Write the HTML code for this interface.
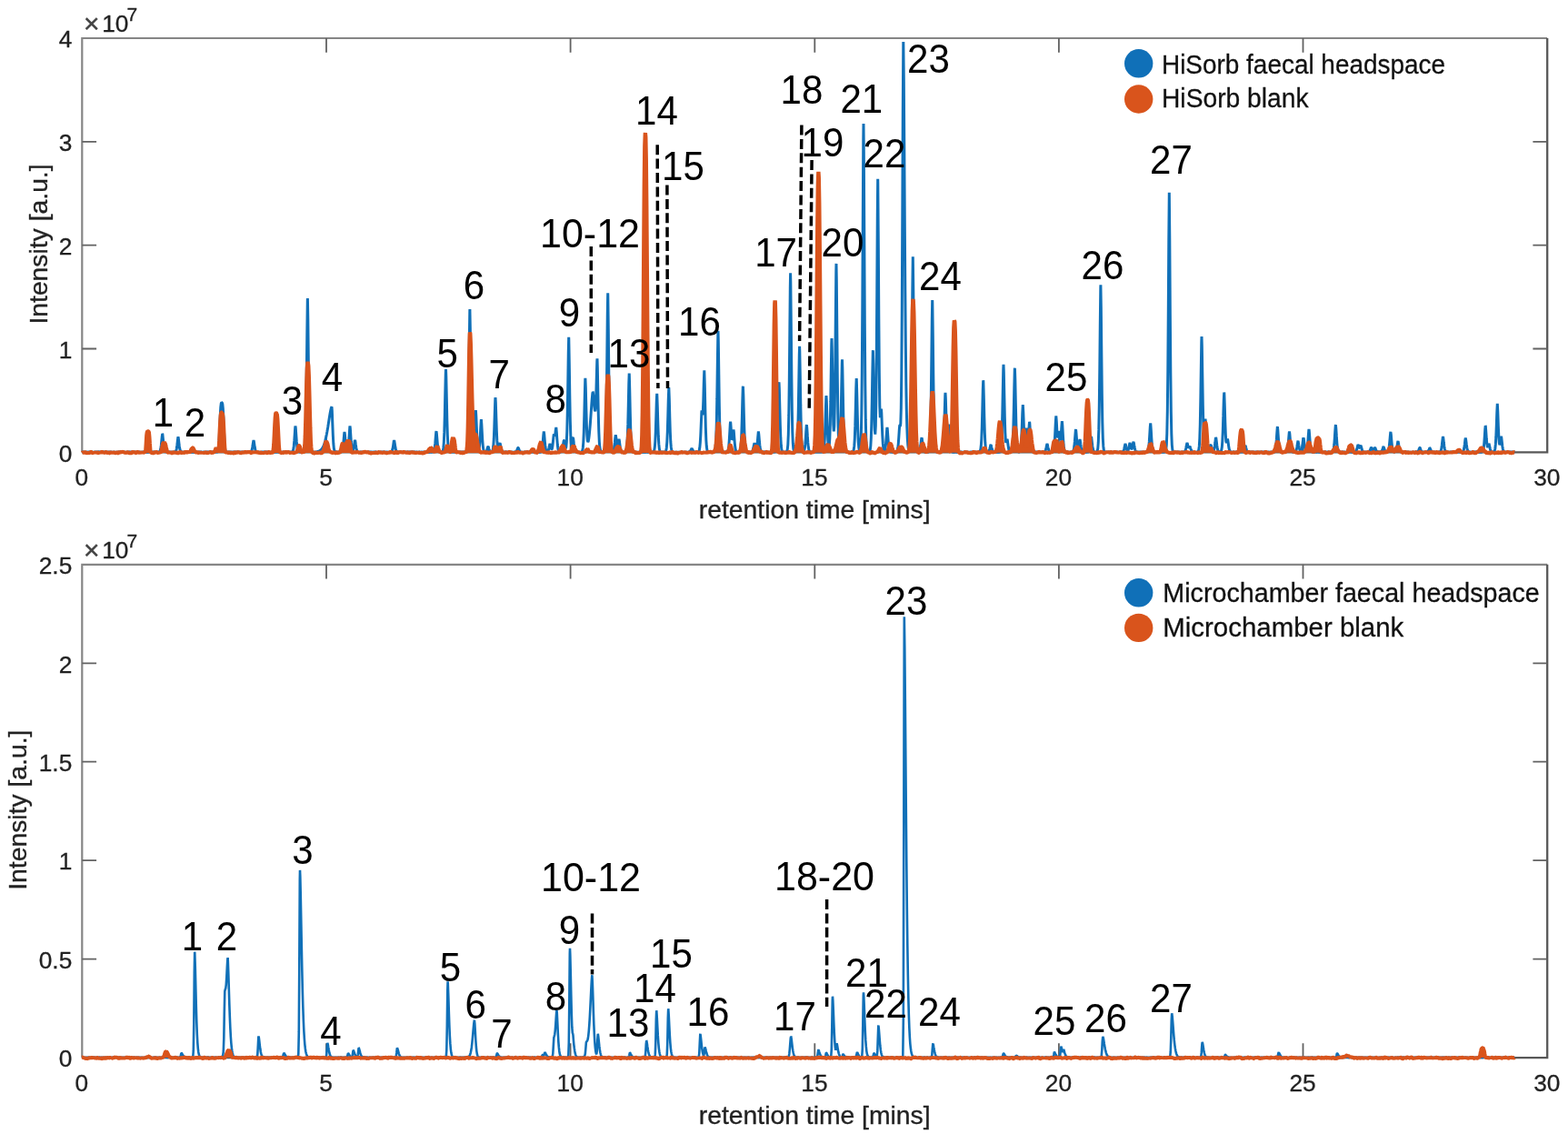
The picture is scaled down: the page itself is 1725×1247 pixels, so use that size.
<!DOCTYPE html>
<html lang="en"><head><meta charset="utf-8"><title>Chromatograms: HiSorb vs Microchamber faecal headspace</title>
<style>
html,body{margin:0;padding:0;background:#fff;}
body{width:1725px;height:1247px;overflow:hidden;}
svg{display:block;}
text{font-family:"Liberation Sans",sans-serif;}
.tk{font-size:26.3px;fill:#222;stroke:#222;stroke-width:0.3px;}
.al{font-size:28.3px;fill:#222;stroke:#222;stroke-width:0.35px;}
.pk{font-size:45px;fill:#000;text-anchor:middle;}
.lg{font-size:30.4px;fill:#111;stroke:#111;stroke-width:0.3px;}
.dash{stroke:#000;stroke-width:3.5;stroke-dasharray:11 4.4;fill:none;}
</style></head><body>
<svg width="1725" height="1247" viewBox="0 0 1725 1247">
<rect width="1725" height="1247" fill="#fff"/>
<g id="top">
<path d="M90.3,497.4 L90.3,42.0 L1702.2,42.0" fill="none" stroke="#868686" stroke-width="2.2"/>
<path d="M90.3,497.4 L1702.2,497.4 L1702.2,42.0" fill="none" stroke="#585858" stroke-width="2.3"/>
<path d="M359.0,42.0 v15.8 M359.0,497.4 v-15.8 M627.6,42.0 v15.8 M627.6,497.4 v-15.8 M896.3,42.0 v15.8 M896.3,497.4 v-15.8 M1164.9,42.0 v15.8 M1164.9,497.4 v-15.8 M1433.5,42.0 v15.8 M1433.5,497.4 v-15.8 M90.3,383.5 h15.8 M1702.2,383.5 h-15.8 M90.3,269.7 h15.8 M1702.2,269.7 h-15.8 M90.3,155.9 h15.8 M1702.2,155.9 h-15.8" fill="none" stroke="#626262" stroke-width="1.8"/>
<text class="tk" x="89.9" y="534.0" text-anchor="middle">0</text>
<text class="tk" x="358.6" y="534.0" text-anchor="middle">5</text>
<text class="tk" x="627.2" y="534.0" text-anchor="middle">10</text>
<text class="tk" x="895.9" y="534.0" text-anchor="middle">15</text>
<text class="tk" x="1164.5" y="534.0" text-anchor="middle">20</text>
<text class="tk" x="1433.1" y="534.0" text-anchor="middle">25</text>
<text class="tk" x="1701.8" y="534.0" text-anchor="middle">30</text>
<text class="tk" x="79.3" y="507.6" text-anchor="end">0</text>
<text class="tk" x="79.3" y="393.7" text-anchor="end">1</text>
<text class="tk" x="79.3" y="279.9" text-anchor="end">2</text>
<text class="tk" x="79.3" y="166.1" text-anchor="end">3</text>
<text class="tk" x="79.3" y="52.2" text-anchor="end">4</text>
<text class="tk" x="92.1" y="35.4"><tspan font-size="30px" dy="1" fill="#444">×</tspan><tspan dx="2.5" dy="-1">10</tspan><tspan dy="-12.5" dx="-2" font-size="21px">7</tspan></text>
<text class="al" x="896.2" y="570.3" text-anchor="middle">retention time [mins]</text>
<text class="al" transform="translate(52.0,268.5) rotate(-90)" text-anchor="middle">Intensity [a.u.]</text>
<polyline fill="none" stroke="#1070b8" stroke-width="3.0" stroke-linejoin="bevel" points="90.3,497.1 90.8,497.1 91.3,496.9 91.8,497.1 92.3,497.1 92.8,497.1 93.3,497.2 93.8,497.1 94.3,497.1 94.8,497.0 95.3,497.2 95.8,497.2 96.3,497.3 96.8,497.0 97.3,497.0 97.8,497.2 98.3,497.0 98.8,496.9 99.3,497.0 99.8,497.0 100.3,497.2 100.8,497.3 101.3,497.2 101.8,497.3 102.3,497.3 102.8,497.3 103.3,497.3 103.8,497.2 104.3,497.2 104.8,497.0 105.3,497.1 105.8,497.0 106.3,497.1 106.8,497.0 107.3,497.1 107.8,497.2 108.3,496.9 108.8,496.8 109.3,496.9 109.8,496.9 110.3,497.1 110.8,497.2 111.3,497.2 111.8,497.3 112.3,497.1 112.8,497.1 113.3,497.0 113.8,497.1 114.3,496.9 114.8,496.9 115.3,497.2 115.8,497.3 116.3,497.0 116.8,497.1 117.3,496.9 117.8,497.1 118.3,497.3 118.8,497.1 119.3,497.0 119.8,497.2 120.3,497.3 120.8,497.2 121.3,497.0 121.8,497.0 122.3,497.2 122.8,497.2 123.3,497.3 123.8,497.3 124.3,497.1 124.8,497.2 125.3,497.1 125.8,497.1 126.3,497.2 126.8,497.1 127.3,497.2 127.8,497.1 128.3,497.2 128.8,497.2 129.3,497.2 129.8,497.2 130.3,497.0 130.8,496.9 131.3,497.1 131.8,497.0 132.3,497.2 132.8,497.2 133.3,497.0 133.8,497.0 134.3,497.2 134.8,497.0 135.3,497.2 135.8,497.2 136.3,497.0 136.8,497.1 137.3,497.2 137.8,497.3 138.3,497.3 138.8,497.1 139.3,497.2 139.8,497.1 140.3,497.2 140.8,497.1 141.3,496.9 141.8,497.0 142.3,497.1 142.8,496.9 143.3,497.2 143.8,497.3 144.3,497.0 144.8,496.9 145.3,497.1 145.8,497.2 146.3,497.1 146.8,496.9 147.3,497.2 147.8,496.9 148.3,496.9 148.8,497.0 149.3,497.1 149.8,497.3 150.3,497.3 150.8,497.0 151.3,497.2 151.8,497.0 152.3,497.2 152.8,497.0 153.3,497.0 153.8,497.2 154.3,497.2 154.8,497.1 155.3,497.3 155.8,497.3 156.3,497.1 156.8,497.0 157.3,497.0 157.8,497.2 158.3,497.0 158.8,497.2 159.3,497.3 159.8,497.3 160.3,497.2 160.8,497.3 161.3,497.3 161.8,497.2 162.3,497.1 162.8,497.2 163.3,497.2 163.8,497.0 164.3,496.9 164.8,497.0 165.3,497.0 165.8,497.0 166.3,497.2 166.8,497.3 167.3,497.4 167.8,497.0 168.3,497.0 168.8,496.9 169.3,497.2 169.8,497.1 170.3,497.1 170.8,497.0 171.3,497.1 171.8,496.9 172.3,497.2 172.8,497.1 173.3,497.0 173.8,496.9 174.3,496.9 174.8,496.9 175.3,496.7 175.8,496.2 176.3,495.4 176.8,493.4 177.3,489.9 177.8,485.0 178.3,479.7 178.7,477.0 178.8,477.2 179.3,481.8 179.8,487.2 180.3,491.7 180.8,494.4 181.3,495.9 181.8,496.8 182.3,496.9 182.8,496.8 183.3,496.9 183.8,496.9 184.3,497.1 184.8,497.0 185.3,497.0 185.8,497.1 186.3,497.0 186.8,497.2 187.3,497.0 187.8,497.3 188.3,497.1 188.8,497.1 189.3,497.2 189.8,497.1 190.3,497.1 190.8,497.0 191.3,496.9 191.8,497.1 192.3,497.2 192.8,496.9 193.3,496.3 193.8,495.3 194.3,493.3 194.8,489.7 195.3,485.3 195.8,481.3 196.0,480.4 196.3,482.0 196.8,486.3 197.3,490.7 197.8,493.7 198.3,495.4 198.8,496.2 199.3,496.6 199.8,497.0 200.3,497.0 200.8,497.1 201.3,497.3 201.8,497.2 202.3,497.0 202.8,496.9 203.3,497.0 203.8,496.9 204.3,497.1 204.8,497.2 205.3,497.2 205.8,497.2 206.3,497.3 206.8,497.2 207.3,497.1 207.8,497.1 208.3,497.2 208.8,497.0 209.3,496.9 209.8,497.0 210.3,497.2 210.8,497.3 211.3,497.0 211.8,497.3 212.3,497.1 212.8,497.1 213.3,497.2 213.8,497.0 214.3,497.3 214.8,497.3 215.3,497.2 215.8,497.3 216.3,497.0 216.8,497.2 217.3,497.3 217.8,497.3 218.3,497.1 218.8,497.1 219.3,497.1 219.8,497.0 220.3,497.0 220.8,496.9 221.3,496.9 221.8,497.2 222.3,497.1 222.8,497.2 223.3,497.3 223.8,497.2 224.3,497.0 224.8,497.2 225.3,497.2 225.8,497.2 226.3,497.1 226.8,497.1 227.3,497.0 227.8,497.0 228.3,497.1 228.8,497.0 229.3,496.9 229.8,497.2 230.3,497.0 230.8,497.0 231.3,497.2 231.8,497.2 232.3,497.1 232.8,496.9 233.3,497.1 233.8,497.1 234.3,496.9 234.8,496.9 235.3,496.9 235.8,497.0 236.3,497.0 236.8,497.2 237.3,497.0 237.8,497.0 238.3,497.0 238.8,497.0 239.3,497.0 239.8,496.3 240.3,494.1 240.8,488.9 241.3,479.9 241.8,467.8 242.3,456.3 242.8,447.7 243.3,443.5 243.8,442.6 244.0,442.8 244.3,442.8 244.8,444.2 245.3,449.1 245.8,458.4 246.3,470.7 246.8,482.1 247.3,490.7 247.8,494.9 248.3,496.7 248.8,497.1 249.3,497.0 249.8,497.2 250.3,497.3 250.8,497.2 251.3,497.0 251.8,496.9 252.3,497.0 252.8,496.9 253.3,497.0 253.8,496.9 254.3,497.2 254.8,497.2 255.3,497.1 255.8,497.2 256.3,497.0 256.8,497.0 257.3,497.1 257.8,497.0 258.3,497.0 258.8,497.1 259.3,497.2 259.8,497.0 260.3,496.9 260.8,497.1 261.3,497.0 261.8,496.9 262.3,497.0 262.8,497.0 263.3,497.2 263.8,497.1 264.3,497.1 264.8,497.1 265.3,497.3 265.8,497.0 266.3,497.1 266.8,497.1 267.3,497.0 267.8,497.0 268.3,497.1 268.8,497.0 269.3,497.2 269.8,497.1 270.3,497.1 270.8,496.9 271.3,496.9 271.8,497.1 272.3,497.1 272.8,497.3 273.3,497.2 273.8,497.0 274.3,496.9 274.8,497.0 275.3,497.1 275.8,497.0 276.3,496.5 276.8,495.4 277.3,494.1 277.8,491.3 278.3,488.1 278.8,484.9 279.0,484.3 279.3,485.2 279.8,488.7 280.3,492.1 280.8,494.4 281.3,496.0 281.8,496.5 282.3,497.0 282.8,497.1 283.3,497.2 283.8,497.3 284.3,497.1 284.8,497.1 285.3,497.2 285.8,497.2 286.3,497.1 286.8,497.2 287.3,497.3 287.8,497.1 288.3,497.0 288.8,497.1 289.3,497.0 289.8,497.0 290.3,496.9 290.8,497.1 291.3,497.0 291.8,497.0 292.3,496.9 292.8,497.1 293.3,497.2 293.8,497.0 294.3,497.2 294.8,496.9 295.3,496.9 295.8,497.2 296.3,497.2 296.8,497.1 297.3,497.2 297.8,497.3 298.3,497.0 298.8,497.1 299.3,497.0 299.8,497.2 300.3,497.2 300.8,497.1 301.3,497.3 301.8,497.3 302.3,497.1 302.8,496.9 303.3,496.9 303.8,497.2 304.3,497.1 304.8,497.0 305.3,497.1 305.8,497.0 306.3,497.2 306.8,497.3 307.3,497.3 307.8,497.4 308.3,497.2 308.8,497.1 309.3,497.1 309.8,497.2 310.3,497.3 310.8,497.3 311.3,497.0 311.8,496.9 312.3,496.9 312.8,497.2 313.3,497.3 313.8,497.0 314.3,497.1 314.8,497.0 315.3,497.1 315.8,497.1 316.3,497.1 316.8,497.1 317.3,497.1 317.8,497.3 318.3,497.1 318.8,497.0 319.3,497.2 319.8,497.1 320.3,497.0 320.8,497.0 321.3,497.0 321.8,496.7 322.3,495.7 322.8,494.0 323.3,490.2 323.8,484.4 324.3,476.8 324.8,469.7 325.0,468.5 325.3,471.0 325.8,478.5 326.3,485.9 326.8,491.0 327.3,494.1 327.8,496.0 328.3,496.5 328.8,496.8 329.3,496.9 329.8,496.9 330.3,497.1 330.8,496.9 331.3,496.9 331.8,497.0 332.3,496.9 332.8,496.9 333.3,497.0 333.8,496.9 334.3,496.8 334.8,495.8 335.3,493.2 335.8,487.3 336.3,474.6 336.8,451.1 337.3,414.3 337.8,368.3 338.3,330.5 338.4,328.0 338.8,350.4 339.3,396.4 339.8,438.0 340.3,466.6 340.8,483.1 341.3,491.1 341.8,494.8 342.3,496.2 342.8,496.7 343.3,496.8 343.8,497.2 344.3,497.1 344.8,497.0 345.3,497.1 345.8,497.1 346.3,497.2 346.8,497.2 347.3,497.1 347.8,497.1 348.3,497.0 348.8,496.7 349.3,496.6 349.8,496.5 350.3,496.2 350.8,496.2 351.3,495.8 351.8,495.6 352.3,495.3 352.8,495.2 353.3,494.6 353.8,493.9 354.3,493.5 354.8,492.5 355.3,491.7 355.8,490.6 356.3,489.5 356.8,488.0 357.3,486.3 357.8,484.6 358.3,482.3 358.8,480.2 359.3,477.7 359.8,475.0 360.3,472.2 360.8,469.2 361.3,466.0 361.8,462.7 362.3,459.6 362.8,456.4 363.3,453.5 363.8,451.1 364.3,448.9 364.8,447.6 365.0,447.3 365.3,451.6 365.8,465.4 366.3,478.3 366.8,487.5 367.3,492.9 367.8,495.2 368.3,496.2 368.8,497.0 369.3,496.9 369.8,497.1 370.3,497.1 370.8,496.9 371.3,497.1 371.8,497.1 372.3,496.9 372.8,497.0 373.3,497.1 373.8,496.9 374.3,496.9 374.8,496.9 375.3,497.1 375.8,496.7 376.3,496.0 376.8,494.7 377.3,492.1 377.8,487.5 378.3,481.7 378.8,476.2 379.0,475.1 379.3,477.0 379.8,482.9 380.3,488.4 380.8,492.5 381.3,494.7 381.8,495.6 382.3,495.1 382.8,493.5 383.3,490.1 383.8,484.6 384.3,477.1 384.8,469.8 385.0,468.5 385.3,470.9 385.8,478.6 386.3,486.0 386.8,491.0 387.3,494.0 387.8,495.2 388.3,495.1 388.8,493.7 389.3,491.4 389.8,488.0 390.3,484.5 390.5,483.9 390.8,485.0 391.3,488.7 391.8,492.2 392.3,494.6 392.8,495.9 393.3,496.5 393.8,497.0 394.3,497.1 394.8,497.3 395.3,497.3 395.8,497.1 396.3,497.1 396.8,497.0 397.3,497.1 397.8,497.1 398.3,497.2 398.8,497.2 399.3,497.0 399.8,496.9 400.3,497.2 400.8,497.3 401.3,497.0 401.8,497.0 402.3,497.0 402.8,497.2 403.3,497.2 403.8,497.2 404.3,497.0 404.8,497.1 405.3,497.0 405.8,496.9 406.3,497.1 406.8,497.1 407.3,497.0 407.8,496.9 408.3,497.1 408.8,497.1 409.3,497.3 409.8,497.0 410.3,497.2 410.8,497.3 411.3,497.1 411.8,497.1 412.3,497.0 412.8,497.2 413.3,497.0 413.8,497.2 414.3,497.3 414.8,497.1 415.3,497.3 415.8,497.2 416.3,497.1 416.8,497.0 417.3,497.2 417.8,497.3 418.3,497.2 418.8,497.1 419.3,497.1 419.8,497.3 420.3,497.1 420.8,497.1 421.3,496.9 421.8,496.9 422.3,496.9 422.8,497.0 423.3,497.0 423.8,497.1 424.3,497.2 424.8,497.2 425.3,497.0 425.8,496.9 426.3,497.1 426.8,497.2 427.3,497.2 427.8,497.2 428.3,497.2 428.8,497.2 429.3,497.2 429.8,497.1 430.3,496.8 430.8,496.5 431.3,495.7 431.8,494.3 432.3,492.1 432.8,488.6 433.3,485.0 433.6,484.1 433.8,484.9 434.3,488.0 434.8,491.4 435.3,494.0 435.8,495.4 436.3,496.3 436.8,496.7 437.3,497.1 437.8,497.1 438.3,497.0 438.8,497.2 439.3,497.3 439.8,497.1 440.3,496.9 440.8,497.2 441.3,497.1 441.8,497.2 442.3,497.1 442.8,497.0 443.3,497.2 443.8,497.2 444.3,497.0 444.8,497.1 445.3,497.0 445.8,497.1 446.3,497.2 446.8,496.9 447.3,497.0 447.8,497.1 448.3,497.1 448.8,497.0 449.3,497.0 449.8,496.9 450.3,497.1 450.8,497.0 451.3,497.0 451.8,496.9 452.3,496.9 452.8,496.9 453.3,496.9 453.8,496.8 454.3,497.0 454.8,497.0 455.3,497.0 455.8,496.9 456.3,497.1 456.8,497.1 457.3,497.2 457.8,497.1 458.3,496.9 458.8,497.1 459.3,497.2 459.8,497.3 460.3,497.2 460.8,497.2 461.3,497.0 461.8,497.2 462.3,497.2 462.8,497.3 463.3,497.1 463.8,497.0 464.3,497.2 464.8,497.3 465.3,497.2 465.8,497.1 466.3,496.9 466.8,497.2 467.3,497.3 467.8,497.3 468.3,497.3 468.8,497.3 469.3,497.1 469.8,497.1 470.3,497.2 470.8,497.3 471.3,497.2 471.8,497.3 472.3,497.1 472.8,497.2 473.3,497.1 473.8,497.0 474.3,497.1 474.8,497.2 475.3,497.0 475.8,496.8 476.3,496.9 476.8,496.6 477.3,495.8 477.8,494.4 478.3,491.7 478.8,487.2 479.3,480.7 479.8,475.0 480.0,474.1 480.3,476.1 480.8,482.1 481.3,488.1 481.8,492.2 482.3,494.7 482.8,496.2 483.3,496.9 483.8,497.1 484.3,497.1 484.8,497.0 485.3,497.0 485.8,497.0 486.3,497.0 486.8,496.6 487.3,495.5 487.8,492.7 488.3,486.6 488.8,475.4 489.3,457.0 489.8,432.5 490.3,410.3 490.5,406.1 490.8,414.0 491.3,437.8 491.8,461.5 492.3,478.1 492.8,488.1 493.3,493.2 493.8,495.8 494.3,496.7 494.8,496.9 495.3,497.2 495.8,497.1 496.3,497.1 496.8,496.9 497.3,497.0 497.8,496.9 498.3,497.1 498.8,497.0 499.3,497.1 499.8,496.9 500.3,497.2 500.8,497.0 501.3,497.2 501.8,497.1 502.3,497.1 502.8,497.2 503.3,497.0 503.8,497.1 504.3,497.2 504.8,497.3 505.3,497.2 505.8,497.2 506.3,497.0 506.8,497.1 507.3,497.0 507.8,497.2 508.3,497.2 508.8,497.1 509.3,496.9 509.8,496.9 510.3,497.0 510.8,497.2 511.3,497.2 511.8,497.0 512.3,497.0 512.8,496.7 513.3,495.8 513.8,493.6 514.3,487.7 514.8,475.9 515.3,454.4 515.8,420.2 516.3,377.4 516.8,342.6 516.9,340.1 517.3,360.9 517.8,403.7 518.3,442.3 518.8,468.7 519.3,484.0 519.8,491.5 520.3,493.9 520.8,493.7 521.3,490.6 521.8,484.4 522.3,474.5 522.8,462.0 523.3,451.7 523.4,451.2 523.8,457.4 524.3,469.9 524.8,481.0 525.3,488.6 525.8,493.1 526.3,494.7 526.8,494.3 527.3,492.0 527.8,487.4 528.3,479.6 528.8,469.8 529.3,461.9 529.4,461.2 529.8,466.1 530.3,475.6 530.8,484.5 531.3,490.6 531.8,494.1 532.3,495.7 532.8,496.5 533.3,496.9 533.8,497.0 534.3,496.8 534.8,496.6 535.3,495.8 535.8,494.4 536.3,492.7 536.8,491.2 537.0,491.0 537.3,491.5 537.8,493.4 538.3,494.9 538.8,496.0 539.3,496.5 539.8,497.0 540.3,497.1 540.8,497.0 541.3,496.6 541.8,495.8 542.3,494.0 542.8,490.3 543.3,482.7 543.8,470.5 544.3,454.6 544.8,439.9 545.0,437.1 545.3,442.4 545.8,458.0 546.3,473.2 546.8,484.4 547.3,490.6 547.8,493.3 548.3,493.8 548.8,492.2 549.3,489.8 549.8,487.6 550.0,487.3 550.3,488.1 550.8,490.6 551.3,493.1 551.8,495.1 552.3,496.0 552.8,496.7 553.3,497.0 553.8,497.2 554.3,497.0 554.8,497.2 555.3,497.0 555.8,497.0 556.3,497.1 556.8,497.1 557.3,497.2 557.8,497.0 558.3,496.9 558.8,496.9 559.3,497.0 559.8,497.2 560.3,497.0 560.8,497.2 561.3,497.0 561.8,497.2 562.3,497.1 562.8,497.0 563.3,497.2 563.8,497.1 564.3,497.3 564.8,497.3 565.3,497.3 565.8,497.0 566.3,496.9 566.8,496.9 567.3,496.9 567.8,496.5 568.3,495.8 568.8,494.9 569.3,493.5 569.8,492.2 570.0,492.2 570.3,492.7 570.8,493.9 571.3,495.3 571.8,496.2 572.3,496.6 572.8,497.0 573.3,497.1 573.8,497.2 574.3,497.1 574.8,497.2 575.3,497.1 575.8,497.3 576.3,497.1 576.8,497.2 577.3,497.0 577.8,497.0 578.3,497.1 578.8,497.1 579.3,497.1 579.8,497.0 580.3,497.0 580.8,497.0 581.3,497.1 581.8,496.9 582.3,496.9 582.8,496.9 583.3,497.1 583.8,497.1 584.3,497.1 584.8,496.9 585.3,497.0 585.8,497.1 586.3,497.1 586.8,496.9 587.3,497.1 587.8,497.3 588.3,497.1 588.8,496.9 589.3,497.0 589.8,497.0 590.3,497.0 590.8,497.1 591.3,497.1 591.8,497.3 592.3,497.3 592.8,497.2 593.3,497.1 593.8,497.1 594.3,497.2 594.8,496.9 595.3,496.4 595.8,495.6 596.3,493.7 596.8,490.2 597.3,485.0 597.8,478.9 598.3,474.5 598.8,478.5 599.3,484.8 599.8,489.9 600.3,493.6 600.8,495.4 601.3,496.5 601.8,496.6 602.3,496.5 602.8,495.9 603.3,495.0 603.8,493.1 604.3,490.8 604.8,488.5 605.0,487.9 605.3,488.9 605.8,491.2 606.3,493.2 606.8,494.1 607.3,493.6 607.8,491.0 608.3,486.8 608.8,481.6 609.3,477.3 609.8,478.3 610.3,479.5 610.8,477.7 611.3,473.0 611.8,469.9 612.3,475.4 612.8,482.7 613.3,488.8 613.8,493.0 614.3,495.4 614.8,496.5 615.3,496.7 615.8,496.8 616.3,497.1 616.8,496.9 617.3,496.8 617.8,496.3 618.3,495.5 618.8,493.5 619.3,490.5 619.8,487.2 620.3,484.2 620.4,484.2 620.8,485.7 621.3,489.3 621.8,492.2 622.3,493.1 622.8,491.8 623.3,486.1 623.8,474.0 624.3,452.8 624.8,422.1 625.3,387.7 625.7,370.9 625.8,373.0 626.3,401.1 626.8,435.5 627.3,462.6 627.8,479.2 628.3,487.6 628.8,489.9 629.3,488.4 629.8,484.5 630.3,481.1 630.4,481.0 630.8,483.1 631.3,487.4 631.8,491.4 632.3,494.3 632.8,495.9 633.3,496.4 633.8,496.8 634.3,497.1 634.8,497.0 635.3,497.2 635.8,497.0 636.3,497.1 636.8,497.1 637.3,497.1 637.8,497.3 638.3,497.1 638.8,497.2 639.3,497.1 639.8,496.8 640.3,496.5 640.8,495.3 641.3,492.2 641.8,486.3 642.3,475.2 642.8,457.6 643.3,435.6 643.8,417.3 643.9,415.8 644.3,426.3 644.8,447.4 645.3,466.1 645.8,478.4 646.3,484.4 646.8,486.1 647.3,485.1 647.8,482.1 648.3,477.8 648.8,472.7 649.3,466.6 649.8,459.7 650.3,452.5 650.8,445.2 651.3,438.3 651.8,433.1 652.2,431.0 652.3,431.1 652.8,434.9 653.3,440.4 653.8,446.5 654.3,451.0 654.8,452.3 655.3,447.5 655.8,434.8 656.3,415.4 656.8,397.0 657.0,394.4 657.3,404.1 657.8,430.8 658.3,456.1 658.8,474.5 659.3,485.8 659.8,491.6 660.3,494.4 660.8,495.7 661.3,496.2 661.8,496.8 662.3,497.0 662.8,497.2 663.3,497.1 663.8,497.0 664.3,496.9 664.8,496.4 665.3,494.7 665.8,491.2 666.3,482.5 666.8,465.5 667.3,435.9 667.8,392.8 668.3,345.3 668.7,322.3 668.8,324.9 669.3,363.9 669.8,411.6 670.3,449.5 670.8,473.7 671.3,486.9 671.8,493.0 672.3,495.8 672.8,496.5 673.3,497.0 673.8,497.0 674.3,496.7 674.8,495.8 675.3,494.0 675.8,491.1 676.3,486.9 676.8,481.6 677.3,478.1 677.8,481.4 678.3,486.0 678.8,489.8 679.3,490.9 679.8,489.5 680.3,486.4 680.8,483.6 681.0,483.0 681.3,484.1 681.8,488.1 682.3,491.7 682.8,494.1 683.3,495.8 683.8,496.6 684.3,497.0 684.8,497.1 685.3,497.3 685.8,497.3 686.3,497.0 686.8,496.9 687.3,496.9 687.8,497.0 688.3,496.8 688.8,496.0 689.3,494.2 689.8,490.0 690.3,481.4 690.8,466.9 691.3,445.7 691.8,421.9 692.2,410.5 692.3,412.1 692.8,431.2 693.3,454.7 693.8,473.7 694.3,485.6 694.8,492.0 695.3,494.9 695.8,496.3 696.3,496.7 696.8,497.0 697.3,497.1 697.8,497.0 698.3,497.1 698.8,497.0 699.3,497.2 699.8,497.2 700.3,497.3 700.8,497.1 701.3,497.2 701.8,497.3 702.3,497.3 702.8,497.2 703.3,497.2 703.8,497.2 704.3,496.9 704.8,497.0 705.3,496.9 705.8,497.1 706.3,497.2 706.8,497.3 707.3,497.1 707.8,497.2 708.3,497.2 708.8,497.3 709.3,497.3 709.8,497.3 710.3,497.2 710.8,497.0 711.3,497.0 711.8,497.1 712.3,497.2 712.8,497.3 713.3,497.0 713.8,497.1 714.3,497.0 714.8,497.0 715.3,496.9 715.8,497.2 716.3,497.2 716.8,497.2 717.3,497.3 717.8,497.0 718.3,497.0 718.8,496.7 719.3,496.2 719.8,495.0 720.3,491.8 720.8,485.6 721.3,474.8 721.8,458.9 722.3,441.2 722.7,432.8 722.8,433.7 723.3,448.0 723.8,465.5 724.3,479.7 724.8,488.4 725.3,493.4 725.8,495.5 726.3,496.5 726.8,497.0 727.3,497.2 727.8,497.2 728.3,497.1 728.8,497.1 729.3,497.2 729.8,497.0 730.3,497.2 730.8,497.2 731.3,497.1 731.8,497.0 732.3,496.6 732.8,495.3 733.3,492.2 733.8,486.0 734.3,475.0 734.8,458.4 735.3,439.1 735.8,426.0 736.3,438.9 736.8,458.7 737.3,475.1 737.8,486.0 738.3,491.9 738.8,494.9 739.3,496.4 739.8,496.8 740.3,497.2 740.8,497.2 741.3,497.2 741.8,497.3 742.3,497.2 742.8,497.2 743.3,497.1 743.8,497.2 744.3,497.3 744.8,497.2 745.3,497.1 745.8,497.2 746.3,497.1 746.8,497.2 747.3,497.3 747.8,497.2 748.3,497.2 748.8,497.3 749.3,497.1 749.8,497.0 750.3,497.1 750.8,497.0 751.3,497.3 751.8,497.2 752.3,497.2 752.8,497.3 753.3,497.2 753.8,497.3 754.3,497.2 754.8,497.1 755.3,497.1 755.8,497.2 756.3,497.2 756.8,497.3 757.3,497.2 757.8,496.9 758.3,496.8 758.8,496.7 759.3,496.1 759.8,495.4 760.3,494.3 760.8,493.3 761.0,492.9 761.3,493.4 761.8,494.5 762.3,495.3 762.8,496.1 763.3,496.6 763.8,496.8 764.3,497.0 764.8,497.1 765.3,497.2 765.8,497.0 766.3,496.9 766.8,497.1 767.3,496.9 767.8,497.1 768.3,497.0 768.8,496.3 769.3,495.1 769.8,492.3 770.3,486.8 770.8,478.4 771.3,466.6 771.8,454.7 772.0,451.4 772.3,452.6 772.8,456.3 773.3,453.4 773.8,440.8 774.3,421.2 774.8,407.4 775.3,424.5 775.8,449.2 776.3,469.8 776.8,483.3 777.3,490.8 777.8,494.4 778.3,496.2 778.8,496.8 779.3,496.9 779.8,497.1 780.3,497.0 780.8,497.0 781.3,497.0 781.8,496.9 782.3,496.9 782.8,497.2 783.3,497.1 783.8,497.1 784.3,497.1 784.8,497.1 785.3,497.1 785.8,496.7 786.3,496.1 786.8,494.6 787.3,490.6 787.8,481.9 788.3,465.4 788.8,438.4 789.3,402.9 789.8,369.9 790.0,363.8 790.3,375.3 790.8,410.2 791.3,444.8 791.8,469.4 792.3,484.0 792.8,491.6 793.3,495.1 793.8,496.3 794.3,496.7 794.8,497.1 795.3,497.2 795.8,497.1 796.3,497.0 796.8,497.1 797.3,497.0 797.8,497.2 798.3,497.0 798.8,497.1 799.3,497.1 799.8,496.8 800.3,496.4 800.8,495.6 801.3,493.8 801.8,490.2 802.3,484.0 802.8,475.5 803.3,466.6 803.6,463.6 803.8,465.2 804.3,472.7 804.8,479.8 805.3,483.6 805.8,482.9 806.3,478.7 806.8,473.6 807.0,472.5 807.3,474.7 807.8,481.5 808.3,487.6 808.8,492.1 809.3,494.7 809.8,496.1 810.3,496.6 810.8,496.7 811.3,497.1 811.8,497.0 812.3,497.2 812.8,497.3 813.3,497.1 813.8,496.4 814.3,495.2 814.8,492.9 815.3,487.5 815.8,477.6 816.3,461.7 816.8,441.8 817.3,425.8 817.4,424.7 817.8,434.1 818.3,453.8 818.8,471.8 819.3,484.1 819.8,491.1 820.3,494.5 820.8,495.9 821.3,496.7 821.8,496.9 822.3,497.0 822.8,497.0 823.3,497.2 823.8,497.3 824.3,497.3 824.8,497.0 825.3,497.2 825.8,497.1 826.3,497.2 826.8,497.0 827.3,496.8 827.8,496.0 828.3,494.9 828.8,492.7 829.3,490.1 829.8,487.7 830.0,487.1 830.3,488.0 830.8,490.5 831.3,492.9 831.8,493.9 832.3,493.0 832.8,490.6 833.3,486.1 833.8,480.1 834.3,475.0 834.4,474.4 834.8,477.6 835.3,483.6 835.8,489.2 836.3,493.1 836.8,495.1 837.3,496.3 837.8,497.0 838.3,497.0 838.8,497.0 839.3,497.0 839.8,497.2 840.3,497.0 840.8,496.9 841.3,496.8 841.8,497.0 842.3,496.9 842.8,497.0 843.3,497.2 843.8,497.3 844.3,497.3 844.8,497.3 845.3,497.3 845.8,497.2 846.3,497.1 846.8,497.2 847.3,497.1 847.8,497.3 848.3,497.3 848.8,497.0 849.3,497.3 849.8,497.1 850.3,497.0 850.8,496.9 851.3,497.0 851.8,497.1 852.3,496.9 852.8,496.8 853.3,496.4 853.8,495.4 854.3,493.4 854.8,488.1 855.3,478.7 855.8,463.1 856.3,442.7 856.8,423.5 857.0,420.2 857.3,426.7 857.8,447.1 858.3,466.9 858.8,481.2 859.3,489.5 859.8,493.8 860.3,495.9 860.8,496.6 861.3,497.0 861.8,497.2 862.3,497.0 862.8,497.1 863.3,497.3 863.8,497.2 864.3,497.0 864.8,497.1 865.3,496.7 865.8,496.0 866.3,493.9 866.8,489.1 867.3,478.0 867.8,456.4 868.3,419.8 868.8,368.9 869.3,317.2 869.6,300.2 869.8,309.2 870.3,357.9 870.8,410.5 871.3,450.0 871.8,474.6 872.3,487.2 872.8,493.3 873.3,495.6 873.8,496.8 874.3,496.8 874.8,497.0 875.3,496.7 875.8,496.5 876.3,495.3 876.8,492.2 877.3,485.8 877.8,473.0 878.3,451.3 878.8,421.1 879.3,390.6 879.6,380.7 879.8,386.0 880.3,414.6 880.8,445.9 881.3,469.3 881.8,483.8 882.3,491.3 882.8,494.9 883.3,496.2 883.8,496.4 884.3,496.1 884.8,495.2 885.3,493.0 885.8,488.9 886.3,482.6 886.8,474.1 887.3,467.5 887.4,467.1 887.8,471.0 888.3,479.2 888.8,486.7 889.3,491.8 889.8,494.6 890.3,496.0 890.8,496.7 891.3,497.1 891.8,497.1 892.3,497.1 892.8,497.1 893.3,497.1 893.8,496.9 894.3,497.2 894.8,497.1 895.3,496.9 895.8,496.9 896.3,497.1 896.8,497.0 897.3,496.9 897.8,497.1 898.3,496.9 898.8,497.2 899.3,496.9 899.8,497.0 900.3,497.2 900.8,497.0 901.3,497.0 901.8,496.9 902.3,496.9 902.8,496.9 903.3,497.0 903.8,496.9 904.3,497.2 904.8,496.8 905.3,496.6 905.8,496.0 906.3,493.9 906.8,490.0 907.3,482.3 907.8,469.7 908.3,453.3 908.8,438.0 909.0,435.1 909.3,440.6 909.8,456.8 910.3,472.5 910.8,483.9 911.3,490.3 911.8,492.0 912.3,489.8 912.8,482.3 913.3,467.1 913.8,441.9 914.3,408.5 914.8,377.8 915.0,372.1 915.3,382.8 915.8,415.5 916.3,446.7 916.8,467.0 917.3,474.5 917.8,468.3 918.3,445.9 918.8,405.5 919.3,350.4 919.8,299.4 920.0,289.9 920.3,307.9 920.8,362.2 921.3,415.8 921.8,454.0 922.3,476.5 922.8,487.7 923.3,491.9 923.8,490.9 924.3,485.1 924.8,472.9 925.3,452.3 925.8,425.1 926.3,399.7 926.5,395.2 926.8,403.8 927.3,430.6 927.8,457.1 928.3,476.1 928.8,487.1 929.3,492.9 929.8,495.6 930.3,496.7 930.8,496.8 931.3,497.0 931.8,497.1 932.3,497.2 932.8,497.0 933.3,497.0 933.8,497.0 934.3,497.1 934.8,497.2 935.3,497.2 935.8,497.3 936.3,497.1 936.8,497.1 937.3,497.0 937.8,497.0 938.3,496.8 938.8,496.1 939.3,494.1 939.8,490.4 940.3,482.4 940.8,468.9 941.3,448.9 941.8,426.9 942.2,416.0 942.3,417.4 942.8,435.2 943.3,457.3 943.8,475.0 944.3,486.1 944.8,492.2 945.3,494.8 945.8,495.5 946.3,494.4 946.8,490.2 947.3,479.3 947.8,455.8 948.3,411.1 948.8,338.2 949.3,241.9 949.8,152.5 950.0,136.0 950.3,167.0 950.8,262.2 951.3,355.3 951.8,422.0 952.3,461.9 952.8,482.2 953.3,491.5 953.8,495.0 954.3,496.3 954.8,496.8 955.3,497.0 955.8,497.1 956.3,496.7 956.8,496.3 957.3,494.6 957.8,490.6 958.3,482.0 958.8,466.5 959.3,442.3 959.8,411.5 960.3,386.6 960.4,385.2 960.8,399.8 961.3,430.0 961.8,456.7 962.3,473.1 962.8,477.6 963.3,468.3 963.8,441.5 964.3,391.5 964.8,318.0 965.3,236.3 965.7,196.8 965.8,201.2 966.3,267.3 966.8,347.9 967.3,409.9 967.8,446.1 968.3,459.2 968.8,457.6 969.3,450.6 969.5,449.5 969.8,454.0 970.3,467.0 970.8,479.0 971.3,487.7 971.8,492.6 972.3,495.0 972.8,496.0 973.3,495.7 973.8,493.9 974.3,490.6 974.8,485.1 975.3,478.1 975.8,471.2 976.0,470.0 976.3,472.3 976.8,479.6 977.3,486.5 977.8,491.7 978.3,494.4 978.8,495.8 979.3,496.4 979.8,497.1 980.3,497.1 980.8,497.1 981.3,497.1 981.8,497.2 982.3,497.0 982.8,497.2 983.3,497.1 983.8,497.3 984.3,497.1 984.8,497.2 985.3,497.3 985.8,497.0 986.3,496.9 986.8,496.1 987.3,494.9 987.8,492.3 988.3,487.8 988.8,480.9 989.3,472.8 989.7,467.9 989.8,467.8 990.3,469.1 990.8,466.1 991.3,449.2 991.8,410.2 992.3,339.9 992.8,238.0 993.3,121.6 993.8,46.0 994.3,89.2 994.8,164.7 995.3,245.8 995.8,318.7 996.3,377.3 996.8,420.5 997.3,450.3 997.8,469.8 998.3,482.0 998.8,489.0 999.3,493.0 999.8,495.0 1000.3,495.5 1000.8,494.2 1001.3,490.7 1001.8,481.8 1002.3,463.7 1002.8,430.7 1003.3,380.9 1003.8,321.6 1004.3,282.3 1004.8,321.4 1005.3,380.7 1005.8,430.6 1006.3,463.6 1006.8,481.9 1007.3,490.7 1007.8,494.7 1008.3,496.3 1008.8,496.7 1009.3,497.0 1009.8,497.1 1010.3,496.9 1010.8,496.9 1011.3,496.4 1011.8,495.3 1012.3,493.3 1012.8,490.1 1013.3,485.8 1013.8,481.9 1014.0,481.3 1014.3,482.4 1014.8,486.8 1015.3,490.9 1015.8,493.8 1016.3,495.6 1016.8,496.6 1017.3,497.0 1017.8,497.1 1018.3,497.2 1018.8,497.1 1019.3,497.2 1019.8,497.0 1020.3,497.1 1020.8,497.2 1021.3,497.0 1021.8,496.2 1022.3,495.1 1022.8,491.4 1023.3,483.1 1023.8,467.0 1024.3,438.7 1024.8,397.7 1025.3,352.2 1025.7,330.1 1025.8,332.6 1026.3,369.8 1026.8,415.4 1027.3,451.6 1027.8,474.6 1028.3,487.4 1028.8,493.4 1029.3,495.8 1029.8,496.8 1030.3,496.9 1030.8,497.1 1031.3,497.0 1031.8,497.1 1032.3,497.2 1032.8,497.1 1033.3,497.2 1033.8,497.0 1034.3,496.9 1034.8,497.1 1035.3,497.1 1035.8,496.9 1036.3,496.5 1036.8,495.7 1037.3,494.0 1037.8,489.6 1038.3,481.8 1038.8,468.5 1039.3,451.1 1039.8,434.8 1040.0,431.9 1040.3,437.6 1040.8,454.1 1041.3,469.9 1041.8,480.1 1042.3,483.8 1042.8,481.2 1043.3,474.9 1043.8,468.0 1044.0,466.7 1044.3,469.3 1044.8,477.6 1045.3,485.2 1045.8,490.9 1046.3,494.1 1046.8,495.9 1047.3,496.6 1047.8,497.0 1048.3,497.2 1048.8,497.2 1049.3,497.0 1049.8,497.2 1050.3,497.3 1050.8,497.0 1051.3,497.0 1051.8,497.1 1052.3,497.2 1052.8,497.3 1053.3,497.2 1053.8,497.0 1054.3,497.0 1054.8,496.9 1055.3,497.1 1055.8,497.1 1056.3,497.1 1056.8,497.0 1057.3,497.2 1057.8,497.0 1058.3,497.1 1058.8,497.3 1059.3,497.2 1059.8,497.2 1060.3,497.1 1060.8,496.9 1061.3,497.0 1061.8,497.0 1062.3,497.1 1062.8,497.0 1063.3,497.2 1063.8,497.0 1064.3,497.2 1064.8,497.1 1065.3,497.2 1065.8,497.2 1066.3,497.3 1066.8,497.2 1067.3,497.1 1067.8,497.1 1068.3,497.1 1068.8,497.1 1069.3,497.0 1069.8,497.1 1070.3,497.1 1070.8,497.1 1071.3,496.9 1071.8,497.1 1072.3,497.0 1072.8,497.2 1073.3,497.2 1073.8,497.1 1074.3,497.1 1074.8,497.2 1075.3,497.3 1075.8,497.0 1076.3,497.1 1076.8,497.0 1077.3,497.0 1077.8,496.7 1078.3,496.0 1078.8,494.2 1079.3,490.3 1079.8,482.8 1080.3,469.5 1080.8,450.2 1081.3,428.5 1081.7,418.2 1081.8,419.4 1082.3,436.8 1082.8,458.6 1083.3,475.6 1083.8,486.5 1084.3,492.4 1084.8,495.3 1085.3,496.6 1085.8,496.7 1086.3,496.8 1086.8,496.8 1087.3,496.8 1087.8,496.1 1088.3,495.3 1088.8,493.7 1089.3,491.5 1089.8,489.4 1090.0,489.2 1090.3,489.7 1090.8,491.8 1091.3,493.8 1091.8,495.2 1092.3,496.2 1092.8,496.8 1093.3,496.8 1093.8,496.9 1094.3,497.1 1094.8,497.0 1095.3,497.0 1095.8,497.1 1096.3,497.2 1096.8,497.3 1097.3,497.2 1097.8,497.2 1098.3,497.2 1098.8,497.2 1099.3,497.2 1099.8,497.0 1100.3,496.6 1100.8,495.4 1101.3,492.5 1101.8,486.1 1102.3,474.1 1102.8,455.0 1103.3,429.1 1103.8,405.3 1104.0,400.9 1104.3,409.2 1104.8,434.2 1105.3,458.6 1105.8,475.5 1106.3,484.2 1106.8,486.8 1107.3,485.7 1107.8,483.4 1108.0,482.7 1108.3,484.1 1108.8,487.8 1109.3,491.6 1109.8,494.2 1110.3,495.8 1110.8,496.4 1111.3,496.7 1111.8,496.9 1112.3,496.8 1112.8,496.3 1113.3,495.0 1113.8,491.5 1114.3,484.8 1114.8,471.8 1115.3,451.7 1115.8,426.7 1116.3,405.9 1116.4,404.7 1116.8,416.8 1117.3,442.2 1117.8,464.6 1118.3,480.4 1118.8,489.3 1119.3,494.0 1119.8,495.9 1120.3,496.8 1120.8,497.2 1121.3,496.9 1121.8,496.4 1122.3,495.5 1122.8,493.3 1123.3,488.8 1123.8,480.9 1124.3,469.1 1124.8,454.6 1125.3,445.1 1125.8,454.2 1126.3,467.7 1126.8,478.1 1127.3,482.9 1127.8,482.0 1128.3,477.2 1128.8,471.6 1129.0,470.6 1129.3,472.7 1129.8,478.8 1130.3,483.5 1130.8,484.7 1131.3,481.7 1131.8,474.7 1132.3,466.6 1132.6,463.8 1132.8,465.3 1133.3,473.5 1133.8,482.3 1134.3,489.0 1134.8,493.1 1135.3,495.2 1135.8,496.6 1136.3,496.9 1136.8,497.0 1137.3,497.0 1137.8,497.0 1138.3,497.0 1138.8,496.9 1139.3,497.2 1139.8,497.1 1140.3,496.9 1140.8,497.2 1141.3,497.3 1141.8,497.0 1142.3,496.9 1142.8,497.2 1143.3,497.3 1143.8,497.0 1144.3,497.0 1144.8,497.1 1145.3,497.1 1145.8,497.0 1146.3,496.9 1146.8,497.2 1147.3,497.3 1147.8,497.0 1148.3,496.8 1148.8,496.7 1149.3,496.6 1149.8,496.1 1150.3,495.0 1150.8,493.4 1151.3,490.7 1151.8,488.6 1152.0,488.1 1152.3,488.9 1152.8,491.3 1153.3,493.5 1153.8,495.2 1154.3,496.3 1154.8,496.6 1155.3,497.0 1155.8,497.2 1156.3,497.2 1156.8,497.1 1157.3,497.0 1157.8,497.0 1158.3,496.8 1158.8,496.0 1159.3,494.4 1159.8,491.0 1160.3,485.0 1160.8,475.6 1161.3,464.8 1161.8,457.3 1162.3,463.9 1162.8,473.3 1163.3,479.6 1163.8,481.2 1164.3,478.5 1164.8,474.6 1165.0,474.0 1165.3,475.7 1165.8,480.7 1166.3,484.1 1166.8,483.5 1167.3,478.4 1167.8,470.6 1168.3,463.8 1168.4,463.2 1168.8,467.7 1169.3,477.1 1169.8,485.5 1170.3,491.0 1170.8,494.2 1171.3,496.0 1171.8,496.6 1172.3,497.0 1172.8,497.1 1173.3,497.1 1173.8,497.0 1174.3,497.1 1174.8,497.0 1175.3,497.2 1175.8,497.2 1176.3,497.2 1176.8,497.3 1177.3,497.0 1177.8,497.2 1178.3,497.2 1178.8,497.0 1179.3,496.8 1179.8,496.7 1180.3,496.6 1180.8,495.7 1181.3,494.3 1181.8,491.1 1182.3,485.9 1182.8,479.5 1183.3,473.4 1183.5,472.1 1183.8,474.1 1184.3,480.6 1184.8,486.8 1185.3,491.2 1185.8,493.1 1186.3,492.9 1186.8,490.7 1187.3,486.9 1187.8,483.8 1188.0,483.2 1188.3,484.4 1188.8,488.2 1189.3,491.7 1189.8,494.4 1190.3,495.9 1190.8,496.6 1191.3,496.9 1191.8,497.0 1192.3,497.0 1192.8,497.0 1193.3,496.9 1193.8,497.2 1194.3,497.2 1194.8,497.3 1195.3,497.2 1195.8,497.0 1196.3,496.9 1196.8,496.9 1197.3,496.9 1197.8,496.4 1198.3,495.2 1198.8,493.1 1199.3,489.5 1199.8,484.9 1200.3,480.8 1200.5,480.0 1200.8,481.4 1201.3,486.0 1201.8,490.5 1202.3,493.4 1202.8,495.2 1203.3,496.5 1203.8,496.8 1204.3,497.0 1204.8,497.2 1205.3,497.3 1205.8,497.2 1206.3,496.9 1206.8,496.7 1207.3,495.8 1207.8,493.0 1208.3,486.2 1208.8,472.4 1209.3,447.0 1209.8,407.0 1210.3,356.9 1210.8,316.1 1210.9,313.3 1211.3,337.6 1211.8,387.7 1212.3,432.8 1212.8,464.0 1213.3,481.9 1213.8,490.7 1214.3,494.8 1214.8,496.4 1215.3,496.7 1215.8,496.9 1216.3,497.1 1216.8,497.1 1217.3,497.1 1217.8,497.2 1218.3,497.0 1218.8,497.2 1219.3,496.9 1219.8,496.9 1220.3,496.9 1220.8,497.2 1221.3,497.1 1221.8,496.9 1222.3,497.1 1222.8,497.2 1223.3,497.1 1223.8,497.2 1224.3,497.1 1224.8,497.2 1225.3,497.0 1225.8,497.1 1226.3,497.3 1226.8,497.1 1227.3,497.2 1227.8,497.1 1228.3,497.1 1228.8,496.9 1229.3,497.0 1229.8,497.1 1230.3,497.3 1230.8,497.2 1231.3,497.2 1231.8,497.1 1232.3,497.1 1232.8,497.1 1233.3,497.3 1233.8,497.1 1234.3,497.1 1234.8,496.9 1235.3,496.5 1235.8,496.1 1236.3,495.0 1236.8,493.3 1237.3,490.7 1237.8,488.6 1238.0,488.0 1238.3,488.7 1238.8,491.3 1239.3,493.4 1239.8,495.0 1240.3,495.7 1240.8,495.6 1241.3,494.4 1241.8,492.6 1242.3,490.0 1242.8,487.6 1243.0,487.0 1243.3,487.8 1243.8,490.4 1244.3,492.8 1244.8,493.9 1245.3,493.4 1245.8,491.7 1246.3,488.9 1246.8,486.3 1247.0,485.9 1247.3,486.9 1247.8,489.8 1248.3,492.6 1248.8,494.6 1249.3,496.1 1249.8,496.5 1250.3,497.0 1250.8,497.2 1251.3,497.0 1251.8,497.2 1252.3,497.1 1252.8,497.2 1253.3,497.0 1253.8,497.0 1254.3,496.9 1254.8,496.9 1255.3,497.0 1255.8,497.2 1256.3,497.1 1256.8,497.2 1257.3,497.0 1257.8,496.9 1258.3,497.1 1258.8,497.2 1259.3,497.1 1259.8,497.0 1260.3,496.9 1260.8,497.0 1261.3,497.2 1261.8,496.9 1262.3,496.8 1262.8,495.9 1263.3,494.4 1263.8,491.3 1264.3,485.9 1264.8,478.2 1265.3,469.6 1265.7,465.5 1265.8,466.0 1266.3,473.1 1266.8,481.8 1267.3,488.7 1267.8,493.1 1268.3,495.2 1268.8,496.4 1269.3,496.8 1269.8,496.9 1270.3,497.0 1270.8,497.0 1271.3,497.2 1271.8,497.2 1272.3,497.3 1272.8,497.1 1273.3,497.0 1273.8,496.9 1274.3,497.1 1274.8,496.9 1275.3,496.9 1275.8,497.1 1276.3,496.9 1276.8,497.0 1277.3,496.9 1277.8,496.9 1278.3,497.1 1278.8,497.2 1279.3,497.1 1279.8,497.1 1280.3,497.3 1280.8,497.0 1281.3,497.0 1281.8,496.8 1282.3,496.0 1282.8,494.2 1283.3,489.1 1283.8,477.1 1284.3,452.7 1284.8,408.9 1285.3,342.7 1285.8,264.2 1286.3,211.7 1286.8,263.9 1287.3,342.4 1287.8,408.7 1288.3,452.6 1288.8,477.1 1289.3,489.1 1289.8,494.1 1290.3,495.9 1290.8,496.9 1291.3,497.1 1291.8,497.0 1292.3,497.0 1292.8,497.0 1293.3,497.0 1293.8,496.9 1294.3,496.9 1294.8,497.1 1295.3,497.1 1295.8,496.9 1296.3,497.0 1296.8,497.2 1297.3,497.0 1297.8,497.2 1298.3,497.3 1298.8,497.1 1299.3,497.2 1299.8,497.1 1300.3,497.0 1300.8,497.1 1301.3,497.0 1301.8,497.0 1302.3,496.9 1302.8,496.9 1303.3,496.6 1303.8,496.1 1304.3,494.8 1304.8,492.5 1305.3,489.8 1305.8,487.5 1306.0,487.1 1306.3,487.8 1306.8,489.9 1307.3,491.8 1307.8,492.5 1308.3,492.0 1308.8,491.0 1309.0,490.7 1309.3,491.5 1309.8,493.1 1310.3,494.6 1310.8,495.8 1311.3,496.7 1311.8,496.8 1312.3,497.1 1312.8,497.3 1313.3,497.2 1313.8,497.3 1314.3,497.3 1314.8,497.2 1315.3,497.2 1315.8,497.3 1316.3,497.0 1316.8,496.9 1317.3,497.0 1317.8,496.8 1318.3,496.3 1318.8,494.5 1319.3,490.9 1319.8,482.6 1320.3,467.0 1320.8,441.1 1321.3,407.2 1321.8,375.8 1322.0,370.0 1322.3,380.6 1322.8,413.8 1323.3,445.3 1323.8,466.5 1324.3,476.1 1324.8,476.1 1325.3,469.7 1325.8,462.1 1326.0,460.7 1326.3,463.9 1326.8,473.6 1327.3,483.0 1327.8,489.5 1328.3,493.5 1328.8,495.5 1329.3,496.0 1329.8,495.9 1330.3,495.2 1330.8,493.4 1331.3,491.2 1331.8,489.3 1332.0,489.1 1332.3,489.7 1332.8,491.8 1333.3,494.0 1333.8,495.3 1334.3,495.9 1334.8,496.0 1335.3,495.3 1335.8,493.7 1336.3,490.7 1336.8,486.8 1337.3,482.4 1337.6,481.1 1337.8,481.6 1338.3,485.8 1338.8,490.0 1339.3,493.4 1339.8,495.4 1340.3,496.2 1340.8,496.9 1341.3,497.0 1341.8,497.1 1342.3,497.1 1342.8,496.6 1343.3,496.3 1343.8,494.7 1344.3,491.8 1344.8,485.3 1345.3,474.1 1345.8,457.9 1346.3,440.2 1346.7,431.5 1346.8,432.4 1347.3,446.7 1347.8,464.2 1348.3,477.6 1348.8,485.1 1349.3,487.0 1349.8,485.6 1350.3,483.1 1350.5,482.5 1350.8,484.2 1351.3,487.8 1351.8,491.6 1352.3,494.1 1352.8,495.5 1353.3,496.5 1353.8,496.9 1354.3,497.0 1354.8,497.1 1355.3,497.2 1355.8,497.1 1356.3,496.9 1356.8,497.0 1357.3,497.1 1357.8,497.0 1358.3,497.1 1358.8,497.2 1359.3,497.1 1359.8,497.1 1360.3,497.1 1360.8,496.9 1361.3,497.0 1361.8,496.9 1362.3,497.1 1362.8,497.0 1363.3,497.2 1363.8,497.2 1364.3,497.1 1364.8,497.0 1365.3,496.9 1365.8,497.1 1366.3,497.1 1366.8,497.0 1367.3,496.8 1367.8,496.5 1368.3,495.5 1368.8,494.0 1369.3,492.3 1369.8,490.5 1370.0,490.0 1370.3,490.5 1370.8,492.6 1371.3,494.5 1371.8,495.8 1372.3,496.6 1372.8,496.8 1373.3,496.9 1373.8,497.1 1374.3,497.1 1374.8,497.0 1375.3,497.3 1375.8,497.0 1376.3,496.9 1376.8,497.2 1377.3,497.0 1377.8,497.0 1378.3,497.1 1378.8,497.0 1379.3,497.2 1379.8,497.1 1380.3,497.2 1380.8,497.2 1381.3,497.0 1381.8,497.0 1382.3,497.0 1382.8,496.9 1383.3,497.1 1383.8,497.2 1384.3,497.1 1384.8,497.2 1385.3,497.0 1385.8,497.1 1386.3,497.1 1386.8,497.1 1387.3,497.0 1387.8,496.9 1388.3,497.0 1388.8,497.2 1389.3,497.2 1389.8,497.0 1390.3,497.2 1390.8,497.0 1391.3,496.9 1391.8,497.1 1392.3,497.2 1392.8,497.2 1393.3,497.1 1393.8,497.3 1394.3,497.1 1394.8,497.3 1395.3,497.0 1395.8,497.1 1396.3,497.1 1396.8,497.2 1397.3,497.3 1397.8,497.2 1398.3,497.0 1398.8,497.0 1399.3,496.9 1399.8,497.2 1400.3,497.3 1400.8,497.3 1401.3,497.0 1401.8,497.0 1402.3,496.6 1402.8,495.4 1403.3,493.3 1403.8,489.5 1404.3,483.4 1404.8,475.8 1405.3,469.5 1405.4,469.2 1405.8,472.9 1406.3,480.5 1406.8,487.4 1407.3,492.2 1407.8,495.0 1408.3,496.3 1408.8,496.8 1409.3,497.1 1409.8,497.2 1410.3,497.0 1410.8,497.1 1411.3,497.1 1411.8,497.2 1412.3,497.0 1412.8,497.0 1413.3,497.0 1413.8,497.0 1414.3,496.9 1414.8,496.9 1415.3,496.7 1415.8,496.0 1416.3,494.5 1416.8,491.8 1417.3,487.2 1417.8,481.2 1418.3,475.5 1418.5,474.4 1418.8,476.6 1419.3,482.7 1419.8,488.4 1420.3,492.7 1420.8,494.9 1421.3,496.1 1421.8,496.8 1422.3,497.1 1422.8,497.0 1423.3,496.9 1423.8,496.9 1424.3,496.9 1424.8,496.7 1425.3,496.5 1425.8,495.8 1426.3,494.2 1426.8,491.7 1427.3,488.4 1427.8,485.4 1428.0,484.9 1428.3,486.2 1428.8,489.4 1429.3,492.2 1429.8,494.5 1430.3,495.8 1430.8,496.4 1431.3,496.0 1431.8,495.2 1432.3,493.1 1432.8,490.1 1433.3,485.6 1433.8,482.0 1434.0,481.3 1434.3,482.6 1434.8,486.7 1435.3,490.9 1435.8,493.7 1436.3,495.2 1436.8,495.9 1437.3,495.5 1437.8,494.1 1438.3,491.1 1438.8,486.2 1439.3,479.5 1439.8,473.1 1440.0,472.0 1440.3,474.3 1440.8,480.9 1441.3,487.3 1441.8,492.0 1442.3,494.6 1442.8,496.0 1443.3,496.9 1443.8,497.1 1444.3,497.1 1444.8,497.2 1445.3,497.3 1445.8,497.1 1446.3,497.2 1446.8,496.9 1447.3,497.0 1447.8,497.2 1448.3,497.1 1448.8,497.2 1449.3,497.0 1449.8,497.0 1450.3,497.0 1450.8,497.2 1451.3,497.3 1451.8,497.1 1452.3,497.2 1452.8,497.3 1453.3,497.3 1453.8,497.3 1454.3,497.2 1454.8,497.0 1455.3,497.1 1455.8,497.2 1456.3,497.0 1456.8,497.2 1457.3,497.1 1457.8,497.0 1458.3,496.9 1458.8,497.2 1459.3,497.1 1459.8,497.2 1460.3,497.0 1460.8,497.2 1461.3,497.0 1461.8,497.2 1462.3,497.1 1462.8,496.9 1463.3,497.1 1463.8,497.2 1464.3,497.0 1464.8,497.0 1465.3,497.1 1465.8,497.0 1466.3,496.6 1466.8,495.5 1467.3,493.0 1467.8,488.8 1468.3,482.2 1468.8,474.1 1469.3,467.5 1469.4,467.1 1469.8,471.0 1470.3,479.2 1470.8,486.8 1471.3,491.8 1471.8,494.7 1472.3,496.1 1472.8,496.9 1473.3,497.2 1473.8,497.0 1474.3,497.1 1474.8,497.2 1475.3,497.3 1475.8,497.1 1476.3,496.9 1476.8,497.2 1477.3,497.1 1477.8,497.1 1478.3,497.0 1478.8,497.0 1479.3,497.2 1479.8,497.2 1480.3,497.1 1480.8,497.3 1481.3,497.0 1481.8,497.3 1482.3,497.3 1482.8,497.2 1483.3,497.0 1483.8,497.0 1484.3,497.0 1484.8,497.0 1485.3,497.0 1485.8,497.2 1486.3,497.0 1486.8,497.2 1487.3,497.3 1487.8,497.3 1488.3,497.4 1488.8,497.0 1489.3,497.1 1489.8,497.3 1490.3,497.3 1490.8,496.9 1491.3,496.6 1491.8,496.0 1492.3,495.3 1492.8,493.8 1493.3,491.5 1493.8,489.5 1494.0,489.1 1494.3,489.6 1494.8,491.1 1495.3,492.4 1495.8,492.5 1496.3,491.4 1496.8,490.2 1497.0,490.0 1497.3,490.6 1497.8,492.5 1498.3,494.4 1498.8,495.7 1499.3,496.6 1499.8,496.8 1500.3,497.1 1500.8,497.2 1501.3,497.3 1501.8,497.0 1502.3,497.0 1502.8,497.1 1503.3,497.1 1503.8,496.9 1504.3,497.2 1504.8,497.1 1505.3,496.9 1505.8,496.9 1506.3,496.5 1506.8,495.7 1507.3,495.0 1507.8,493.7 1508.3,492.4 1508.5,492.0 1508.8,492.4 1509.3,493.6 1509.8,494.7 1510.3,495.5 1510.8,495.5 1511.3,494.6 1511.8,493.3 1512.3,492.4 1512.5,491.9 1512.8,492.4 1513.3,493.6 1513.8,495.1 1514.3,496.0 1514.8,496.4 1515.3,496.7 1515.8,496.9 1516.3,496.9 1516.8,496.8 1517.3,496.9 1517.8,496.9 1518.3,496.8 1518.8,497.0 1519.3,496.9 1519.8,496.4 1520.3,495.8 1520.8,494.4 1521.3,493.0 1521.8,491.4 1522.0,491.2 1522.3,491.7 1522.8,493.2 1523.3,494.9 1523.8,495.9 1524.3,496.4 1524.8,496.6 1525.3,497.0 1525.8,497.1 1526.3,496.8 1526.8,496.7 1527.3,495.7 1527.8,494.2 1528.3,491.0 1528.8,486.2 1529.3,480.2 1529.8,475.2 1529.9,474.9 1530.3,477.7 1530.8,483.8 1531.3,489.1 1531.8,492.9 1532.3,495.4 1532.8,496.3 1533.3,496.9 1533.8,497.0 1534.3,496.9 1534.8,496.7 1535.3,496.3 1535.8,495.7 1536.3,494.3 1536.8,491.9 1537.3,488.7 1537.8,485.6 1538.0,485.1 1538.3,486.1 1538.8,489.4 1539.3,492.3 1539.8,494.4 1540.3,496.0 1540.8,496.6 1541.3,497.0 1541.8,497.3 1542.3,497.2 1542.8,497.3 1543.3,497.1 1543.8,497.1 1544.3,497.0 1544.8,496.9 1545.3,497.2 1545.8,497.3 1546.3,497.3 1546.8,497.2 1547.3,497.0 1547.8,497.0 1548.3,497.0 1548.8,496.9 1549.3,497.1 1549.8,497.2 1550.3,497.1 1550.8,497.3 1551.3,497.3 1551.8,497.3 1552.3,497.3 1552.8,497.3 1553.3,497.2 1553.8,497.3 1554.3,497.1 1554.8,497.0 1555.3,497.1 1555.8,497.3 1556.3,497.1 1556.8,497.0 1557.3,496.9 1557.8,497.0 1558.3,497.0 1558.8,496.8 1559.3,496.7 1559.8,496.3 1560.3,495.9 1560.8,494.8 1561.3,493.5 1561.8,492.3 1562.0,492.3 1562.3,492.6 1562.8,494.0 1563.3,495.1 1563.8,496.1 1564.3,496.6 1564.8,497.1 1565.3,497.2 1565.8,497.1 1566.3,497.0 1566.8,496.9 1567.3,496.9 1567.8,497.1 1568.3,497.1 1568.8,497.1 1569.3,497.0 1569.8,497.0 1570.3,496.7 1570.8,496.5 1571.3,496.0 1571.8,495.1 1572.3,494.0 1572.8,492.6 1573.0,492.7 1573.3,493.1 1573.8,494.4 1574.3,495.3 1574.8,496.3 1575.3,496.8 1575.8,497.0 1576.3,497.0 1576.8,497.0 1577.3,497.1 1577.8,497.2 1578.3,497.2 1578.8,497.0 1579.3,497.2 1579.8,497.3 1580.3,497.0 1580.8,497.1 1581.3,497.2 1581.8,497.3 1582.3,497.0 1582.8,497.0 1583.3,497.2 1583.8,497.0 1584.3,496.9 1584.8,496.3 1585.3,495.1 1585.8,493.2 1586.3,489.5 1586.8,485.1 1587.3,481.0 1587.5,480.0 1587.8,481.7 1588.3,486.3 1588.8,490.4 1589.3,493.6 1589.8,495.3 1590.3,496.2 1590.8,496.9 1591.3,497.2 1591.8,497.1 1592.3,497.1 1592.8,497.2 1593.3,497.0 1593.8,497.2 1594.3,497.1 1594.8,497.3 1595.3,497.0 1595.8,496.9 1596.3,497.0 1596.8,497.1 1597.3,497.0 1597.8,496.9 1598.3,496.9 1598.8,497.2 1599.3,497.1 1599.8,497.3 1600.3,497.1 1600.8,496.9 1601.3,496.9 1601.8,497.1 1602.3,497.1 1602.8,497.2 1603.3,497.3 1603.8,497.1 1604.3,497.0 1604.8,497.1 1605.3,497.1 1605.8,497.0 1606.3,497.0 1606.8,497.1 1607.3,497.2 1607.8,497.3 1608.3,497.2 1608.8,496.9 1609.3,496.6 1609.8,496.0 1610.3,494.7 1610.8,492.4 1611.3,488.9 1611.8,484.3 1612.3,481.5 1612.8,484.6 1613.3,488.7 1613.8,492.3 1614.3,494.6 1614.8,495.9 1615.3,496.6 1615.8,496.8 1616.3,496.8 1616.8,497.0 1617.3,497.0 1617.8,497.1 1618.3,497.1 1618.8,497.2 1619.3,497.1 1619.8,497.1 1620.3,497.2 1620.8,497.0 1621.3,496.9 1621.8,497.0 1622.3,496.9 1622.8,497.1 1623.3,497.0 1623.8,497.2 1624.3,497.2 1624.8,497.3 1625.3,497.1 1625.8,496.9 1626.3,497.1 1626.8,497.2 1627.3,497.3 1627.8,497.3 1628.3,497.1 1628.8,496.9 1629.3,497.2 1629.8,497.2 1630.3,496.9 1630.8,496.8 1631.3,496.0 1631.8,494.7 1632.3,491.9 1632.8,487.1 1633.3,479.9 1633.8,472.0 1634.2,468.2 1634.3,468.4 1634.8,475.0 1635.3,482.5 1635.8,488.1 1636.3,491.1 1636.8,491.6 1637.3,490.2 1637.8,488.5 1638.0,487.9 1638.3,488.7 1638.8,491.4 1639.3,493.6 1639.8,495.2 1640.3,496.3 1640.8,496.9 1641.3,497.1 1641.8,497.1 1642.3,496.9 1642.8,497.0 1643.3,496.7 1643.8,496.3 1644.3,495.5 1644.8,493.5 1645.3,488.7 1645.8,480.7 1646.3,468.2 1646.8,453.6 1647.3,443.8 1647.8,453.4 1648.3,468.0 1648.8,479.6 1649.3,486.7 1649.8,489.1 1650.3,487.9 1650.8,484.3 1651.3,480.6 1651.5,479.9 1651.8,481.4 1652.3,485.9 1652.8,490.5 1653.3,493.6 1653.8,495.5 1654.3,496.4 1654.8,496.8 1655.3,496.9 1655.8,497.0 1656.3,497.0 1656.8,496.9 1657.3,497.2 1657.8,497.3 1658.3,497.3 1658.8,497.3 1659.3,497.0 1659.8,497.1 1660.3,497.1 1660.8,497.1 1661.3,497.1 1661.8,497.2 1662.3,497.0 1662.8,497.1 1663.3,497.0 1663.8,496.9 1664.3,497.2 1664.8,497.1 1665.3,497.3 1665.8,497.0 1666.3,497.2"/>
<polyline fill="#d9541c" stroke="#d9541c" stroke-width="4.3" stroke-linejoin="bevel" points="90.3,498.0 90.8,497.6 91.3,497.5 91.8,497.6 92.3,498.0 92.8,497.4 93.3,497.2 93.8,497.5 94.3,497.6 94.8,497.9 95.3,498.3 95.8,498.0 96.3,497.7 96.8,498.2 97.3,497.5 97.8,497.9 98.3,498.1 98.8,498.3 99.3,497.3 99.8,497.2 100.3,497.1 100.8,497.3 101.3,498.1 101.8,498.0 102.3,497.8 102.8,498.1 103.3,497.3 103.8,497.7 104.3,498.1 104.8,497.4 105.3,498.0 105.8,497.3 106.3,497.6 106.8,497.6 107.3,497.8 107.8,497.7 108.3,498.0 108.8,498.3 109.3,497.5 109.8,497.9 110.3,497.4 110.8,497.9 111.3,497.2 111.8,497.0 112.3,497.1 112.8,497.2 113.3,497.4 113.8,497.3 114.3,498.0 114.8,497.8 115.3,497.3 115.8,497.9 116.3,497.2 116.8,497.1 117.3,497.5 117.8,497.8 118.3,497.7 118.8,497.8 119.3,497.1 119.8,497.6 120.3,498.2 120.8,498.3 121.3,497.6 121.8,497.1 122.3,497.5 122.8,497.6 123.3,497.6 123.8,497.3 124.3,497.9 124.8,497.6 125.3,497.6 125.8,497.5 126.3,498.0 126.8,498.1 127.3,498.0 127.8,497.3 128.3,497.7 128.8,497.6 129.3,497.8 129.8,498.2 130.3,498.3 130.8,497.5 131.3,497.3 131.8,497.7 132.3,497.4 132.8,497.4 133.3,497.1 133.8,496.9 134.3,497.5 134.8,497.0 135.3,496.9 135.8,497.3 136.3,497.1 136.8,497.5 137.3,497.7 137.8,498.0 138.3,497.3 138.8,497.9 139.3,498.3 139.8,497.5 140.3,497.3 140.8,497.5 141.3,497.2 141.8,498.0 142.3,498.1 142.8,498.0 143.3,497.9 143.8,498.1 144.3,498.3 144.8,498.1 145.3,497.3 145.8,497.0 146.3,497.1 146.8,497.5 147.3,497.9 147.8,497.2 148.3,497.5 148.8,497.3 149.3,498.1 149.8,498.1 150.3,497.4 150.8,497.2 151.3,497.1 151.8,497.3 152.3,497.6 152.8,497.5 153.3,497.2 153.8,497.7 154.3,497.6 154.8,497.9 155.3,497.4 155.8,498.1 156.3,497.6 156.8,497.1 157.3,498.0 157.8,497.7 158.3,497.5 158.8,497.2 159.3,497.4 159.8,497.6 160.3,495.3 160.8,487.6 161.3,479.1 161.8,475.2 162.3,474.3 162.8,474.3 163.3,474.5 163.8,475.3 164.3,480.3 164.8,487.9 165.3,494.9 165.8,497.8 166.3,497.7 166.8,497.9 167.3,497.7 167.8,498.0 168.3,498.2 168.8,498.2 169.3,498.0 169.8,497.5 170.3,497.5 170.8,498.1 171.3,497.6 171.8,497.2 172.3,497.2 172.8,497.1 173.3,498.0 173.8,497.8 174.3,498.2 174.8,497.5 175.3,498.0 175.8,497.5 176.3,497.8 176.8,497.1 177.3,496.5 177.8,495.1 178.3,492.4 178.8,490.0 179.3,487.5 179.8,487.0 180.3,486.7 180.5,486.6 180.8,486.1 181.3,487.3 181.8,488.1 182.3,490.1 182.8,492.3 183.3,494.3 183.8,496.6 184.3,497.1 184.8,497.5 185.3,497.5 185.8,498.1 186.3,497.4 186.8,497.0 187.3,497.6 187.8,497.8 188.3,497.1 188.8,497.9 189.3,498.2 189.8,498.4 190.3,497.5 190.8,497.3 191.3,497.6 191.8,497.5 192.3,498.2 192.8,497.7 193.3,497.7 193.8,497.7 194.3,497.8 194.8,497.8 195.3,498.0 195.8,498.3 196.3,498.0 196.8,498.1 197.3,497.6 197.8,497.2 198.3,497.2 198.8,497.6 199.3,497.9 199.8,497.9 200.3,497.7 200.8,497.5 201.3,497.1 201.8,497.9 202.3,497.8 202.8,497.7 203.3,497.4 203.8,497.1 204.3,497.1 204.8,497.3 205.3,497.2 205.8,497.3 206.3,497.1 206.8,497.2 207.3,497.3 207.8,497.8 208.3,497.1 208.8,497.3 209.3,496.8 209.8,495.8 210.3,494.6 210.8,493.2 211.3,493.2 211.8,492.5 212.0,492.5 212.3,492.5 212.8,493.6 213.3,494.4 213.8,496.0 214.3,496.9 214.8,496.7 215.3,497.0 215.8,497.5 216.3,498.0 216.8,497.3 217.3,497.3 217.8,497.9 218.3,497.9 218.8,497.6 219.3,497.4 219.8,497.8 220.3,497.2 220.8,497.7 221.3,498.0 221.8,497.4 222.3,498.0 222.8,497.5 223.3,498.0 223.8,497.6 224.3,497.9 224.8,497.9 225.3,497.2 225.8,497.5 226.3,497.7 226.8,497.5 227.3,497.9 227.8,498.1 228.3,497.9 228.8,498.0 229.3,498.1 229.8,497.3 230.3,498.1 230.8,497.4 231.3,497.1 231.8,497.2 232.3,498.1 232.8,497.8 233.3,498.2 233.8,497.7 234.3,497.3 234.8,497.6 235.3,497.7 235.8,496.6 236.3,496.0 236.8,494.8 237.3,493.5 237.8,492.3 238.0,492.7 238.3,493.2 238.8,493.3 239.3,494.1 239.8,495.3 240.3,495.8 240.8,492.5 241.3,484.4 241.8,473.2 242.3,463.5 242.8,456.8 243.3,454.1 243.8,453.5 244.0,453.5 244.3,454.5 244.8,454.9 245.3,458.5 245.8,464.7 246.3,475.1 246.8,485.8 247.3,493.9 247.8,497.4 248.3,497.4 248.8,497.5 249.3,497.4 249.8,497.6 250.3,497.3 250.8,497.7 251.3,497.9 251.8,497.9 252.3,498.0 252.8,497.6 253.3,497.2 253.8,498.0 254.3,498.3 254.8,497.9 255.3,497.5 255.8,498.0 256.3,498.0 256.8,498.3 257.3,498.4 257.8,497.9 258.3,497.5 258.8,497.4 259.3,498.0 259.8,498.2 260.3,497.3 260.8,497.5 261.3,497.7 261.8,497.4 262.3,497.3 262.8,497.5 263.3,498.1 263.8,497.4 264.3,497.9 264.8,498.3 265.3,498.0 265.8,497.7 266.3,497.5 266.8,498.0 267.3,497.5 267.8,497.6 268.3,498.0 268.8,497.4 269.3,497.2 269.8,497.0 270.3,497.2 270.8,497.8 271.3,497.4 271.8,497.1 272.3,497.4 272.8,497.1 273.3,496.9 273.8,497.5 274.3,497.1 274.8,496.9 275.3,497.1 275.8,498.0 276.3,498.0 276.8,497.6 277.3,497.5 277.8,497.3 278.3,497.4 278.8,497.9 279.3,497.2 279.8,497.5 280.3,497.1 280.8,497.8 281.3,497.1 281.8,497.4 282.3,497.2 282.8,497.2 283.3,497.1 283.8,497.6 284.3,498.1 284.8,497.9 285.3,498.1 285.8,497.8 286.3,497.3 286.8,497.7 287.3,498.1 287.8,498.4 288.3,498.0 288.8,497.7 289.3,498.2 289.8,497.7 290.3,498.0 290.8,498.2 291.3,497.4 291.8,497.5 292.3,497.1 292.8,497.5 293.3,498.0 293.8,498.1 294.3,497.9 294.8,497.6 295.3,497.3 295.8,497.2 296.3,497.3 296.8,497.8 297.3,497.8 297.8,497.8 298.3,497.7 298.8,498.0 299.3,497.7 299.8,497.6 300.3,497.4 300.8,494.2 301.3,488.3 301.8,478.5 302.3,467.8 302.8,459.3 303.3,454.6 303.8,454.1 304.0,454.2 304.3,454.9 304.8,455.9 305.3,461.0 305.8,470.1 306.3,480.4 306.8,490.1 307.3,495.5 307.8,496.9 308.3,497.2 308.8,497.5 309.3,498.1 309.8,498.0 310.3,497.4 310.8,497.6 311.3,497.7 311.8,497.8 312.3,497.5 312.8,497.5 313.3,497.4 313.8,497.1 314.3,497.2 314.8,497.6 315.3,497.9 315.8,497.4 316.3,497.2 316.8,497.0 317.3,497.8 317.8,497.3 318.3,497.1 318.8,497.9 319.3,498.0 319.8,497.6 320.3,498.0 320.8,497.4 321.3,497.8 321.8,497.5 322.3,497.8 322.8,498.0 323.3,498.1 323.8,497.8 324.3,497.5 324.8,497.9 325.3,497.4 325.8,497.5 326.3,496.8 326.8,496.1 327.3,494.9 327.8,493.2 328.3,491.5 328.8,489.8 329.0,489.8 329.3,490.4 329.8,490.9 330.3,492.7 330.8,495.3 331.3,496.1 331.8,496.9 332.3,497.4 332.8,497.6 333.3,497.1 333.8,497.5 334.3,496.8 334.8,494.8 335.3,490.1 335.8,479.7 336.3,462.3 336.8,440.8 337.3,420.1 337.8,405.2 338.3,399.1 338.6,397.9 338.8,398.8 339.3,402.4 339.8,413.7 340.3,431.7 340.8,451.7 341.3,470.2 341.8,484.3 342.3,492.0 342.8,496.1 343.3,496.9 343.8,497.7 344.3,497.9 344.8,498.1 345.3,498.3 345.8,498.3 346.3,498.3 346.8,497.7 347.3,497.3 347.8,497.8 348.3,498.2 348.8,497.8 349.3,498.1 349.8,497.9 350.3,497.4 350.8,497.9 351.3,497.5 351.8,497.6 352.3,498.1 352.8,498.1 353.3,497.7 353.8,498.1 354.3,498.0 354.8,497.3 355.3,496.3 355.8,495.6 356.3,494.1 356.8,493.0 357.3,490.7 357.8,488.4 358.3,485.9 358.8,485.3 359.0,484.8 359.3,485.8 359.8,486.7 360.3,488.1 360.8,490.3 361.3,492.7 361.8,495.0 362.3,495.6 362.8,497.1 363.3,496.8 363.8,497.0 364.3,497.2 364.8,497.4 365.3,498.0 365.8,497.9 366.3,497.6 366.8,497.4 367.3,497.7 367.8,497.3 368.3,498.1 368.8,498.0 369.3,498.3 369.8,498.1 370.3,497.5 370.8,497.3 371.3,497.9 371.8,498.0 372.3,498.2 372.8,497.6 373.3,497.6 373.8,497.6 374.3,496.9 374.8,495.2 375.3,493.7 375.8,491.1 376.3,488.9 376.8,487.7 377.0,487.6 377.3,488.1 377.8,489.9 378.3,492.0 378.8,494.3 379.3,495.6 379.8,495.2 380.3,491.9 380.8,488.9 381.3,486.7 381.8,485.8 382.3,485.3 382.8,484.4 383.0,484.8 383.3,484.5 383.8,485.0 384.3,485.2 384.8,486.9 385.3,489.4 385.8,493.1 386.3,496.1 386.8,497.6 387.3,497.6 387.8,497.3 388.3,497.3 388.8,497.5 389.3,497.8 389.8,497.2 390.3,497.1 390.8,497.9 391.3,497.5 391.8,497.3 392.3,497.3 392.8,497.0 393.3,497.0 393.8,497.7 394.3,497.1 394.8,497.7 395.3,497.8 395.8,497.1 396.3,497.9 396.8,497.8 397.3,497.6 397.8,497.9 398.3,498.0 398.8,497.4 399.3,497.4 399.8,497.3 400.3,497.2 400.8,497.1 401.3,497.0 401.8,497.0 402.3,496.9 402.8,497.4 403.3,497.3 403.8,497.5 404.3,497.1 404.8,497.3 405.3,497.6 405.8,497.4 406.3,497.8 406.8,498.1 407.3,498.0 407.8,498.2 408.3,498.4 408.8,498.4 409.3,498.0 409.8,497.5 410.3,498.1 410.8,497.7 411.3,498.1 411.8,497.8 412.3,497.9 412.8,497.8 413.3,497.5 413.8,497.7 414.3,497.8 414.8,497.4 415.3,498.0 415.8,498.0 416.3,497.5 416.8,497.2 417.3,496.9 417.8,497.7 418.3,497.5 418.8,497.8 419.3,497.5 419.8,497.2 420.3,497.9 420.8,497.9 421.3,497.2 421.8,497.7 422.3,497.5 422.8,497.2 423.3,497.8 423.8,497.4 424.3,498.1 424.8,498.0 425.3,498.2 425.8,498.0 426.3,498.1 426.8,498.4 427.3,497.5 427.8,498.0 428.3,497.7 428.8,497.6 429.3,497.2 429.8,497.1 430.3,497.3 430.8,497.9 431.3,497.4 431.8,498.0 432.3,497.3 432.8,497.7 433.3,498.0 433.8,498.1 434.3,497.9 434.8,497.4 435.3,497.1 435.8,497.2 436.3,497.2 436.8,497.8 437.3,497.9 437.8,498.0 438.3,497.8 438.8,497.3 439.3,496.9 439.8,497.9 440.3,497.2 440.8,497.0 441.3,497.5 441.8,497.4 442.3,497.2 442.8,497.9 443.3,497.6 443.8,497.1 444.3,497.0 444.8,496.9 445.3,497.9 445.8,497.5 446.3,497.6 446.8,497.2 447.3,497.9 447.8,497.7 448.3,498.1 448.8,497.5 449.3,497.3 449.8,498.1 450.3,498.0 450.8,498.2 451.3,497.7 451.8,497.5 452.3,498.1 452.8,497.3 453.3,497.0 453.8,497.5 454.3,497.5 454.8,497.8 455.3,497.6 455.8,497.7 456.3,497.8 456.8,497.4 457.3,497.9 457.8,498.0 458.3,497.5 458.8,497.9 459.3,498.2 459.8,497.4 460.3,498.0 460.8,497.9 461.3,497.9 461.8,498.0 462.3,498.0 462.8,497.7 463.3,498.1 463.8,497.8 464.3,498.2 464.8,498.3 465.3,498.2 465.8,498.2 466.3,498.0 466.8,498.0 467.3,497.4 467.8,497.3 468.3,497.5 468.8,497.2 469.3,497.0 469.8,497.2 470.3,496.7 470.8,496.0 471.3,495.5 471.8,494.6 472.3,493.9 472.8,492.9 473.3,493.0 473.8,492.5 474.0,492.0 474.3,492.5 474.8,492.5 475.3,493.9 475.8,494.2 476.3,495.3 476.8,495.6 477.3,496.3 477.8,496.6 478.3,496.8 478.8,496.3 479.3,494.4 479.8,492.9 480.3,491.4 480.8,491.1 481.0,491.0 481.3,490.4 481.8,492.1 482.3,493.6 482.8,494.9 483.3,496.3 483.8,497.0 484.3,496.9 484.8,497.0 485.3,497.8 485.8,497.8 486.3,497.8 486.8,497.5 487.3,497.4 487.8,497.8 488.3,497.4 488.8,497.4 489.3,497.5 489.8,496.6 490.3,495.2 490.8,493.7 491.3,491.6 491.8,490.1 492.0,489.9 492.3,490.4 492.8,491.4 493.3,493.4 493.8,495.0 494.3,495.8 494.8,497.3 495.3,497.1 495.8,495.5 496.3,492.3 496.8,488.0 497.3,484.7 497.8,482.2 498.3,481.1 498.5,481.8 498.8,482.1 499.3,482.8 499.8,484.5 500.3,488.9 500.8,492.6 501.3,496.1 501.8,497.2 502.3,497.3 502.8,497.3 503.3,498.0 503.8,497.2 504.3,497.1 504.8,497.5 505.3,497.2 505.8,497.4 506.3,497.9 506.8,497.9 507.3,497.4 507.8,497.6 508.3,498.2 508.8,498.2 509.3,498.2 509.8,497.7 510.3,497.5 510.8,497.7 511.3,497.8 511.8,497.1 512.3,497.5 512.8,497.0 513.3,496.2 513.8,492.6 514.3,485.1 514.8,469.9 515.3,445.4 515.8,414.7 516.3,385.0 516.8,367.1 517.0,365.4 517.3,366.8 517.8,377.6 518.3,395.7 518.8,416.2 519.3,436.8 519.8,453.6 520.3,465.3 520.8,473.0 521.3,476.8 521.8,477.7 522.3,477.4 522.8,477.3 523.0,477.7 523.3,477.9 523.8,479.1 524.3,481.1 524.8,484.0 525.3,486.9 525.8,489.7 526.3,492.6 526.8,494.3 527.3,496.2 527.8,496.4 528.3,496.8 528.8,497.5 529.3,497.6 529.8,497.9 530.3,497.4 530.8,497.6 531.3,497.3 531.8,497.0 532.3,497.1 532.8,497.6 533.3,497.8 533.8,497.2 534.3,497.0 534.8,497.8 535.3,497.9 535.8,497.4 536.3,497.3 536.8,497.8 537.3,497.8 537.8,497.1 538.3,498.0 538.8,498.0 539.3,497.6 539.8,497.2 540.3,496.9 540.8,497.4 541.3,497.1 541.8,496.7 542.3,496.9 542.8,496.5 543.3,495.3 543.8,493.0 544.3,492.0 544.8,490.8 545.0,490.2 545.3,491.0 545.8,491.8 546.3,493.4 546.8,494.4 547.3,495.6 547.8,495.7 548.3,494.6 548.8,493.3 549.3,492.8 549.8,491.5 550.0,491.7 550.3,491.3 550.8,492.0 551.3,493.9 551.8,495.5 552.3,496.9 552.8,497.5 553.3,497.9 553.8,498.1 554.3,497.6 554.8,498.1 555.3,497.7 555.8,497.6 556.3,497.3 556.8,497.5 557.3,497.1 557.8,497.7 558.3,498.1 558.8,497.7 559.3,497.9 559.8,497.2 560.3,497.0 560.8,497.2 561.3,497.1 561.8,497.8 562.3,497.7 562.8,497.8 563.3,497.9 563.8,497.9 564.3,497.8 564.8,497.5 565.3,498.2 565.8,497.8 566.3,498.1 566.8,497.3 567.3,497.5 567.8,497.5 568.3,497.8 568.8,497.5 569.3,497.3 569.8,497.1 570.3,497.3 570.8,497.8 571.3,497.6 571.8,498.1 572.3,497.5 572.8,497.8 573.3,497.5 573.8,498.0 574.3,497.7 574.8,498.0 575.3,498.3 575.8,498.2 576.3,497.4 576.8,497.7 577.3,497.6 577.8,497.3 578.3,497.0 578.8,497.7 579.3,497.4 579.8,497.2 580.3,497.2 580.8,497.7 581.3,497.7 581.8,497.3 582.3,497.8 582.8,497.6 583.3,497.1 583.8,496.3 584.3,496.2 584.8,495.0 585.3,494.5 585.8,494.2 586.0,493.9 586.3,493.7 586.8,494.2 587.3,494.7 587.8,496.4 588.3,496.9 588.8,497.4 589.3,497.8 589.8,497.2 590.3,497.8 590.8,497.7 591.3,497.6 591.8,496.3 592.3,494.9 592.8,493.7 593.3,491.1 593.8,489.1 594.3,487.9 594.8,486.3 595.0,486.1 595.3,486.9 595.8,487.5 596.3,490.1 596.8,492.2 597.3,494.0 597.8,494.9 598.3,496.5 598.8,497.2 599.3,497.8 599.8,497.3 600.3,497.9 600.8,497.3 601.3,497.7 601.8,497.6 602.3,497.2 602.8,497.8 603.3,497.7 603.8,497.5 604.3,497.5 604.8,497.7 605.3,497.5 605.8,497.8 606.3,498.1 606.8,498.4 607.3,497.8 607.8,497.6 608.3,497.3 608.8,497.9 609.3,497.5 609.8,497.7 610.3,497.6 610.8,497.3 611.3,497.5 611.8,497.7 612.3,497.5 612.8,498.0 613.3,497.3 613.8,497.5 614.3,498.0 614.8,497.5 615.3,496.5 615.8,495.7 616.3,495.4 616.8,494.6 617.3,492.5 617.8,491.6 618.3,490.9 618.8,490.2 619.0,489.9 619.3,489.7 619.8,491.0 620.3,492.1 620.8,493.1 621.3,494.8 621.8,496.2 622.3,496.5 622.8,497.1 623.3,497.2 623.8,497.5 624.3,497.2 624.8,497.5 625.3,497.0 625.8,497.0 626.3,497.1 626.8,497.2 627.3,496.9 627.8,496.7 628.3,496.3 628.8,494.5 629.3,493.1 629.8,491.8 630.3,490.7 630.8,490.4 631.0,490.0 631.3,490.6 631.8,490.8 632.3,492.8 632.8,494.0 633.3,495.0 633.8,495.6 634.3,496.5 634.8,496.8 635.3,497.4 635.8,497.3 636.3,497.2 636.8,497.4 637.3,498.1 637.8,497.6 638.3,498.2 638.8,498.1 639.3,498.3 639.8,497.6 640.3,498.0 640.8,497.5 641.3,498.1 641.8,498.1 642.3,497.5 642.8,497.0 643.3,497.6 643.8,496.8 644.3,496.2 644.8,495.0 645.3,494.7 645.8,494.4 646.0,494.4 646.3,493.6 646.8,494.3 647.3,495.2 647.8,496.6 648.3,496.8 648.8,496.8 649.3,497.7 649.8,497.3 650.3,497.1 650.8,496.9 651.3,497.3 651.8,497.4 652.3,497.7 652.8,497.3 653.3,497.7 653.8,497.3 654.3,496.8 654.8,495.5 655.3,494.3 655.8,493.5 656.3,492.1 656.8,491.1 657.0,490.9 657.3,490.7 657.8,492.2 658.3,493.6 658.8,495.2 659.3,496.6 659.8,497.0 660.3,497.5 660.8,497.0 661.3,497.9 661.8,497.3 662.3,497.4 662.8,497.6 663.3,498.1 663.8,497.6 664.3,497.0 664.8,496.4 665.3,493.1 665.8,486.3 666.3,474.5 666.8,456.6 667.3,438.3 667.8,423.1 668.3,414.3 668.8,412.1 669.3,414.0 669.8,422.9 670.3,437.8 670.8,457.1 671.3,474.1 671.8,486.5 672.3,492.9 672.8,495.9 673.3,497.0 673.8,497.1 674.3,497.5 674.8,497.5 675.3,497.7 675.8,497.3 676.3,496.9 676.8,495.6 677.3,495.3 677.8,493.5 678.3,492.6 678.8,491.8 679.3,491.5 679.8,490.9 680.0,490.7 680.3,491.1 680.8,490.8 681.3,492.0 681.8,493.1 682.3,494.4 682.8,495.3 683.3,496.3 683.8,496.2 684.3,497.4 684.8,497.6 685.3,497.4 685.8,497.6 686.3,497.8 686.8,497.7 687.3,498.0 687.8,497.7 688.3,497.0 688.8,495.5 689.3,494.0 689.8,491.2 690.3,487.1 690.8,482.9 691.3,478.0 691.8,474.7 692.3,472.7 692.4,472.6 692.8,473.2 693.3,475.9 693.8,480.2 694.3,484.7 694.8,489.8 695.3,492.5 695.8,495.0 696.3,496.6 696.8,497.2 697.3,497.0 697.8,496.9 698.3,497.0 698.8,497.7 699.3,498.1 699.8,498.2 700.3,497.6 700.8,497.4 701.3,498.1 701.8,498.4 702.3,497.3 702.8,497.7 703.3,498.2 703.8,497.9 704.3,498.1 704.8,497.1 705.3,495.9 705.8,491.3 706.3,478.9 706.8,453.5 707.3,407.6 707.8,341.6 708.3,267.5 708.8,202.1 709.3,160.6 709.8,146.8 709.9,146.1 710.3,150.4 710.8,175.8 711.3,225.3 711.8,292.1 712.3,360.6 712.8,417.1 713.3,457.4 713.8,480.3 714.3,491.3 714.8,495.2 715.3,497.0 715.8,497.9 716.3,498.1 716.8,497.3 717.3,497.2 717.8,497.9 718.3,497.2 718.8,497.6 719.3,497.4 719.8,497.5 720.3,497.2 720.8,497.5 721.3,498.1 721.8,497.8 722.3,497.3 722.8,497.6 723.3,497.3 723.8,497.6 724.3,497.8 724.8,497.9 725.3,498.0 725.8,497.8 726.3,497.2 726.8,497.4 727.3,497.2 727.8,497.9 728.3,497.9 728.8,497.6 729.3,497.8 729.8,498.3 730.3,497.4 730.8,498.0 731.3,497.6 731.8,497.1 732.3,497.7 732.8,497.9 733.3,497.9 733.8,497.7 734.3,497.1 734.8,497.9 735.3,498.0 735.8,497.3 736.3,497.8 736.8,497.5 737.3,497.3 737.8,498.1 738.3,498.4 738.8,497.6 739.3,497.1 739.8,497.2 740.3,497.5 740.8,498.1 741.3,497.8 741.8,498.1 742.3,498.0 742.8,498.3 743.3,497.9 743.8,497.8 744.3,497.9 744.8,498.1 745.3,498.3 745.8,498.4 746.3,498.4 746.8,497.3 747.3,498.1 747.8,497.5 748.3,497.7 748.8,497.6 749.3,497.8 749.8,497.2 750.3,497.1 750.8,497.6 751.3,497.7 751.8,497.2 752.3,497.9 752.8,497.3 753.3,497.4 753.8,497.5 754.3,497.6 754.8,497.5 755.3,498.1 755.8,498.1 756.3,498.0 756.8,498.1 757.3,498.3 757.8,497.6 758.3,497.7 758.8,497.4 759.3,497.7 759.8,497.1 760.3,497.8 760.8,497.7 761.3,497.8 761.8,497.3 762.3,498.0 762.8,497.7 763.3,497.7 763.8,497.5 764.3,497.9 764.8,497.7 765.3,497.1 765.8,497.9 766.3,497.2 766.8,496.9 767.3,497.5 767.8,498.1 768.3,497.8 768.8,497.2 769.3,498.1 769.8,497.5 770.3,497.3 770.8,498.0 771.3,497.6 771.8,498.1 772.3,498.3 772.8,497.8 773.3,498.0 773.8,497.6 774.3,497.6 774.8,497.9 775.3,497.3 775.8,498.1 776.3,497.5 776.8,497.8 777.3,497.2 777.8,497.4 778.3,497.6 778.8,498.0 779.3,497.3 779.8,497.1 780.3,496.9 780.8,497.3 781.3,497.0 781.8,497.0 782.3,497.2 782.8,497.7 783.3,497.5 783.8,497.8 784.3,497.3 784.8,497.3 785.3,496.8 785.8,496.2 786.3,495.4 786.8,494.3 787.3,491.6 787.8,487.8 788.3,482.2 788.8,476.4 789.3,470.6 789.8,465.9 790.3,465.0 790.8,465.8 791.3,469.6 791.8,475.3 792.3,481.9 792.8,487.5 793.3,491.5 793.8,494.1 794.3,495.4 794.8,497.2 795.3,497.9 795.8,497.4 796.3,498.1 796.8,497.4 797.3,497.9 797.8,497.2 798.3,497.5 798.8,497.5 799.3,497.2 799.8,497.0 800.3,497.3 800.8,496.9 801.3,495.6 801.8,494.6 802.3,492.9 802.8,490.5 803.3,489.2 803.5,489.1 803.8,489.9 804.3,491.3 804.8,493.5 805.3,494.6 805.8,496.6 806.3,497.5 806.8,498.1 807.3,497.9 807.8,497.2 808.3,498.0 808.8,498.1 809.3,498.1 809.8,497.6 810.3,497.8 810.8,498.1 811.3,497.6 811.8,497.1 812.3,497.8 812.8,498.0 813.3,497.5 813.8,496.1 814.3,495.7 814.8,494.0 815.3,490.7 815.8,486.9 816.3,483.3 816.8,480.6 817.3,478.1 817.6,478.2 817.8,478.5 818.3,480.3 818.8,482.4 819.3,486.8 819.8,490.2 820.3,492.7 820.8,495.3 821.3,496.6 821.8,496.8 822.3,497.2 822.8,497.9 823.3,497.7 823.8,497.1 824.3,497.1 824.8,496.9 825.3,497.9 825.8,498.2 826.3,497.8 826.8,498.1 827.3,496.9 827.8,497.0 828.3,496.4 828.8,495.3 829.3,494.8 829.8,493.5 830.3,493.1 830.8,492.0 831.3,490.9 831.8,490.7 832.0,491.0 832.3,490.4 832.8,491.3 833.3,491.5 833.8,493.1 834.3,493.7 834.8,495.4 835.3,495.8 835.8,496.0 836.3,496.6 836.8,497.3 837.3,496.9 837.8,496.8 838.3,497.0 838.8,497.7 839.3,498.2 839.8,497.7 840.3,498.1 840.8,498.3 841.3,497.8 841.8,497.2 842.3,497.8 842.8,497.3 843.3,497.0 843.8,496.9 844.3,497.9 844.8,498.2 845.3,497.3 845.8,497.0 846.3,497.8 846.8,498.1 847.3,497.5 847.8,498.1 848.3,498.1 848.8,497.3 849.3,493.9 849.8,485.6 850.3,466.7 850.8,435.8 851.3,394.3 851.8,355.8 852.3,333.8 852.6,330.5 852.8,331.7 853.3,350.5 853.8,385.9 854.3,427.8 854.8,461.7 855.3,482.3 855.8,493.1 856.3,496.7 856.8,498.1 857.3,497.6 857.8,498.0 858.3,497.5 858.8,497.3 859.3,497.0 859.8,497.8 860.3,497.8 860.8,497.4 861.3,497.6 861.8,498.0 862.3,497.6 862.8,497.3 863.3,497.6 863.8,497.8 864.3,498.1 864.8,497.9 865.3,497.3 865.8,497.7 866.3,497.1 866.8,497.6 867.3,497.7 867.8,497.3 868.3,497.1 868.8,497.0 869.3,497.5 869.8,497.7 870.3,498.1 870.8,497.8 871.3,497.3 871.8,497.9 872.3,497.9 872.8,498.2 873.3,497.9 873.8,497.6 874.3,496.7 874.8,496.3 875.3,494.8 875.8,493.4 876.3,489.9 876.8,484.7 877.3,479.2 877.8,472.6 878.3,467.1 878.8,464.9 879.0,464.7 879.3,464.6 879.8,468.5 880.3,473.7 880.8,480.2 881.3,486.1 881.8,490.2 882.3,493.8 882.8,495.3 883.3,496.3 883.8,497.1 884.3,497.9 884.8,497.9 885.3,497.2 885.8,497.8 886.3,497.6 886.8,498.0 887.3,497.5 887.8,497.4 888.3,497.1 888.8,497.3 889.3,498.0 889.8,497.4 890.3,497.5 890.8,497.1 891.3,497.4 891.8,497.8 892.3,497.8 892.8,497.6 893.3,497.4 893.8,497.4 894.3,497.1 894.8,497.2 895.3,497.1 895.8,494.7 896.3,489.7 896.8,478.8 897.3,456.1 897.8,418.1 898.3,365.6 898.8,304.7 899.3,246.0 899.8,205.0 900.3,189.7 900.4,189.0 900.8,194.9 901.3,224.0 901.8,272.9 902.3,332.4 902.8,389.7 903.3,434.5 903.8,464.7 904.3,482.3 904.8,491.2 905.3,494.8 905.8,496.2 906.3,496.8 906.8,497.1 907.3,496.6 907.8,495.9 908.3,493.9 908.8,492.3 909.3,490.8 909.8,489.6 910.3,489.1 910.8,488.6 911.0,489.2 911.3,489.3 911.8,489.7 912.3,491.0 912.8,492.1 913.3,493.2 913.8,494.8 914.3,495.9 914.8,496.9 915.3,497.0 915.8,496.8 916.3,497.1 916.8,496.8 917.3,496.4 917.8,495.7 918.3,494.7 918.8,493.7 919.3,492.6 919.8,490.6 920.3,488.4 920.8,486.2 921.3,484.2 921.8,483.1 922.0,483.0 922.3,482.9 922.8,481.8 923.3,480.5 923.8,479.1 924.3,476.9 924.8,472.3 925.3,467.2 925.8,463.0 926.3,460.1 926.7,459.3 926.8,459.8 927.3,462.2 927.8,467.6 928.3,473.3 928.8,479.9 929.3,486.2 929.8,490.4 930.3,493.2 930.8,495.4 931.3,496.8 931.8,497.0 932.3,496.8 932.8,496.8 933.3,497.6 933.8,497.6 934.3,497.8 934.8,498.1 935.3,497.8 935.8,497.9 936.3,497.8 936.8,497.3 937.3,497.5 937.8,497.0 938.3,497.8 938.8,498.1 939.3,498.3 939.8,497.6 940.3,497.9 940.8,498.1 941.3,497.6 941.8,497.1 942.3,497.2 942.8,496.9 943.3,496.9 943.8,497.3 944.3,497.9 944.8,497.4 945.3,497.8 945.8,497.9 946.3,497.2 946.8,495.9 947.3,494.4 947.8,492.4 948.3,489.9 948.8,486.4 949.3,482.4 949.8,479.4 950.3,477.8 950.5,477.4 950.8,477.8 951.3,479.4 951.8,482.3 952.3,486.4 952.8,490.2 953.3,492.9 953.8,495.2 954.3,496.7 954.8,496.9 955.3,497.4 955.8,498.1 956.3,497.9 956.8,498.0 957.3,498.3 957.8,498.4 958.3,497.8 958.8,497.3 959.3,497.1 959.8,497.4 960.3,497.9 960.8,497.6 961.3,497.9 961.8,498.0 962.3,498.0 962.8,498.2 963.3,498.3 963.8,497.3 964.3,498.0 964.8,497.0 965.3,496.8 965.8,496.2 966.3,496.0 966.8,494.4 967.3,493.7 967.8,492.8 968.0,492.7 968.3,492.4 968.8,493.9 969.3,495.4 969.8,496.0 970.3,496.8 970.8,497.1 971.3,497.9 971.8,497.9 972.3,497.5 972.8,497.5 973.3,497.8 973.8,498.3 974.3,498.3 974.8,497.3 975.3,497.5 975.8,497.4 976.3,496.6 976.8,495.5 977.3,493.7 977.8,492.3 978.3,490.1 978.8,488.4 979.3,487.6 979.5,487.5 979.8,488.1 980.3,489.0 980.8,490.1 981.3,492.3 981.8,493.5 982.3,495.5 982.8,496.4 983.3,496.5 983.8,497.0 984.3,497.6 984.8,497.7 985.3,497.8 985.8,497.2 986.3,497.3 986.8,496.6 987.3,496.1 987.8,495.2 988.3,494.7 988.8,494.1 989.3,492.7 989.8,491.8 990.3,491.6 990.8,490.9 991.0,491.1 991.3,491.4 991.8,491.7 992.3,491.7 992.8,492.7 993.3,494.0 993.8,495.0 994.3,496.0 994.8,496.5 995.3,497.3 995.8,497.0 996.3,497.0 996.8,497.5 997.3,497.5 997.8,497.7 998.3,497.3 998.8,497.1 999.3,496.7 999.8,496.7 1000.3,493.9 1000.8,489.1 1001.3,478.5 1001.8,459.6 1002.3,432.1 1002.8,399.6 1003.3,366.5 1003.8,341.4 1004.3,329.9 1004.5,329.1 1004.8,331.5 1005.3,343.7 1005.8,367.2 1006.3,397.2 1006.8,427.4 1007.3,453.4 1007.8,473.5 1008.3,485.7 1008.8,492.3 1009.3,495.0 1009.8,496.7 1010.3,497.7 1010.8,497.8 1011.3,497.5 1011.8,496.4 1012.3,495.6 1012.8,493.5 1013.3,492.1 1013.8,490.6 1014.3,488.5 1014.8,487.8 1015.0,487.4 1015.3,487.6 1015.8,488.8 1016.3,490.8 1016.8,491.9 1017.3,493.6 1017.8,495.5 1018.3,496.8 1018.8,497.0 1019.3,496.8 1019.8,496.9 1020.3,496.5 1020.8,495.9 1021.3,495.6 1021.8,493.6 1022.3,489.5 1022.8,483.6 1023.3,474.7 1023.8,463.4 1024.3,452.1 1024.8,440.8 1025.3,433.6 1025.8,430.3 1026.3,433.8 1026.8,441.7 1027.3,452.7 1027.8,463.8 1028.3,475.1 1028.8,483.1 1029.3,489.4 1029.8,492.8 1030.3,495.5 1030.8,496.3 1031.3,496.8 1031.8,497.5 1032.3,497.3 1032.8,497.4 1033.3,497.4 1033.8,497.6 1034.3,497.8 1034.8,497.2 1035.3,496.4 1035.8,495.3 1036.3,492.6 1036.8,490.2 1037.3,485.1 1037.8,479.6 1038.3,473.6 1038.8,466.6 1039.3,461.2 1039.8,457.3 1040.2,456.2 1040.3,455.9 1040.8,457.7 1041.3,463.2 1041.8,468.8 1042.3,475.3 1042.8,482.4 1043.3,488.0 1043.8,491.7 1044.3,494.7 1044.8,496.3 1045.3,496.4 1045.8,495.6 1046.3,491.4 1046.8,482.4 1047.3,464.7 1047.8,439.0 1048.3,409.2 1048.8,380.3 1049.3,360.3 1049.8,352.3 1050.0,352.9 1050.3,353.6 1050.8,364.0 1051.3,385.6 1051.8,415.0 1052.3,445.4 1052.8,469.0 1053.3,485.0 1053.8,492.4 1054.3,496.5 1054.8,497.2 1055.3,497.5 1055.8,498.2 1056.3,498.3 1056.8,497.9 1057.3,497.9 1057.8,498.1 1058.3,498.3 1058.8,498.2 1059.3,497.5 1059.8,498.0 1060.3,497.5 1060.8,498.0 1061.3,497.4 1061.8,497.3 1062.3,497.1 1062.8,497.6 1063.3,497.1 1063.8,497.5 1064.3,497.5 1064.8,497.2 1065.3,497.9 1065.8,498.3 1066.3,497.6 1066.8,498.0 1067.3,498.1 1067.8,497.8 1068.3,498.1 1068.8,498.1 1069.3,498.1 1069.8,498.3 1070.3,497.5 1070.8,497.2 1071.3,497.2 1071.8,497.6 1072.3,497.1 1072.8,497.4 1073.3,497.5 1073.8,498.2 1074.3,498.0 1074.8,498.1 1075.3,497.6 1075.8,497.1 1076.3,497.3 1076.8,497.7 1077.3,497.3 1077.8,498.0 1078.3,497.4 1078.8,498.1 1079.3,497.2 1079.8,497.0 1080.3,496.4 1080.8,496.4 1081.3,495.4 1081.8,494.5 1082.3,493.1 1082.8,492.6 1083.0,492.7 1083.3,492.4 1083.8,492.9 1084.3,494.8 1084.8,496.2 1085.3,496.3 1085.8,497.3 1086.3,497.7 1086.8,497.6 1087.3,497.9 1087.8,497.8 1088.3,498.0 1088.8,497.8 1089.3,497.4 1089.8,497.2 1090.3,497.0 1090.8,496.9 1091.3,497.7 1091.8,497.3 1092.3,497.3 1092.8,497.4 1093.3,497.6 1093.8,497.1 1094.3,497.3 1094.8,496.7 1095.3,497.1 1095.8,496.2 1096.3,494.8 1096.8,491.5 1097.3,487.7 1097.8,482.7 1098.3,476.8 1098.8,470.7 1099.3,466.2 1099.8,463.5 1100.0,463.0 1100.3,464.2 1100.8,467.2 1101.3,471.9 1101.8,477.6 1102.3,483.4 1102.8,488.2 1103.3,492.2 1103.8,494.2 1104.3,495.7 1104.8,496.8 1105.3,497.2 1105.8,497.1 1106.3,497.7 1106.8,497.9 1107.3,497.8 1107.8,497.7 1108.3,498.2 1108.8,497.8 1109.3,497.2 1109.8,497.1 1110.3,497.4 1110.8,497.2 1111.3,497.4 1111.8,497.5 1112.3,496.1 1112.8,494.8 1113.3,492.6 1113.8,489.3 1114.3,484.7 1114.8,480.5 1115.3,475.6 1115.8,471.6 1116.3,469.5 1116.5,469.1 1116.8,470.4 1117.3,472.3 1117.8,477.1 1118.3,481.9 1118.8,486.5 1119.3,490.0 1119.8,492.7 1120.3,494.9 1120.8,496.0 1121.3,496.3 1121.8,496.6 1122.3,495.4 1122.8,493.4 1123.3,491.0 1123.8,487.1 1124.3,482.8 1124.8,478.6 1125.3,475.2 1125.8,473.2 1126.0,472.6 1126.3,472.6 1126.8,475.2 1127.3,478.5 1127.8,482.6 1128.3,487.2 1128.8,490.3 1129.3,491.0 1129.8,491.4 1130.3,489.3 1130.8,486.0 1131.3,481.7 1131.8,477.5 1132.3,474.1 1132.8,473.0 1133.0,472.5 1133.3,472.5 1133.8,474.8 1134.3,478.2 1134.8,483.5 1135.3,487.6 1135.8,490.5 1136.3,493.8 1136.8,495.7 1137.3,496.9 1137.8,497.4 1138.3,497.6 1138.8,497.6 1139.3,497.9 1139.8,497.7 1140.3,497.2 1140.8,497.7 1141.3,497.9 1141.8,497.3 1142.3,497.3 1142.8,497.2 1143.3,497.0 1143.8,496.9 1144.3,497.6 1144.8,498.2 1145.3,497.6 1145.8,497.4 1146.3,497.7 1146.8,497.2 1147.3,497.1 1147.8,497.4 1148.3,497.4 1148.8,497.7 1149.3,498.0 1149.8,498.0 1150.3,497.5 1150.8,497.6 1151.3,497.6 1151.8,497.5 1152.3,497.1 1152.8,497.9 1153.3,498.2 1153.8,497.5 1154.3,497.9 1154.8,497.7 1155.3,497.6 1155.8,497.5 1156.3,497.4 1156.8,497.6 1157.3,497.1 1157.8,495.0 1158.3,491.9 1158.8,488.9 1159.3,486.1 1159.8,485.2 1160.3,484.3 1160.8,485.1 1161.0,484.7 1161.3,484.4 1161.8,484.2 1162.3,485.0 1162.8,486.7 1163.3,489.5 1163.8,492.8 1164.3,495.9 1164.8,496.7 1165.3,496.7 1165.8,495.7 1166.3,493.6 1166.8,490.7 1167.3,487.7 1167.8,486.3 1168.0,485.5 1168.3,485.7 1168.8,487.9 1169.3,491.1 1169.8,493.6 1170.3,495.1 1170.8,496.2 1171.3,496.9 1171.8,497.5 1172.3,497.2 1172.8,497.5 1173.3,497.8 1173.8,497.2 1174.3,497.3 1174.8,498.0 1175.3,498.3 1175.8,497.9 1176.3,497.4 1176.8,497.6 1177.3,497.6 1177.8,498.1 1178.3,497.7 1178.8,497.7 1179.3,497.8 1179.8,497.9 1180.3,497.3 1180.8,496.6 1181.3,496.4 1181.8,495.8 1182.3,495.2 1182.8,494.1 1183.3,493.2 1183.8,493.1 1184.3,491.6 1184.8,491.6 1185.0,492.1 1185.3,491.6 1185.8,491.8 1186.3,492.9 1186.8,493.6 1187.3,495.1 1187.8,495.3 1188.3,495.9 1188.8,496.3 1189.3,497.0 1189.8,496.8 1190.3,497.4 1190.8,498.1 1191.3,498.3 1191.8,498.0 1192.3,497.6 1192.8,496.2 1193.3,492.9 1193.8,485.4 1194.3,474.3 1194.8,461.4 1195.3,450.3 1195.8,442.6 1196.3,439.7 1196.5,439.5 1196.8,439.7 1197.3,443.8 1197.8,453.0 1198.3,465.0 1198.8,477.9 1199.3,487.1 1199.8,492.7 1200.3,495.9 1200.8,496.9 1201.3,497.4 1201.8,497.0 1202.3,497.8 1202.8,497.6 1203.3,497.8 1203.8,497.8 1204.3,498.0 1204.8,497.5 1205.3,497.8 1205.8,498.0 1206.3,497.3 1206.8,498.1 1207.3,498.2 1207.8,497.3 1208.3,497.3 1208.8,497.9 1209.3,498.2 1209.8,497.6 1210.3,497.3 1210.8,496.9 1211.3,496.9 1211.8,497.1 1212.3,497.9 1212.8,497.4 1213.3,497.6 1213.8,497.6 1214.3,498.2 1214.8,498.4 1215.3,497.9 1215.8,497.6 1216.3,497.9 1216.8,497.2 1217.3,498.0 1217.8,497.3 1218.3,497.0 1218.8,497.9 1219.3,497.4 1219.8,497.4 1220.3,497.6 1220.8,497.7 1221.3,497.6 1221.8,497.1 1222.3,497.2 1222.8,497.5 1223.3,497.7 1223.8,498.0 1224.3,497.7 1224.8,497.3 1225.3,497.4 1225.8,497.4 1226.3,497.6 1226.8,497.1 1227.3,497.0 1227.8,497.4 1228.3,497.4 1228.8,497.2 1229.3,497.8 1229.8,497.5 1230.3,497.9 1230.8,497.4 1231.3,497.8 1231.8,497.2 1232.3,497.3 1232.8,497.5 1233.3,497.5 1233.8,497.5 1234.3,497.9 1234.8,498.3 1235.3,497.9 1235.8,498.0 1236.3,497.8 1236.8,498.0 1237.3,498.1 1237.8,497.3 1238.3,497.7 1238.8,497.4 1239.3,498.0 1239.8,498.2 1240.3,497.6 1240.8,497.7 1241.3,497.3 1241.8,498.1 1242.3,497.8 1242.8,497.6 1243.3,498.0 1243.8,497.5 1244.3,498.0 1244.8,498.2 1245.3,498.3 1245.8,498.4 1246.3,498.0 1246.8,497.4 1247.3,498.0 1247.8,498.0 1248.3,498.0 1248.8,498.1 1249.3,497.4 1249.8,497.2 1250.3,497.9 1250.8,497.6 1251.3,497.1 1251.8,498.0 1252.3,497.9 1252.8,498.3 1253.3,498.1 1253.8,498.2 1254.3,497.9 1254.8,498.1 1255.3,497.5 1255.8,497.7 1256.3,498.2 1256.8,497.8 1257.3,497.7 1257.8,497.4 1258.3,497.3 1258.8,497.8 1259.3,497.8 1259.8,497.4 1260.3,497.0 1260.8,497.3 1261.3,497.1 1261.8,497.2 1262.3,496.6 1262.8,495.8 1263.3,494.3 1263.8,492.8 1264.3,491.0 1264.8,489.7 1265.3,488.7 1265.7,487.5 1265.8,487.8 1266.3,487.8 1266.8,489.8 1267.3,491.6 1267.8,492.8 1268.3,494.7 1268.8,495.7 1269.3,496.3 1269.8,497.2 1270.3,497.8 1270.8,498.3 1271.3,497.4 1271.8,497.5 1272.3,497.3 1272.8,496.9 1273.3,497.0 1273.8,497.3 1274.3,497.9 1274.8,497.5 1275.3,497.3 1275.8,497.4 1276.3,497.1 1276.8,495.9 1277.3,494.3 1277.8,491.7 1278.3,489.0 1278.8,486.8 1279.3,486.0 1279.5,485.4 1279.8,485.8 1280.0,486.3 1280.3,486.8 1280.8,489.1 1281.3,490.7 1281.8,493.1 1282.3,494.2 1282.8,495.0 1283.3,496.5 1283.8,496.7 1284.3,497.1 1284.8,497.5 1285.3,497.2 1285.8,497.7 1286.3,498.0 1286.8,497.9 1287.3,497.9 1287.8,497.4 1288.3,497.9 1288.8,497.9 1289.3,497.4 1289.8,497.6 1290.3,497.8 1290.8,498.1 1291.3,498.0 1291.8,497.7 1292.3,497.4 1292.8,497.0 1293.3,497.4 1293.8,497.6 1294.3,497.3 1294.8,497.6 1295.3,497.9 1295.8,497.5 1296.3,497.2 1296.8,497.8 1297.3,497.3 1297.8,498.0 1298.3,498.1 1298.8,498.0 1299.3,497.3 1299.8,497.5 1300.3,497.8 1300.8,498.0 1301.3,497.8 1301.8,497.6 1302.3,497.5 1302.8,497.1 1303.3,497.9 1303.8,497.5 1304.3,497.1 1304.8,497.3 1305.3,497.3 1305.8,497.2 1306.3,497.0 1306.8,497.6 1307.3,497.7 1307.8,497.3 1308.3,497.9 1308.8,497.8 1309.3,497.2 1309.8,497.6 1310.3,497.7 1310.8,497.8 1311.3,497.7 1311.8,497.4 1312.3,498.0 1312.8,497.8 1313.3,497.8 1313.8,497.2 1314.3,497.1 1314.8,497.7 1315.3,497.9 1315.8,497.2 1316.3,498.0 1316.8,497.6 1317.3,498.2 1317.8,498.1 1318.3,497.6 1318.8,497.4 1319.3,497.4 1319.8,497.9 1320.3,497.8 1320.8,497.3 1321.3,497.8 1321.8,497.6 1322.3,497.0 1322.8,494.8 1323.3,490.2 1323.8,482.6 1324.3,474.7 1324.8,468.0 1325.3,464.7 1325.8,465.0 1325.9,464.5 1326.3,464.8 1326.8,466.8 1327.3,471.6 1327.8,479.2 1328.3,487.2 1328.8,493.1 1329.3,495.4 1329.8,495.7 1330.3,495.4 1330.8,494.2 1331.3,492.8 1331.8,492.4 1332.0,493.0 1332.3,493.0 1332.8,493.5 1333.3,495.3 1333.8,496.5 1334.3,496.6 1334.8,497.0 1335.3,498.0 1335.8,497.4 1336.3,497.4 1336.8,497.7 1337.3,497.5 1337.8,498.1 1338.3,498.2 1338.8,497.6 1339.3,497.4 1339.8,497.4 1340.3,497.6 1340.8,498.0 1341.3,498.2 1341.8,497.3 1342.3,497.8 1342.8,497.8 1343.3,497.7 1343.8,498.2 1344.3,498.1 1344.8,498.1 1345.3,498.3 1345.8,497.4 1346.3,497.9 1346.8,498.0 1347.3,498.0 1347.8,497.5 1348.3,497.2 1348.8,497.3 1349.3,497.4 1349.8,497.4 1350.3,498.1 1350.8,497.6 1351.3,497.1 1351.8,497.0 1352.3,496.9 1352.8,497.8 1353.3,497.5 1353.8,497.0 1354.3,497.7 1354.8,497.9 1355.3,497.2 1355.8,497.8 1356.3,498.1 1356.8,497.6 1357.3,497.8 1357.8,497.6 1358.3,497.9 1358.8,498.1 1359.3,497.7 1359.8,497.7 1360.3,497.5 1360.8,497.5 1361.3,497.9 1361.8,498.0 1362.3,497.7 1362.8,496.1 1363.3,491.4 1363.8,485.5 1364.3,479.7 1364.8,475.5 1365.3,472.8 1365.8,472.5 1366.3,473.2 1366.8,474.5 1367.3,478.6 1367.8,485.7 1368.3,491.9 1368.8,495.3 1369.3,496.8 1369.8,497.7 1370.3,497.7 1370.8,497.9 1371.3,497.9 1371.8,497.3 1372.3,497.4 1372.8,497.4 1373.3,497.1 1373.8,497.0 1374.3,497.2 1374.8,498.0 1375.3,497.9 1375.8,497.2 1376.3,497.5 1376.8,498.2 1377.3,497.6 1377.8,497.6 1378.3,497.4 1378.8,497.5 1379.3,497.8 1379.8,497.9 1380.3,498.2 1380.8,497.9 1381.3,497.7 1381.8,498.1 1382.3,498.3 1382.8,497.7 1383.3,497.5 1383.8,497.3 1384.3,497.6 1384.8,498.1 1385.3,497.8 1385.8,497.9 1386.3,497.3 1386.8,497.8 1387.3,497.4 1387.8,497.4 1388.3,497.8 1388.8,497.6 1389.3,498.1 1389.8,498.1 1390.3,497.6 1390.8,498.2 1391.3,497.8 1391.8,497.2 1392.3,497.0 1392.8,497.1 1393.3,497.1 1393.8,497.7 1394.3,497.8 1394.8,498.0 1395.3,498.3 1395.8,498.4 1396.3,498.4 1396.8,498.2 1397.3,498.1 1397.8,497.9 1398.3,497.8 1398.8,497.3 1399.3,497.7 1399.8,497.6 1400.3,497.1 1400.8,497.2 1401.3,496.6 1401.8,495.6 1402.3,494.6 1402.8,493.9 1403.3,491.7 1403.8,489.4 1404.3,488.2 1404.8,487.0 1405.3,485.6 1405.5,485.4 1405.8,486.1 1406.3,486.3 1406.8,488.3 1407.3,489.8 1407.8,492.2 1408.3,493.8 1408.8,495.8 1409.3,496.2 1409.8,497.0 1410.3,497.7 1410.8,497.7 1411.3,497.5 1411.8,497.1 1412.3,497.1 1412.8,496.9 1413.3,496.9 1413.8,497.2 1414.3,497.2 1414.8,495.9 1415.3,495.3 1415.8,493.6 1416.3,492.1 1416.8,490.2 1417.3,488.4 1417.8,487.1 1418.3,485.5 1418.8,484.6 1419.0,485.1 1419.3,485.1 1419.8,485.4 1420.3,487.4 1420.8,489.7 1421.3,491.6 1421.8,493.1 1422.3,494.8 1422.8,495.7 1423.3,496.7 1423.8,497.1 1424.3,496.9 1424.8,496.9 1425.3,497.1 1425.8,497.5 1426.3,497.5 1426.8,497.3 1427.3,497.9 1427.8,497.9 1428.3,498.2 1428.8,497.9 1429.3,498.0 1429.8,497.6 1430.3,497.8 1430.8,497.5 1431.3,497.5 1431.8,497.5 1432.3,497.7 1432.8,497.7 1433.3,498.1 1433.8,497.6 1434.3,497.7 1434.8,497.6 1435.3,496.6 1435.8,496.5 1436.3,496.2 1436.8,494.7 1437.3,493.4 1437.8,491.9 1438.3,490.0 1438.8,488.5 1439.3,486.8 1439.8,486.8 1440.0,486.3 1440.3,486.3 1440.8,487.6 1441.3,489.4 1441.8,491.0 1442.3,492.2 1442.8,493.2 1443.3,494.8 1443.8,496.2 1444.3,496.6 1444.8,496.7 1445.3,496.7 1445.8,496.9 1446.3,496.3 1446.8,493.2 1447.3,489.0 1447.8,485.5 1448.3,483.5 1448.8,481.7 1449.3,481.8 1449.8,481.3 1450.3,481.5 1450.8,482.4 1451.3,482.6 1451.8,484.5 1452.3,489.1 1452.8,493.0 1453.3,496.6 1453.8,497.1 1454.3,497.9 1454.8,497.6 1455.3,497.4 1455.8,497.4 1456.3,497.1 1456.8,497.8 1457.3,497.2 1457.8,497.3 1458.3,498.0 1458.8,498.3 1459.3,498.2 1459.8,498.3 1460.3,498.0 1460.8,498.2 1461.3,498.1 1461.8,497.4 1462.3,497.3 1462.8,497.8 1463.3,498.1 1463.8,498.2 1464.3,497.9 1464.8,497.9 1465.3,497.6 1465.8,496.2 1466.3,496.0 1466.8,494.8 1467.3,494.6 1467.8,493.9 1468.3,493.2 1468.8,492.1 1469.3,491.3 1469.4,491.1 1469.8,491.7 1470.3,491.9 1470.8,493.0 1471.3,493.8 1471.8,495.0 1472.3,495.9 1472.8,496.2 1473.3,496.9 1473.8,497.5 1474.3,497.7 1474.8,498.2 1475.3,498.0 1475.8,497.3 1476.3,497.4 1476.8,497.8 1477.3,497.8 1477.8,497.6 1478.3,498.1 1478.8,497.7 1479.3,498.0 1479.8,498.2 1480.3,498.2 1480.8,498.0 1481.3,497.5 1481.8,498.0 1482.3,497.3 1482.8,496.2 1483.3,494.3 1483.8,493.1 1484.3,491.0 1484.8,490.3 1485.3,490.2 1485.8,489.6 1486.3,489.5 1486.8,489.5 1487.3,491.3 1487.8,492.7 1488.3,494.1 1488.8,496.0 1489.3,496.8 1489.8,497.9 1490.3,498.0 1490.8,497.9 1491.3,498.1 1491.8,498.3 1492.3,498.0 1492.8,497.6 1493.3,497.6 1493.8,497.6 1494.3,497.6 1494.8,497.3 1495.3,497.3 1495.8,497.7 1496.3,498.1 1496.8,498.2 1497.3,498.0 1497.8,497.9 1498.3,497.5 1498.8,498.1 1499.3,498.1 1499.8,497.5 1500.3,497.2 1500.8,497.8 1501.3,497.6 1501.8,497.6 1502.3,497.9 1502.8,497.7 1503.3,498.2 1503.8,497.3 1504.3,497.8 1504.8,497.2 1505.3,497.0 1505.8,497.5 1506.3,498.0 1506.8,498.0 1507.3,497.3 1507.8,498.0 1508.3,498.1 1508.8,498.1 1509.3,498.0 1509.8,497.2 1510.3,497.6 1510.8,497.1 1511.3,497.3 1511.8,498.1 1512.3,498.0 1512.8,498.0 1513.3,498.1 1513.8,498.1 1514.3,498.1 1514.8,497.4 1515.3,497.5 1515.8,497.7 1516.3,497.9 1516.8,497.6 1517.3,497.8 1517.8,498.3 1518.3,498.3 1518.8,497.5 1519.3,497.4 1519.8,497.3 1520.3,497.6 1520.8,497.5 1521.3,498.2 1521.8,497.7 1522.3,497.3 1522.8,497.4 1523.3,497.5 1523.8,497.3 1524.3,497.1 1524.8,497.4 1525.3,497.7 1525.8,497.0 1526.3,496.4 1526.8,495.4 1527.3,495.6 1527.8,494.4 1528.3,493.0 1528.8,493.0 1529.3,491.9 1529.8,491.5 1530.0,491.2 1530.3,491.5 1530.8,491.8 1531.3,492.4 1531.8,493.8 1532.3,495.1 1532.8,495.2 1533.3,496.1 1533.8,496.5 1534.3,496.5 1534.8,495.2 1535.3,494.2 1535.8,493.6 1536.3,492.4 1536.8,491.9 1537.3,491.6 1537.8,490.7 1538.0,490.9 1538.3,491.4 1538.8,491.2 1539.3,492.6 1539.8,493.0 1540.3,494.5 1540.8,495.5 1541.3,496.2 1541.8,496.4 1542.3,496.8 1542.8,497.7 1543.3,497.8 1543.8,497.6 1544.3,497.1 1544.8,497.5 1545.3,497.2 1545.8,497.1 1546.3,497.2 1546.8,497.8 1547.3,498.1 1547.8,497.5 1548.3,497.9 1548.8,497.7 1549.3,497.8 1549.8,497.6 1550.3,497.1 1550.8,497.8 1551.3,498.2 1551.8,497.5 1552.3,497.9 1552.8,497.7 1553.3,497.9 1553.8,497.3 1554.3,497.4 1554.8,497.2 1555.3,497.7 1555.8,498.0 1556.3,497.6 1556.8,498.0 1557.3,498.3 1557.8,497.3 1558.3,497.1 1558.8,497.9 1559.3,497.9 1559.8,498.2 1560.3,498.4 1560.8,497.8 1561.3,497.4 1561.8,497.0 1562.3,497.0 1562.8,497.5 1563.3,498.2 1563.8,497.6 1564.3,497.7 1564.8,498.1 1565.3,498.1 1565.8,498.2 1566.3,497.3 1566.8,497.7 1567.3,497.1 1567.8,497.4 1568.3,497.3 1568.8,497.2 1569.3,497.8 1569.8,497.3 1570.3,497.0 1570.8,497.9 1571.3,498.0 1571.8,498.0 1572.3,497.7 1572.8,497.3 1573.3,497.1 1573.8,497.5 1574.3,497.0 1574.8,497.3 1575.3,497.3 1575.8,497.6 1576.3,497.5 1576.8,497.5 1577.3,497.2 1577.8,497.5 1578.3,497.8 1578.8,498.0 1579.3,497.9 1579.8,498.0 1580.3,497.7 1580.8,497.1 1581.3,496.9 1581.8,497.7 1582.3,497.8 1582.8,497.6 1583.3,497.8 1583.8,498.2 1584.3,498.2 1584.8,497.4 1585.3,497.6 1585.8,498.2 1586.3,497.7 1586.8,498.0 1587.3,497.3 1587.8,497.3 1588.3,498.1 1588.8,498.0 1589.3,498.3 1589.8,498.1 1590.3,497.5 1590.8,497.2 1591.3,497.0 1591.8,497.5 1592.3,497.5 1592.8,497.5 1593.3,497.9 1593.8,497.2 1594.3,497.9 1594.8,497.2 1595.3,497.8 1595.8,497.4 1596.3,497.6 1596.8,498.2 1597.3,497.5 1597.8,497.5 1598.3,498.1 1598.8,497.2 1599.3,497.1 1599.8,497.3 1600.3,498.0 1600.8,497.3 1601.3,498.0 1601.8,497.2 1602.3,496.9 1602.8,496.5 1603.3,495.8 1603.8,495.4 1604.3,495.1 1604.8,494.8 1605.0,494.8 1605.3,494.8 1605.8,495.0 1606.3,495.7 1606.8,496.5 1607.3,496.8 1607.8,497.8 1608.3,497.2 1608.8,497.8 1609.3,497.9 1609.8,497.5 1610.3,497.6 1610.8,497.8 1611.3,498.2 1611.8,497.6 1612.3,497.7 1612.8,497.9 1613.3,497.8 1613.8,497.6 1614.3,497.1 1614.8,497.3 1615.3,497.7 1615.8,498.1 1616.3,498.1 1616.8,498.2 1617.3,498.2 1617.8,497.5 1618.3,497.8 1618.8,497.9 1619.3,498.1 1619.8,497.5 1620.3,497.2 1620.8,497.2 1621.3,497.8 1621.8,497.8 1622.3,498.1 1622.8,498.1 1623.3,498.2 1623.8,497.8 1624.3,497.4 1624.8,497.4 1625.3,497.0 1625.8,496.6 1626.3,496.3 1626.8,496.2 1627.3,495.5 1627.8,494.8 1628.3,493.9 1628.8,493.1 1629.3,492.4 1629.8,492.5 1630.0,492.3 1630.3,492.6 1630.8,492.6 1631.3,493.5 1631.8,493.9 1632.3,495.4 1632.8,495.4 1633.3,496.8 1633.8,496.4 1634.3,496.7 1634.8,497.7 1635.3,497.9 1635.8,498.0 1636.3,497.8 1636.8,498.0 1637.3,498.2 1637.8,497.8 1638.3,497.4 1638.8,497.8 1639.3,498.2 1639.8,498.4 1640.3,498.5 1640.8,497.4 1641.3,497.3 1641.8,497.8 1642.3,497.3 1642.8,498.1 1643.3,497.3 1643.8,498.1 1644.3,498.2 1644.8,498.3 1645.3,497.6 1645.8,498.0 1646.3,497.9 1646.8,497.9 1647.3,497.6 1647.8,497.3 1648.3,497.4 1648.8,498.0 1649.3,498.3 1649.8,497.7 1650.3,497.7 1650.8,497.7 1651.3,498.1 1651.8,498.1 1652.3,497.3 1652.8,497.0 1653.3,497.6 1653.8,497.7 1654.3,497.2 1654.8,497.2 1655.3,497.7 1655.8,497.4 1656.3,497.8 1656.8,498.1 1657.3,497.3 1657.8,497.7 1658.3,497.1 1658.8,497.0 1659.3,497.4 1659.8,497.1 1660.3,497.5 1660.8,497.6 1661.3,498.0 1661.8,498.4 1662.3,498.0 1662.8,498.2 1663.3,498.0 1663.8,497.8 1664.3,497.9 1664.8,497.4 1665.3,497.2 1665.8,497.5 1666.3,497.6"/>
<line class="dash" x1="650.3" y1="271" x2="650.3" y2="388"/>
<line class="dash" x1="723.2" y1="159.2" x2="723.9" y2="427"/>
<line class="dash" x1="733.9" y1="203.5" x2="734.5" y2="427"/>
<line class="dash" x1="881.9" y1="137.5" x2="879.6" y2="375"/>
<line class="dash" x1="893.1" y1="176" x2="890.2" y2="453"/>
<text class="pk" transform="translate(179.5,469.4) scale(0.935,1)">1</text>
<text class="pk" transform="translate(214.5,480.4) scale(0.935,1)">2</text>
<text class="pk" transform="translate(321.5,456.4) scale(0.935,1)">3</text>
<text class="pk" transform="translate(365.5,430.4) scale(0.935,1)">4</text>
<text class="pk" transform="translate(492.3,404.4) scale(0.935,1)">5</text>
<text class="pk" transform="translate(521.5,328.7) scale(0.935,1)">6</text>
<text class="pk" transform="translate(549.2,426.9) scale(0.935,1)">7</text>
<text class="pk" transform="translate(611.3,453.8) scale(0.935,1)">8</text>
<text class="pk" transform="translate(626.5,359.1) scale(0.935,1)">9</text>
<text class="pk" transform="translate(649,272.4) scale(0.957,1)">10-12</text>
<text class="pk" transform="translate(692,404.4) scale(0.935,1)">13</text>
<text class="pk" transform="translate(722.5,136.7) scale(0.935,1)">14</text>
<text class="pk" transform="translate(751.5,198.2) scale(0.935,1)">15</text>
<text class="pk" transform="translate(769.5,369.4) scale(0.935,1)">16</text>
<text class="pk" transform="translate(853.6,293.0) scale(0.935,1)">17</text>
<text class="pk" transform="translate(882,114.4) scale(0.935,1)">18</text>
<text class="pk" transform="translate(905,172.4) scale(0.935,1)">19</text>
<text class="pk" transform="translate(926.9,282.4) scale(0.935,1)">20</text>
<text class="pk" transform="translate(947.8,123.8) scale(0.935,1)">21</text>
<text class="pk" transform="translate(973,184.4) scale(0.935,1)">22</text>
<text class="pk" transform="translate(1021.5,80.4) scale(0.935,1)">23</text>
<text class="pk" transform="translate(1034.5,319.1) scale(0.935,1)">24</text>
<text class="pk" transform="translate(1173,430.4) scale(0.935,1)">25</text>
<text class="pk" transform="translate(1213,307.4) scale(0.935,1)">26</text>
<text class="pk" transform="translate(1288.5,191.4) scale(0.935,1)">27</text>
<circle cx="1252.7" cy="69.8" r="15.7" fill="#1070b8"/>
<text class="lg" x="1278.0" y="80.8" textLength="312" lengthAdjust="spacingAndGlyphs">HiSorb faecal headspace</text>
<circle cx="1252.7" cy="109.0" r="15.7" fill="#d9541c"/>
<text class="lg" x="1278.0" y="118.2" textLength="161.5" lengthAdjust="spacingAndGlyphs">HiSorb blank</text>
</g>
<g id="bot">
<path d="M90.3,1163.1 L90.3,620.8 L1702.2,620.8" fill="none" stroke="#868686" stroke-width="2.2"/>
<path d="M90.3,1163.1 L1702.2,1163.1 L1702.2,620.8" fill="none" stroke="#585858" stroke-width="2.3"/>
<path d="M359.0,620.8 v15.8 M359.0,1163.1 v-15.8 M627.6,620.8 v15.8 M627.6,1163.1 v-15.8 M896.3,620.8 v15.8 M896.3,1163.1 v-15.8 M1164.9,620.8 v15.8 M1164.9,1163.1 v-15.8 M1433.5,620.8 v15.8 M1433.5,1163.1 v-15.8 M90.3,1054.6 h15.8 M1702.2,1054.6 h-15.8 M90.3,946.2 h15.8 M1702.2,946.2 h-15.8 M90.3,837.7 h15.8 M1702.2,837.7 h-15.8 M90.3,729.3 h15.8 M1702.2,729.3 h-15.8" fill="none" stroke="#626262" stroke-width="1.8"/>
<text class="tk" x="89.9" y="1199.7" text-anchor="middle">0</text>
<text class="tk" x="358.6" y="1199.7" text-anchor="middle">5</text>
<text class="tk" x="627.2" y="1199.7" text-anchor="middle">10</text>
<text class="tk" x="895.9" y="1199.7" text-anchor="middle">15</text>
<text class="tk" x="1164.5" y="1199.7" text-anchor="middle">20</text>
<text class="tk" x="1433.1" y="1199.7" text-anchor="middle">25</text>
<text class="tk" x="1701.8" y="1199.7" text-anchor="middle">30</text>
<text class="tk" x="79.3" y="1173.3" text-anchor="end">0</text>
<text class="tk" x="79.3" y="1064.8" text-anchor="end">0.5</text>
<text class="tk" x="79.3" y="956.4" text-anchor="end">1</text>
<text class="tk" x="79.3" y="847.9" text-anchor="end">1.5</text>
<text class="tk" x="79.3" y="739.5" text-anchor="end">2</text>
<text class="tk" x="79.3" y="631.0" text-anchor="end">2.5</text>
<text class="tk" x="92.1" y="614.2"><tspan font-size="30px" dy="1" fill="#444">×</tspan><tspan dx="2.5" dy="-1">10</tspan><tspan dy="-12.5" dx="-2" font-size="21px">7</tspan></text>
<text class="al" x="896.2" y="1236.0" text-anchor="middle">retention time [mins]</text>
<text class="al" transform="translate(29.4,890.7) rotate(-90)" text-anchor="middle">Intensity [a.u.]</text>
<polyline fill="none" stroke="#1070b8" stroke-width="2.6" stroke-linejoin="bevel" points="90.3,1162.9 90.8,1162.8 91.3,1162.7 91.8,1162.7 92.3,1162.9 92.8,1162.9 93.3,1163.0 93.8,1162.9 94.3,1162.8 94.8,1162.9 95.3,1162.8 95.8,1162.9 96.3,1162.9 96.8,1162.9 97.3,1162.7 97.8,1162.7 98.3,1162.9 98.8,1162.9 99.3,1163.0 99.8,1162.7 100.3,1162.7 100.8,1162.7 101.3,1162.6 101.8,1162.7 102.3,1162.6 102.8,1162.6 103.3,1162.8 103.8,1162.7 104.3,1162.8 104.8,1162.7 105.3,1162.7 105.8,1162.8 106.3,1162.8 106.8,1162.8 107.3,1162.9 107.8,1163.0 108.3,1162.7 108.8,1162.7 109.3,1162.6 109.8,1162.7 110.3,1162.7 110.8,1162.7 111.3,1162.9 111.8,1162.8 112.3,1162.8 112.8,1162.9 113.3,1162.9 113.8,1162.8 114.3,1162.9 114.8,1162.8 115.3,1162.8 115.8,1162.8 116.3,1162.9 116.8,1162.8 117.3,1162.9 117.8,1162.9 118.3,1162.9 118.8,1162.9 119.3,1163.0 119.8,1162.8 120.3,1162.7 120.8,1162.8 121.3,1162.7 121.8,1162.6 122.3,1162.9 122.8,1162.9 123.3,1162.8 123.8,1162.7 124.3,1162.7 124.8,1162.9 125.3,1162.9 125.8,1162.7 126.3,1162.6 126.8,1162.6 127.3,1162.8 127.8,1162.7 128.3,1162.8 128.8,1162.7 129.3,1162.9 129.8,1162.7 130.3,1162.7 130.8,1162.7 131.3,1162.9 131.8,1162.8 132.3,1162.8 132.8,1162.8 133.3,1162.8 133.8,1162.7 134.3,1162.8 134.8,1162.9 135.3,1162.9 135.8,1162.8 136.3,1162.9 136.8,1162.9 137.3,1163.0 137.8,1162.8 138.3,1162.8 138.8,1162.8 139.3,1162.9 139.8,1162.9 140.3,1162.9 140.8,1163.0 141.3,1163.0 141.8,1162.7 142.3,1162.9 142.8,1162.9 143.3,1162.9 143.8,1162.8 144.3,1162.9 144.8,1162.9 145.3,1162.9 145.8,1162.7 146.3,1162.9 146.8,1162.9 147.3,1162.8 147.8,1162.7 148.3,1162.7 148.8,1162.8 149.3,1162.7 149.8,1162.8 150.3,1163.0 150.8,1162.9 151.3,1162.7 151.8,1162.7 152.3,1162.8 152.8,1162.8 153.3,1162.7 153.8,1162.8 154.3,1162.8 154.8,1162.8 155.3,1162.9 155.8,1162.9 156.3,1162.9 156.8,1162.9 157.3,1163.0 157.8,1162.9 158.3,1163.0 158.8,1162.8 159.3,1162.8 159.8,1162.9 160.3,1162.8 160.8,1162.9 161.3,1162.8 161.8,1162.8 162.3,1162.9 162.8,1162.9 163.3,1162.9 163.8,1162.9 164.3,1162.7 164.8,1162.9 165.3,1162.7 165.8,1162.9 166.3,1162.9 166.8,1162.9 167.3,1163.0 167.8,1163.0 168.3,1162.9 168.8,1162.9 169.3,1162.7 169.8,1162.6 170.3,1162.9 170.8,1162.8 171.3,1162.9 171.8,1162.7 172.3,1162.8 172.8,1162.7 173.3,1162.7 173.8,1162.9 174.3,1163.0 174.8,1163.0 175.3,1162.7 175.8,1162.9 176.3,1162.8 176.8,1162.9 177.3,1162.9 177.8,1162.7 178.3,1162.9 178.8,1162.8 179.3,1162.7 179.8,1162.6 180.3,1162.7 180.8,1162.6 181.3,1162.8 181.8,1162.8 182.3,1162.7 182.8,1162.7 183.3,1162.6 183.8,1162.9 184.3,1162.9 184.8,1162.8 185.3,1162.7 185.8,1162.8 186.3,1162.9 186.8,1162.7 187.3,1162.8 187.8,1162.9 188.3,1163.0 188.8,1163.0 189.3,1162.8 189.8,1162.9 190.3,1162.8 190.8,1162.7 191.3,1162.6 191.8,1162.6 192.3,1162.8 192.8,1162.7 193.3,1162.7 193.8,1162.7 194.3,1162.8 194.8,1162.7 195.3,1162.9 195.8,1162.9 196.3,1162.7 196.8,1162.8 197.3,1162.9 197.8,1162.7 198.3,1162.3 198.8,1160.9 199.3,1158.6 199.6,1158.0 199.8,1158.1 200.3,1158.7 200.8,1159.8 201.3,1160.6 201.8,1161.2 202.3,1161.9 202.8,1162.1 203.3,1162.3 203.8,1162.6 204.3,1162.8 204.8,1162.8 205.3,1162.7 205.8,1162.7 206.3,1162.9 206.8,1162.9 207.3,1162.8 207.8,1162.9 208.3,1162.8 208.8,1163.0 209.3,1162.8 209.8,1162.9 210.3,1163.0 210.8,1162.8 211.3,1162.9 211.8,1162.7 212.3,1162.0 212.8,1155.2 213.3,1125.0 213.8,1070.0 214.2,1046.7 214.3,1048.0 214.8,1064.6 215.3,1085.9 215.8,1106.7 216.3,1123.7 216.8,1137.0 217.3,1146.3 217.8,1152.8 218.3,1157.0 218.8,1159.5 219.3,1160.8 219.8,1161.8 220.3,1162.3 220.8,1162.5 221.3,1162.7 221.8,1162.8 222.3,1162.9 222.8,1162.9 223.3,1162.7 223.8,1162.8 224.3,1162.9 224.8,1163.0 225.3,1162.8 225.8,1162.8 226.3,1162.7 226.8,1162.7 227.3,1162.9 227.8,1162.7 228.3,1162.6 228.8,1162.6 229.3,1162.6 229.8,1162.7 230.3,1162.7 230.8,1162.7 231.3,1162.7 231.8,1162.9 232.3,1162.9 232.8,1162.8 233.3,1162.8 233.8,1162.9 234.3,1162.8 234.8,1162.8 235.3,1162.8 235.8,1162.7 236.3,1162.6 236.8,1162.8 237.3,1162.7 237.8,1162.8 238.3,1162.8 238.8,1162.8 239.3,1162.7 239.8,1162.8 240.3,1162.6 240.8,1162.8 241.3,1162.7 241.8,1162.6 242.3,1162.6 242.8,1162.7 243.3,1162.7 243.8,1162.5 244.3,1162.1 244.8,1161.4 245.3,1160.1 245.8,1156.0 246.3,1142.0 246.8,1112.6 247.3,1090.0 247.8,1087.9 248.3,1086.7 248.8,1082.3 249.3,1074.3 249.8,1064.1 250.3,1055.2 250.6,1053.1 250.8,1056.7 251.3,1070.7 251.8,1087.4 252.3,1103.6 252.8,1117.6 253.3,1129.7 253.8,1139.3 254.3,1146.5 254.8,1151.8 255.3,1155.5 255.8,1158.1 256.3,1159.9 256.8,1161.1 257.3,1161.6 257.8,1162.3 258.3,1162.5 258.8,1162.6 259.3,1162.6 259.8,1162.6 260.3,1162.7 260.8,1162.7 261.3,1162.7 261.8,1162.6 262.3,1162.9 262.8,1163.0 263.3,1162.8 263.8,1162.8 264.3,1162.8 264.8,1162.7 265.3,1162.9 265.8,1162.8 266.3,1162.8 266.8,1162.8 267.3,1162.9 267.8,1162.9 268.3,1162.8 268.8,1162.8 269.3,1162.7 269.8,1162.8 270.3,1162.7 270.8,1162.9 271.3,1162.8 271.8,1162.9 272.3,1162.7 272.8,1162.6 273.3,1162.8 273.8,1162.7 274.3,1162.9 274.8,1162.9 275.3,1163.0 275.8,1162.9 276.3,1163.0 276.8,1162.8 277.3,1162.8 277.8,1162.8 278.3,1162.7 278.8,1162.9 279.3,1162.9 279.8,1162.9 280.3,1163.0 280.8,1162.7 281.3,1162.9 281.8,1163.0 282.3,1162.7 282.8,1162.3 283.3,1159.6 283.8,1150.9 284.3,1140.7 284.5,1139.5 284.8,1140.8 285.3,1145.0 285.8,1149.6 286.3,1153.3 286.8,1156.7 287.3,1158.9 287.8,1160.3 288.3,1161.3 288.8,1162.1 289.3,1162.3 289.8,1162.5 290.3,1162.6 290.8,1162.6 291.3,1162.6 291.8,1162.7 292.3,1162.7 292.8,1162.8 293.3,1162.8 293.8,1162.7 294.3,1162.7 294.8,1162.8 295.3,1163.0 295.8,1162.8 296.3,1162.8 296.8,1162.8 297.3,1162.9 297.8,1162.8 298.3,1162.8 298.8,1162.7 299.3,1162.7 299.8,1162.8 300.3,1162.7 300.8,1162.8 301.3,1162.8 301.8,1162.7 302.3,1162.7 302.8,1162.7 303.3,1162.6 303.8,1162.7 304.3,1162.8 304.8,1162.9 305.3,1162.9 305.8,1162.9 306.3,1162.8 306.8,1162.7 307.3,1162.9 307.8,1162.9 308.3,1162.8 308.8,1162.8 309.3,1162.7 309.8,1162.9 310.3,1162.7 310.8,1162.6 311.3,1161.5 311.8,1159.4 312.3,1157.9 312.8,1158.4 313.3,1159.3 313.8,1160.3 314.3,1161.1 314.8,1161.8 315.3,1162.1 315.8,1162.4 316.3,1162.5 316.8,1162.6 317.3,1162.7 317.8,1162.6 318.3,1162.9 318.8,1162.7 319.3,1162.9 319.8,1162.7 320.3,1162.7 320.8,1162.8 321.3,1162.7 321.8,1162.7 322.3,1162.8 322.8,1162.9 323.3,1162.8 323.8,1162.7 324.3,1162.9 324.8,1162.9 325.3,1162.9 325.8,1162.7 326.3,1162.6 326.8,1162.8 327.3,1162.9 327.8,1162.5 328.3,1159.2 328.8,1134.9 329.3,1058.5 329.8,967.8 330.0,956.9 330.3,963.9 330.8,986.2 331.3,1013.4 331.8,1040.5 332.3,1065.9 332.8,1087.9 333.3,1106.2 333.8,1121.1 334.3,1132.7 334.8,1141.5 335.3,1148.1 335.8,1152.7 336.3,1156.2 336.8,1158.3 337.3,1160.0 337.8,1161.0 338.3,1161.7 338.8,1162.1 339.3,1162.5 339.8,1162.7 340.3,1162.7 340.8,1162.6 341.3,1162.6 341.8,1162.7 342.3,1162.6 342.8,1162.8 343.3,1162.8 343.8,1162.7 344.3,1162.9 344.8,1162.9 345.3,1162.9 345.8,1162.8 346.3,1162.7 346.8,1162.7 347.3,1162.7 347.8,1162.9 348.3,1162.8 348.8,1162.8 349.3,1162.9 349.8,1162.8 350.3,1162.9 350.8,1162.9 351.3,1162.8 351.8,1162.7 352.3,1162.9 352.8,1162.9 353.3,1162.9 353.8,1162.8 354.3,1162.7 354.8,1162.8 355.3,1162.7 355.8,1162.8 356.3,1162.9 356.8,1162.9 357.3,1162.8 357.8,1162.7 358.3,1162.7 358.8,1162.2 359.3,1158.8 359.8,1151.5 360.3,1146.8 360.8,1148.9 361.3,1151.9 361.8,1154.8 362.3,1157.4 362.8,1159.4 363.3,1160.5 363.8,1161.5 364.3,1162.2 364.8,1162.3 365.3,1162.7 365.8,1162.8 366.3,1162.7 366.8,1162.7 367.3,1162.6 367.8,1162.8 368.3,1162.8 368.8,1162.7 369.3,1162.8 369.8,1162.7 370.3,1162.8 370.8,1162.7 371.3,1162.6 371.8,1162.8 372.3,1162.7 372.8,1162.8 373.3,1162.7 373.8,1162.7 374.3,1162.6 374.8,1162.6 375.3,1162.7 375.8,1162.6 376.3,1162.8 376.8,1162.8 377.3,1162.9 377.8,1162.8 378.3,1162.7 378.8,1162.9 379.3,1162.7 379.8,1162.8 380.3,1162.9 380.8,1162.9 381.3,1162.7 381.8,1162.2 382.3,1160.7 382.8,1158.7 383.0,1158.2 383.3,1158.5 383.8,1159.3 384.3,1160.2 384.8,1161.1 385.3,1161.6 385.8,1162.1 386.3,1162.5 386.8,1162.5 387.3,1162.1 387.8,1160.3 388.3,1156.3 388.7,1154.9 388.8,1155.0 389.3,1156.2 389.8,1157.6 390.3,1159.0 390.8,1160.2 391.3,1161.2 391.8,1161.7 392.3,1162.3 392.8,1162.3 393.3,1162.0 393.8,1159.4 394.3,1154.3 394.7,1152.2 394.8,1152.3 395.3,1154.0 395.8,1155.9 396.3,1157.9 396.8,1159.6 397.3,1160.8 397.8,1161.4 398.3,1162.1 398.8,1162.5 399.3,1162.6 399.8,1162.6 400.3,1162.6 400.8,1162.6 401.3,1162.7 401.8,1162.9 402.3,1162.8 402.8,1162.9 403.3,1162.7 403.8,1162.6 404.3,1162.9 404.8,1162.8 405.3,1162.9 405.8,1163.0 406.3,1162.7 406.8,1162.8 407.3,1162.9 407.8,1162.8 408.3,1162.9 408.8,1162.9 409.3,1162.8 409.8,1162.7 410.3,1162.9 410.8,1162.7 411.3,1162.9 411.8,1162.9 412.3,1162.9 412.8,1162.9 413.3,1163.0 413.8,1162.8 414.3,1162.8 414.8,1162.9 415.3,1162.8 415.8,1162.9 416.3,1162.8 416.8,1162.6 417.3,1162.8 417.8,1162.8 418.3,1162.8 418.8,1162.9 419.3,1162.8 419.8,1162.9 420.3,1162.9 420.8,1162.8 421.3,1162.8 421.8,1162.9 422.3,1163.0 422.8,1162.7 423.3,1162.8 423.8,1162.7 424.3,1162.7 424.8,1162.7 425.3,1162.8 425.8,1162.8 426.3,1162.8 426.8,1162.8 427.3,1162.7 427.8,1162.9 428.3,1162.9 428.8,1162.7 429.3,1162.6 429.8,1162.6 430.3,1162.6 430.8,1162.9 431.3,1162.8 431.8,1162.9 432.3,1162.7 432.8,1162.8 433.3,1162.8 433.8,1162.8 434.3,1162.9 434.8,1162.8 435.3,1162.5 435.8,1161.4 436.3,1157.5 436.8,1152.9 437.0,1152.4 437.3,1153.0 437.8,1154.7 438.3,1156.6 438.8,1158.6 439.3,1160.1 439.8,1161.1 440.3,1161.6 440.8,1162.2 441.3,1162.6 441.8,1162.7 442.3,1162.9 442.8,1162.9 443.3,1162.9 443.8,1162.8 444.3,1162.7 444.8,1162.8 445.3,1162.9 445.8,1162.8 446.3,1163.0 446.8,1163.0 447.3,1162.8 447.8,1162.8 448.3,1162.9 448.8,1162.8 449.3,1163.0 449.8,1162.9 450.3,1163.0 450.8,1162.9 451.3,1163.0 451.8,1162.8 452.3,1162.9 452.8,1162.9 453.3,1162.9 453.8,1162.9 454.3,1162.8 454.8,1162.6 455.3,1162.6 455.8,1162.8 456.3,1162.8 456.8,1162.8 457.3,1162.9 457.8,1162.9 458.3,1162.8 458.8,1162.8 459.3,1162.7 459.8,1162.8 460.3,1162.9 460.8,1162.7 461.3,1162.7 461.8,1162.9 462.3,1162.7 462.8,1162.8 463.3,1162.8 463.8,1162.8 464.3,1162.7 464.8,1162.7 465.3,1162.8 465.8,1162.8 466.3,1162.7 466.8,1162.7 467.3,1162.7 467.8,1162.7 468.3,1162.7 468.8,1162.8 469.3,1162.9 469.8,1162.9 470.3,1162.9 470.8,1162.7 471.3,1162.8 471.8,1162.9 472.3,1162.9 472.8,1162.9 473.3,1162.7 473.8,1162.7 474.3,1162.7 474.8,1162.8 475.3,1162.8 475.8,1162.7 476.3,1162.8 476.8,1162.7 477.3,1162.9 477.8,1162.9 478.3,1162.8 478.8,1162.7 479.3,1162.6 479.8,1162.6 480.3,1162.8 480.8,1162.7 481.3,1162.6 481.8,1162.9 482.3,1162.9 482.8,1162.8 483.3,1162.9 483.8,1162.9 484.3,1162.7 484.8,1162.9 485.3,1162.8 485.8,1163.0 486.3,1162.9 486.8,1162.7 487.3,1162.9 487.8,1163.0 488.3,1162.7 488.8,1162.6 489.3,1162.7 489.8,1162.8 490.3,1162.8 490.8,1161.8 491.3,1154.8 491.8,1128.5 492.3,1089.1 492.6,1079.4 492.8,1082.2 493.3,1095.9 493.8,1112.0 494.3,1126.8 494.8,1138.6 495.3,1147.2 495.8,1153.3 496.3,1157.3 496.8,1159.8 497.3,1161.1 497.8,1161.9 498.3,1162.3 498.8,1162.7 499.3,1162.6 499.8,1162.8 500.3,1162.7 500.8,1162.7 501.3,1162.8 501.8,1162.9 502.3,1162.8 502.8,1162.9 503.3,1163.0 503.8,1163.0 504.3,1163.0 504.8,1162.7 505.3,1162.9 505.8,1162.7 506.3,1162.7 506.8,1162.6 507.3,1162.7 507.8,1162.9 508.3,1163.0 508.8,1162.8 509.3,1162.7 509.8,1162.7 510.3,1162.6 510.8,1162.9 511.3,1162.8 511.8,1162.7 512.3,1162.6 512.8,1162.8 513.3,1162.6 513.8,1162.8 514.3,1162.6 514.8,1162.6 515.3,1162.3 515.8,1162.0 516.3,1161.5 516.8,1160.6 517.3,1159.3 517.8,1157.5 518.3,1155.1 518.8,1151.9 519.3,1147.6 519.8,1142.3 520.3,1136.6 520.8,1130.9 521.3,1125.5 521.8,1122.1 521.9,1121.9 522.3,1125.5 522.8,1134.3 523.3,1143.3 523.8,1150.5 524.3,1155.6 524.8,1158.9 525.3,1160.7 525.8,1161.8 526.3,1162.4 526.8,1162.7 527.3,1162.7 527.8,1162.7 528.3,1162.8 528.8,1162.8 529.3,1162.9 529.8,1162.7 530.3,1162.6 530.8,1162.7 531.3,1162.7 531.8,1162.8 532.3,1162.9 532.8,1163.0 533.3,1162.8 533.8,1162.7 534.3,1162.7 534.8,1162.7 535.3,1162.7 535.8,1162.8 536.3,1162.8 536.8,1162.9 537.3,1162.7 537.8,1162.7 538.3,1162.8 538.8,1162.7 539.3,1162.6 539.8,1162.9 540.3,1162.9 540.8,1162.9 541.3,1162.7 541.8,1162.9 542.3,1162.8 542.8,1162.8 543.3,1162.9 543.8,1162.8 544.3,1162.9 544.8,1162.9 545.3,1162.7 545.8,1161.8 546.3,1160.0 546.8,1158.3 546.9,1158.2 547.3,1158.6 547.8,1159.5 548.3,1160.5 548.8,1161.3 549.3,1161.6 549.8,1162.0 550.3,1162.3 550.8,1162.4 551.3,1162.7 551.8,1162.8 552.3,1162.8 552.8,1162.8 553.3,1162.7 553.8,1162.7 554.3,1162.8 554.8,1162.8 555.3,1162.7 555.8,1162.7 556.3,1162.7 556.8,1162.7 557.3,1162.7 557.8,1162.6 558.3,1162.9 558.8,1162.7 559.3,1162.9 559.8,1162.8 560.3,1162.8 560.8,1162.6 561.3,1162.8 561.8,1163.0 562.3,1162.7 562.8,1162.8 563.3,1162.8 563.8,1162.8 564.3,1162.9 564.8,1163.0 565.3,1162.8 565.8,1162.9 566.3,1162.8 566.8,1162.7 567.3,1162.6 567.8,1162.8 568.3,1162.9 568.8,1162.9 569.3,1162.8 569.8,1162.9 570.3,1163.0 570.8,1162.7 571.3,1162.8 571.8,1162.7 572.3,1162.8 572.8,1162.9 573.3,1162.8 573.8,1162.7 574.3,1162.9 574.8,1162.8 575.3,1162.8 575.8,1162.8 576.3,1162.9 576.8,1162.8 577.3,1162.9 577.8,1163.0 578.3,1163.0 578.8,1162.8 579.3,1162.9 579.8,1162.8 580.3,1162.9 580.8,1162.7 581.3,1162.9 581.8,1162.7 582.3,1162.8 582.8,1162.7 583.3,1162.6 583.8,1162.9 584.3,1163.0 584.8,1162.9 585.3,1163.0 585.8,1162.8 586.3,1162.9 586.8,1162.8 587.3,1162.6 587.8,1162.7 588.3,1162.6 588.8,1162.7 589.3,1162.8 589.8,1162.6 590.3,1162.8 590.8,1162.8 591.3,1162.8 591.8,1162.8 592.3,1162.9 592.8,1162.7 593.3,1162.6 593.8,1162.7 594.3,1162.8 594.8,1162.6 595.3,1162.5 595.8,1162.5 596.3,1161.2 596.8,1160.1 597.0,1160.0 597.3,1160.1 597.8,1160.5 598.3,1160.7 598.8,1159.4 599.3,1157.7 599.6,1157.2 599.8,1157.5 600.3,1158.6 600.8,1159.5 601.3,1160.4 601.8,1161.3 602.3,1161.7 602.8,1162.2 603.3,1162.4 603.8,1162.4 604.3,1162.6 604.8,1162.8 605.3,1162.9 605.8,1162.8 606.3,1162.7 606.8,1162.7 607.3,1162.5 607.8,1161.9 608.3,1158.5 608.8,1150.1 609.3,1141.5 609.4,1140.6 609.8,1139.4 610.3,1137.2 610.8,1132.8 611.3,1126.3 611.8,1118.3 612.3,1111.6 612.5,1110.7 612.8,1114.7 613.3,1125.1 613.8,1135.8 614.3,1144.8 614.8,1151.4 615.3,1156.0 615.8,1159.0 616.3,1160.6 616.8,1161.8 617.3,1162.4 617.8,1162.6 618.3,1162.8 618.8,1162.8 619.3,1162.8 619.8,1162.9 620.3,1162.7 620.8,1162.9 621.3,1162.8 621.8,1162.9 622.3,1162.7 622.8,1162.9 623.3,1162.9 623.8,1162.8 624.3,1162.8 624.8,1162.6 625.3,1160.7 625.8,1146.7 626.3,1102.3 626.8,1049.3 627.0,1042.8 627.3,1050.1 627.8,1071.4 628.3,1094.4 628.8,1114.7 629.3,1129.2 629.8,1135.6 630.3,1137.2 630.5,1138.7 630.8,1142.6 631.3,1148.3 631.8,1152.5 632.3,1155.9 632.8,1158.5 633.3,1160.1 633.8,1161.4 634.3,1161.9 634.8,1162.4 635.3,1162.5 635.8,1162.8 636.3,1162.7 636.8,1162.8 637.3,1162.8 637.8,1162.6 638.3,1162.7 638.8,1162.6 639.3,1162.6 639.8,1162.8 640.3,1162.8 640.8,1162.5 641.3,1162.4 641.8,1162.4 642.3,1162.0 642.8,1161.8 643.3,1161.0 643.8,1158.8 644.3,1153.3 644.8,1147.0 645.0,1145.8 645.3,1145.3 645.8,1145.0 646.3,1144.0 646.8,1142.1 647.3,1138.6 647.8,1133.6 648.3,1127.0 648.8,1119.0 649.3,1109.5 649.8,1099.2 650.3,1088.7 650.8,1079.2 651.3,1072.7 651.4,1072.3 651.8,1079.8 652.3,1095.0 652.8,1111.1 653.3,1125.5 653.8,1137.0 654.3,1145.6 654.8,1151.8 655.3,1156.0 655.8,1158.6 656.3,1159.3 656.8,1155.0 657.3,1143.9 657.8,1136.8 658.3,1140.3 658.8,1145.2 659.3,1150.2 659.8,1154.0 660.3,1157.3 660.8,1159.3 661.3,1160.8 661.8,1161.7 662.3,1162.1 662.8,1162.5 663.3,1162.6 663.8,1162.8 664.3,1162.9 664.8,1162.9 665.3,1162.8 665.8,1162.7 666.3,1162.8 666.8,1162.7 667.3,1162.9 667.8,1162.9 668.3,1162.9 668.8,1162.8 669.3,1162.7 669.8,1162.7 670.3,1162.8 670.8,1162.8 671.3,1162.7 671.8,1162.9 672.3,1162.9 672.8,1162.8 673.3,1162.8 673.8,1162.8 674.3,1162.9 674.8,1162.9 675.3,1162.9 675.8,1163.0 676.3,1162.8 676.8,1162.7 677.3,1162.7 677.8,1162.8 678.3,1162.8 678.8,1162.9 679.3,1162.9 679.8,1162.9 680.3,1162.8 680.8,1162.8 681.3,1162.8 681.8,1162.9 682.3,1162.8 682.8,1162.7 683.3,1162.7 683.8,1162.8 684.3,1162.8 684.8,1162.7 685.3,1162.9 685.8,1162.8 686.3,1162.9 686.8,1162.7 687.3,1162.7 687.8,1162.9 688.3,1163.0 688.8,1162.7 689.3,1162.8 689.8,1162.8 690.3,1162.8 690.8,1162.8 691.3,1162.8 691.8,1162.1 692.3,1160.3 692.8,1158.1 693.0,1157.7 693.3,1157.9 693.8,1159.0 694.3,1160.0 694.8,1160.7 695.3,1161.5 695.8,1161.8 696.3,1162.3 696.8,1162.6 697.3,1162.8 697.8,1162.6 698.3,1162.7 698.8,1162.6 699.3,1162.6 699.8,1162.7 700.3,1162.9 700.8,1162.8 701.3,1163.0 701.8,1162.9 702.3,1162.9 702.8,1162.7 703.3,1162.9 703.8,1162.9 704.3,1163.0 704.8,1163.0 705.3,1162.8 705.8,1162.8 706.3,1162.8 706.8,1162.7 707.3,1162.7 707.8,1162.9 708.3,1162.7 708.8,1162.7 709.3,1162.6 709.8,1161.6 710.3,1156.7 710.8,1147.9 711.2,1144.4 711.3,1144.5 711.8,1147.2 712.3,1150.9 712.8,1154.2 713.3,1156.8 713.8,1158.9 714.3,1160.4 714.8,1161.3 715.3,1162.1 715.8,1162.5 716.3,1162.7 716.8,1162.7 717.3,1162.7 717.8,1162.7 718.3,1162.8 718.8,1162.8 719.3,1162.7 719.8,1162.7 720.3,1162.5 720.8,1159.4 721.3,1146.1 721.8,1121.5 722.2,1111.2 722.3,1111.7 722.8,1119.5 723.3,1129.5 723.8,1138.9 724.3,1146.7 724.8,1152.3 725.3,1156.2 725.8,1159.0 726.3,1160.7 726.8,1161.6 727.3,1162.1 727.8,1162.5 728.3,1162.6 728.8,1162.8 729.3,1162.7 729.8,1162.9 730.3,1162.8 730.8,1162.7 731.3,1162.8 731.8,1162.9 732.3,1162.9 732.8,1162.7 733.3,1162.4 733.8,1159.3 734.3,1145.3 734.8,1119.9 735.2,1109.2 735.3,1109.9 735.8,1117.8 736.3,1128.2 736.8,1138.1 737.3,1146.1 737.8,1152.1 738.3,1156.2 738.8,1158.8 739.3,1160.6 739.8,1161.6 740.3,1162.3 740.8,1162.4 741.3,1162.6 741.8,1162.8 742.3,1162.7 742.8,1162.9 743.3,1163.0 743.8,1162.7 744.3,1162.7 744.8,1162.8 745.3,1162.9 745.8,1162.8 746.3,1162.9 746.8,1162.9 747.3,1162.9 747.8,1162.8 748.3,1162.9 748.8,1163.0 749.3,1162.7 749.8,1162.8 750.3,1162.9 750.8,1163.0 751.3,1162.7 751.8,1162.8 752.3,1162.8 752.8,1162.7 753.3,1162.9 753.8,1163.0 754.3,1163.0 754.8,1162.8 755.3,1162.9 755.8,1162.8 756.3,1162.7 756.8,1162.8 757.3,1162.7 757.8,1162.9 758.3,1162.9 758.8,1162.9 759.3,1162.8 759.8,1162.8 760.3,1162.8 760.8,1162.7 761.3,1162.6 761.8,1162.6 762.3,1162.7 762.8,1162.6 763.3,1162.8 763.8,1162.9 764.3,1162.7 764.8,1162.8 765.3,1162.9 765.8,1162.7 766.3,1162.8 766.8,1162.9 767.3,1162.7 767.8,1162.9 768.3,1162.9 768.8,1162.1 769.3,1158.1 769.8,1147.0 770.3,1137.3 770.4,1136.9 770.8,1139.3 771.3,1144.0 771.8,1148.9 772.3,1153.1 772.8,1156.5 773.3,1158.7 773.8,1160.4 774.3,1160.4 774.8,1157.7 775.3,1152.6 775.6,1151.5 775.8,1152.0 776.3,1153.8 776.8,1156.1 777.3,1158.0 777.8,1159.5 778.3,1160.9 778.8,1161.5 779.3,1162.1 779.8,1162.3 780.3,1162.5 780.8,1162.7 781.3,1162.8 781.8,1162.8 782.3,1162.9 782.8,1162.8 783.3,1162.7 783.8,1162.6 784.3,1162.8 784.8,1162.8 785.3,1162.7 785.8,1162.7 786.3,1162.7 786.8,1162.6 787.3,1162.6 787.8,1162.6 788.3,1162.7 788.8,1162.8 789.3,1162.9 789.8,1162.8 790.3,1162.8 790.8,1162.8 791.3,1162.7 791.8,1162.6 792.3,1162.6 792.8,1162.8 793.3,1162.8 793.8,1162.7 794.3,1162.8 794.8,1162.8 795.3,1162.9 795.8,1162.7 796.3,1162.7 796.8,1162.8 797.3,1162.7 797.8,1162.8 798.3,1162.8 798.8,1162.8 799.3,1162.7 799.8,1162.8 800.3,1162.6 800.8,1162.6 801.3,1162.9 801.8,1162.8 802.3,1162.8 802.8,1162.9 803.3,1162.7 803.8,1162.7 804.3,1162.6 804.8,1162.7 805.3,1162.9 805.8,1162.8 806.3,1162.7 806.8,1162.8 807.3,1162.7 807.8,1162.8 808.3,1162.8 808.8,1162.7 809.3,1162.7 809.8,1162.6 810.3,1162.6 810.8,1162.6 811.3,1162.8 811.8,1162.7 812.3,1162.9 812.8,1162.8 813.3,1162.7 813.8,1162.8 814.3,1162.8 814.8,1162.6 815.3,1162.7 815.8,1162.8 816.3,1162.7 816.8,1162.7 817.3,1162.8 817.8,1162.8 818.3,1162.9 818.8,1162.8 819.3,1162.7 819.8,1162.8 820.3,1162.7 820.8,1162.8 821.3,1162.9 821.8,1162.9 822.3,1162.7 822.8,1162.9 823.3,1162.9 823.8,1162.8 824.3,1162.7 824.8,1162.9 825.3,1162.9 825.8,1163.0 826.3,1162.7 826.8,1162.7 827.3,1162.9 827.8,1162.7 828.3,1162.9 828.8,1162.7 829.3,1162.9 829.8,1162.7 830.3,1162.8 830.8,1162.8 831.3,1162.8 831.8,1162.7 832.3,1162.8 832.8,1162.7 833.3,1162.7 833.8,1162.7 834.3,1162.9 834.8,1162.9 835.3,1162.9 835.8,1162.7 836.3,1162.8 836.8,1162.7 837.3,1162.8 837.8,1162.9 838.3,1162.9 838.8,1162.8 839.3,1162.9 839.8,1162.9 840.3,1162.8 840.8,1162.7 841.3,1162.6 841.8,1162.9 842.3,1162.9 842.8,1162.8 843.3,1162.7 843.8,1162.9 844.3,1162.8 844.8,1162.9 845.3,1162.8 845.8,1162.8 846.3,1162.9 846.8,1162.7 847.3,1162.7 847.8,1162.8 848.3,1162.8 848.8,1162.9 849.3,1162.9 849.8,1162.9 850.3,1162.9 850.8,1162.7 851.3,1162.8 851.8,1162.9 852.3,1162.9 852.8,1162.9 853.3,1162.9 853.8,1162.8 854.3,1162.7 854.8,1162.8 855.3,1162.9 855.8,1162.9 856.3,1162.8 856.8,1162.9 857.3,1162.9 857.8,1163.0 858.3,1162.9 858.8,1162.9 859.3,1162.7 859.8,1162.8 860.3,1162.7 860.8,1162.8 861.3,1162.9 861.8,1162.7 862.3,1162.7 862.8,1162.6 863.3,1162.7 863.8,1162.8 864.3,1162.8 864.8,1162.7 865.3,1162.8 865.8,1162.8 866.3,1162.7 866.8,1162.7 867.3,1162.3 867.8,1161.5 868.3,1158.9 868.8,1154.1 869.3,1147.5 869.8,1141.5 870.2,1139.7 870.3,1139.9 870.8,1143.5 871.3,1147.8 871.8,1152.1 872.3,1155.4 872.8,1158.0 873.3,1160.0 873.8,1161.0 874.3,1161.9 874.8,1162.3 875.3,1162.6 875.8,1162.7 876.3,1162.8 876.8,1162.9 877.3,1162.7 877.8,1162.8 878.3,1162.8 878.8,1162.9 879.3,1162.9 879.8,1162.8 880.3,1162.8 880.8,1162.8 881.3,1162.7 881.8,1162.9 882.3,1162.9 882.8,1162.7 883.3,1162.7 883.8,1162.7 884.3,1162.9 884.8,1162.8 885.3,1162.7 885.8,1162.6 886.3,1162.7 886.8,1162.6 887.3,1162.8 887.8,1162.7 888.3,1162.6 888.8,1162.9 889.3,1162.8 889.8,1162.9 890.3,1162.8 890.8,1162.7 891.3,1162.8 891.8,1162.9 892.3,1162.8 892.8,1162.8 893.3,1162.9 893.8,1162.7 894.3,1162.8 894.8,1162.8 895.3,1162.8 895.8,1162.9 896.3,1162.7 896.8,1162.7 897.3,1162.8 897.8,1162.7 898.3,1162.7 898.8,1162.5 899.3,1161.2 899.8,1157.6 900.3,1154.5 900.4,1154.3 900.8,1155.2 901.3,1156.9 901.8,1158.3 902.3,1159.7 902.8,1160.6 903.3,1161.4 903.8,1161.9 904.3,1162.3 904.8,1162.5 905.3,1162.6 905.8,1162.8 906.3,1162.6 906.8,1162.7 907.3,1162.7 907.8,1162.1 908.3,1160.3 908.8,1158.1 909.0,1157.8 909.3,1157.9 909.8,1158.9 910.3,1159.8 910.8,1160.8 911.3,1161.3 911.8,1161.8 912.3,1162.1 912.8,1162.6 913.3,1162.5 913.8,1162.6 914.3,1161.5 914.8,1153.6 915.3,1128.8 915.8,1099.3 916.0,1095.7 916.3,1099.9 916.8,1111.6 917.3,1124.7 917.8,1136.1 918.3,1145.1 918.8,1151.5 919.3,1154.7 919.8,1153.1 920.3,1148.3 920.6,1147.2 920.8,1148.0 921.3,1150.9 921.8,1154.1 922.3,1156.7 922.8,1158.6 923.3,1160.1 923.8,1161.2 924.3,1161.9 924.8,1162.2 925.3,1162.5 925.8,1162.7 926.3,1162.2 926.8,1160.9 927.3,1159.4 927.5,1159.3 927.8,1159.5 928.3,1160.2 928.8,1161.0 929.3,1161.5 929.8,1161.8 930.3,1162.2 930.8,1162.3 931.3,1162.6 931.8,1162.6 932.3,1162.6 932.8,1162.6 933.3,1162.9 933.8,1162.7 934.3,1162.9 934.8,1163.0 935.3,1162.8 935.8,1162.9 936.3,1162.9 936.8,1162.9 937.3,1162.7 937.8,1162.9 938.3,1162.9 938.8,1162.7 939.3,1162.9 939.8,1162.8 940.3,1162.7 940.8,1162.8 941.3,1162.7 941.8,1162.2 942.3,1159.9 942.8,1157.5 943.0,1157.2 943.3,1157.7 943.8,1158.7 944.3,1159.8 944.8,1160.5 945.3,1161.5 945.8,1161.8 946.3,1162.1 946.8,1162.3 947.3,1162.6 947.8,1162.5 948.3,1161.5 948.8,1153.1 949.3,1126.5 949.8,1095.2 950.0,1091.4 950.3,1095.6 950.8,1108.4 951.3,1122.0 951.8,1134.1 952.3,1143.9 952.8,1150.7 953.3,1155.6 953.8,1158.6 954.3,1160.3 954.8,1161.3 955.3,1162.0 955.8,1162.3 956.3,1162.5 956.8,1162.8 957.3,1162.8 957.8,1162.7 958.3,1162.9 958.8,1162.9 959.3,1162.7 959.8,1162.7 960.3,1162.3 960.8,1160.7 961.3,1158.4 961.5,1158.4 961.8,1158.5 962.3,1159.3 962.8,1160.3 963.3,1161.1 963.8,1161.7 964.3,1162.1 964.8,1161.5 965.3,1155.9 965.8,1141.4 966.3,1128.1 966.4,1127.6 966.8,1131.0 967.3,1137.4 967.8,1144.0 968.3,1150.0 968.8,1154.4 969.3,1157.5 969.8,1159.6 970.3,1160.9 970.8,1161.8 971.3,1162.1 971.8,1162.3 972.3,1162.6 972.8,1162.6 973.3,1162.8 973.8,1162.7 974.3,1162.9 974.8,1162.8 975.3,1162.8 975.8,1162.7 976.3,1162.8 976.8,1162.8 977.3,1162.8 977.8,1162.9 978.3,1162.9 978.8,1162.8 979.3,1162.6 979.8,1162.6 980.3,1162.7 980.8,1162.8 981.3,1162.7 981.8,1162.9 982.3,1162.9 982.8,1162.7 983.3,1162.8 983.8,1163.0 984.3,1163.0 984.8,1163.0 985.3,1162.8 985.8,1162.9 986.3,1162.7 986.8,1162.8 987.3,1162.8 987.8,1162.8 988.3,1162.7 988.8,1162.7 989.3,1162.7 989.8,1162.8 990.3,1162.9 990.8,1162.8 991.3,1162.8 991.8,1162.8 992.3,1162.6 992.8,1162.7 993.3,1160.8 993.8,1121.7 994.3,901.5 994.8,678.2 995.3,712.5 995.8,768.8 996.3,831.5 996.8,893.1 997.3,949.2 997.8,997.5 998.3,1037.8 998.8,1070.3 999.3,1095.8 999.8,1115.1 1000.3,1129.3 1000.8,1139.8 1001.3,1147.3 1001.8,1152.3 1002.3,1155.8 1002.8,1158.4 1003.3,1159.8 1003.8,1161.1 1004.3,1161.8 1004.8,1162.3 1005.3,1162.4 1005.8,1162.6 1006.3,1162.7 1006.8,1162.8 1007.3,1162.8 1007.8,1162.7 1008.3,1162.8 1008.8,1162.9 1009.3,1162.8 1009.8,1162.7 1010.3,1162.7 1010.8,1162.6 1011.3,1162.8 1011.8,1162.8 1012.3,1162.8 1012.8,1162.8 1013.3,1162.8 1013.8,1162.8 1014.3,1162.8 1014.8,1162.8 1015.3,1162.7 1015.8,1162.7 1016.3,1162.6 1016.8,1162.6 1017.3,1162.8 1017.8,1162.9 1018.3,1162.8 1018.8,1162.7 1019.3,1162.9 1019.8,1162.9 1020.3,1162.8 1020.8,1162.9 1021.3,1162.7 1021.8,1162.7 1022.3,1162.8 1022.8,1162.7 1023.3,1162.9 1023.8,1162.9 1024.3,1162.8 1024.8,1162.4 1025.3,1160.1 1025.8,1153.6 1026.3,1147.9 1026.4,1147.7 1026.8,1149.0 1027.3,1152.0 1027.8,1154.7 1028.3,1157.1 1028.8,1159.1 1029.3,1160.6 1029.8,1161.5 1030.3,1161.9 1030.8,1162.2 1031.3,1162.6 1031.8,1162.6 1032.3,1162.6 1032.8,1162.6 1033.3,1162.8 1033.8,1162.8 1034.3,1162.9 1034.8,1162.7 1035.3,1162.7 1035.8,1162.6 1036.3,1162.8 1036.8,1162.7 1037.3,1162.9 1037.8,1162.9 1038.3,1162.9 1038.8,1162.8 1039.3,1162.8 1039.8,1162.8 1040.3,1162.8 1040.8,1162.7 1041.3,1162.9 1041.8,1162.7 1042.3,1162.9 1042.8,1163.0 1043.3,1162.8 1043.8,1163.0 1044.3,1162.8 1044.8,1162.8 1045.3,1162.8 1045.8,1162.7 1046.3,1162.7 1046.8,1162.7 1047.3,1162.9 1047.8,1162.8 1048.3,1162.9 1048.8,1162.9 1049.3,1162.9 1049.8,1162.9 1050.3,1162.9 1050.8,1163.0 1051.3,1162.9 1051.8,1162.9 1052.3,1162.9 1052.8,1162.7 1053.3,1162.7 1053.8,1162.9 1054.3,1162.7 1054.8,1162.7 1055.3,1162.9 1055.8,1163.0 1056.3,1163.0 1056.8,1162.7 1057.3,1162.7 1057.8,1162.8 1058.3,1162.7 1058.8,1162.6 1059.3,1162.7 1059.8,1162.9 1060.3,1162.9 1060.8,1162.9 1061.3,1162.8 1061.8,1162.9 1062.3,1162.8 1062.8,1162.9 1063.3,1162.8 1063.8,1162.9 1064.3,1162.9 1064.8,1162.8 1065.3,1162.9 1065.8,1163.0 1066.3,1162.8 1066.8,1162.7 1067.3,1162.9 1067.8,1163.0 1068.3,1162.8 1068.8,1162.9 1069.3,1162.7 1069.8,1162.8 1070.3,1162.9 1070.8,1162.8 1071.3,1162.9 1071.8,1162.7 1072.3,1162.9 1072.8,1162.8 1073.3,1162.7 1073.8,1162.6 1074.3,1162.7 1074.8,1162.9 1075.3,1162.9 1075.8,1162.9 1076.3,1162.8 1076.8,1163.0 1077.3,1163.0 1077.8,1162.8 1078.3,1162.8 1078.8,1162.7 1079.3,1162.7 1079.8,1162.6 1080.3,1162.7 1080.8,1162.8 1081.3,1162.7 1081.8,1162.9 1082.3,1163.0 1082.8,1162.9 1083.3,1162.7 1083.8,1162.8 1084.3,1162.9 1084.8,1162.9 1085.3,1162.8 1085.8,1162.9 1086.3,1162.9 1086.8,1162.8 1087.3,1162.7 1087.8,1162.8 1088.3,1162.7 1088.8,1162.7 1089.3,1162.8 1089.8,1162.7 1090.3,1162.7 1090.8,1162.9 1091.3,1163.0 1091.8,1162.8 1092.3,1162.8 1092.8,1162.9 1093.3,1162.7 1093.8,1162.9 1094.3,1162.9 1094.8,1162.9 1095.3,1162.8 1095.8,1162.7 1096.3,1162.6 1096.8,1162.8 1097.3,1163.0 1097.8,1163.0 1098.3,1163.0 1098.8,1162.7 1099.3,1162.8 1099.8,1162.8 1100.3,1162.8 1100.8,1162.7 1101.3,1162.9 1101.8,1162.9 1102.3,1162.8 1102.8,1162.3 1103.3,1160.4 1103.8,1158.6 1104.0,1158.4 1104.3,1158.5 1104.8,1159.2 1105.3,1160.1 1105.8,1161.0 1106.3,1161.6 1106.8,1162.0 1107.3,1162.2 1107.8,1162.3 1108.3,1162.5 1108.8,1162.5 1109.3,1162.7 1109.8,1162.8 1110.3,1162.7 1110.8,1162.6 1111.3,1162.6 1111.8,1162.7 1112.3,1162.9 1112.8,1162.8 1113.3,1162.7 1113.8,1162.8 1114.3,1162.8 1114.8,1162.7 1115.3,1162.8 1115.8,1162.8 1116.3,1162.6 1116.8,1162.3 1117.3,1161.6 1117.8,1161.0 1118.0,1160.8 1118.3,1160.9 1118.8,1161.1 1119.3,1161.5 1119.8,1161.9 1120.3,1162.3 1120.8,1162.6 1121.3,1162.5 1121.8,1162.6 1122.3,1162.6 1122.8,1162.8 1123.3,1162.9 1123.8,1162.9 1124.3,1162.8 1124.8,1162.9 1125.3,1163.0 1125.8,1162.9 1126.3,1162.9 1126.8,1162.8 1127.3,1162.8 1127.8,1162.6 1128.3,1162.9 1128.8,1162.7 1129.3,1162.6 1129.8,1162.7 1130.3,1162.8 1130.8,1162.8 1131.3,1162.7 1131.8,1162.8 1132.3,1162.7 1132.8,1162.7 1133.3,1162.9 1133.8,1162.8 1134.3,1162.9 1134.8,1162.9 1135.3,1162.9 1135.8,1162.9 1136.3,1162.9 1136.8,1162.9 1137.3,1162.7 1137.8,1162.8 1138.3,1162.8 1138.8,1162.9 1139.3,1163.0 1139.8,1162.7 1140.3,1162.9 1140.8,1162.8 1141.3,1162.9 1141.8,1162.8 1142.3,1162.7 1142.8,1162.7 1143.3,1162.7 1143.8,1162.8 1144.3,1162.6 1144.8,1162.8 1145.3,1162.9 1145.8,1162.9 1146.3,1162.7 1146.8,1162.7 1147.3,1162.7 1147.8,1162.7 1148.3,1162.7 1148.8,1162.8 1149.3,1162.7 1149.8,1162.6 1150.3,1162.7 1150.8,1162.6 1151.3,1162.6 1151.8,1162.9 1152.3,1162.7 1152.8,1162.7 1153.3,1162.6 1153.8,1162.8 1154.3,1162.9 1154.8,1162.9 1155.3,1162.8 1155.8,1162.9 1156.3,1163.0 1156.8,1162.7 1157.3,1162.8 1157.8,1162.8 1158.3,1162.8 1158.8,1162.1 1159.3,1159.7 1159.8,1157.2 1160.0,1156.8 1160.3,1157.2 1160.8,1158.3 1161.3,1159.3 1161.8,1160.2 1162.3,1161.1 1162.8,1161.8 1163.3,1162.3 1163.8,1162.4 1164.3,1162.4 1164.8,1162.5 1165.3,1162.8 1165.8,1162.2 1166.3,1159.9 1166.8,1154.4 1167.3,1150.7 1167.8,1152.2 1168.3,1154.6 1168.8,1156.4 1169.3,1156.4 1169.8,1154.6 1170.2,1153.8 1170.3,1154.1 1170.8,1156.0 1171.3,1157.9 1171.8,1159.3 1172.3,1160.5 1172.8,1161.3 1173.3,1161.8 1173.8,1162.2 1174.3,1162.4 1174.8,1162.5 1175.3,1162.6 1175.8,1162.7 1176.3,1162.7 1176.8,1162.6 1177.3,1162.7 1177.8,1162.7 1178.3,1162.7 1178.8,1162.9 1179.3,1162.8 1179.8,1162.9 1180.3,1162.7 1180.8,1162.7 1181.3,1162.7 1181.8,1162.6 1182.3,1162.9 1182.8,1162.7 1183.3,1162.6 1183.8,1162.8 1184.3,1162.8 1184.8,1163.0 1185.3,1162.8 1185.8,1162.9 1186.3,1162.8 1186.8,1162.8 1187.3,1162.7 1187.8,1162.7 1188.3,1162.6 1188.8,1162.7 1189.3,1162.6 1189.8,1162.9 1190.3,1162.8 1190.8,1162.8 1191.3,1162.6 1191.8,1162.8 1192.3,1162.7 1192.8,1162.7 1193.3,1162.6 1193.8,1162.8 1194.3,1162.9 1194.8,1162.7 1195.3,1162.7 1195.8,1162.7 1196.3,1162.7 1196.8,1162.7 1197.3,1162.8 1197.8,1162.9 1198.3,1162.7 1198.8,1162.7 1199.3,1162.9 1199.8,1162.7 1200.3,1162.6 1200.8,1162.7 1201.3,1162.8 1201.8,1162.7 1202.3,1162.7 1202.8,1162.6 1203.3,1162.7 1203.8,1162.7 1204.3,1162.6 1204.8,1162.7 1205.3,1162.8 1205.8,1162.9 1206.3,1162.9 1206.8,1162.8 1207.3,1162.7 1207.8,1162.9 1208.3,1162.8 1208.8,1162.7 1209.3,1162.8 1209.8,1162.8 1210.3,1162.7 1210.8,1162.8 1211.3,1162.6 1211.8,1160.6 1212.3,1154.7 1212.8,1144.9 1213.3,1139.8 1213.8,1141.4 1214.3,1144.5 1214.8,1147.7 1215.3,1150.6 1215.8,1153.5 1216.3,1155.7 1216.8,1157.6 1217.3,1159.2 1217.8,1160.2 1218.3,1160.8 1218.8,1161.5 1219.3,1162.1 1219.8,1162.2 1220.3,1162.5 1220.8,1162.6 1221.3,1162.6 1221.8,1162.8 1222.3,1162.9 1222.8,1162.9 1223.3,1162.8 1223.8,1162.8 1224.3,1162.8 1224.8,1162.7 1225.3,1162.7 1225.8,1162.7 1226.3,1162.7 1226.8,1162.8 1227.3,1162.8 1227.8,1162.8 1228.3,1162.8 1228.8,1162.7 1229.3,1162.8 1229.8,1162.8 1230.3,1162.9 1230.8,1162.9 1231.3,1162.9 1231.8,1162.7 1232.3,1162.8 1232.8,1162.8 1233.3,1162.8 1233.8,1163.0 1234.3,1163.0 1234.8,1162.9 1235.3,1162.8 1235.8,1162.9 1236.3,1163.0 1236.8,1162.9 1237.3,1162.9 1237.8,1163.0 1238.3,1162.8 1238.8,1162.8 1239.3,1162.7 1239.8,1162.7 1240.3,1162.6 1240.8,1162.9 1241.3,1162.7 1241.8,1162.8 1242.3,1162.8 1242.8,1162.7 1243.3,1162.9 1243.8,1162.9 1244.3,1162.7 1244.8,1162.9 1245.3,1162.8 1245.8,1162.8 1246.3,1162.9 1246.8,1163.0 1247.3,1162.9 1247.8,1162.8 1248.3,1162.7 1248.8,1162.7 1249.3,1162.9 1249.8,1162.8 1250.3,1162.8 1250.8,1162.8 1251.3,1162.9 1251.8,1162.7 1252.3,1162.7 1252.8,1162.6 1253.3,1162.8 1253.8,1162.9 1254.3,1162.9 1254.8,1162.9 1255.3,1163.0 1255.8,1162.8 1256.3,1162.9 1256.8,1162.7 1257.3,1162.7 1257.8,1162.9 1258.3,1162.9 1258.8,1162.7 1259.3,1162.7 1259.8,1162.9 1260.3,1162.7 1260.8,1162.8 1261.3,1162.6 1261.8,1162.7 1262.3,1162.7 1262.8,1162.8 1263.3,1162.9 1263.8,1162.8 1264.3,1162.8 1264.8,1162.8 1265.3,1162.8 1265.8,1162.7 1266.3,1162.9 1266.8,1162.7 1267.3,1162.6 1267.8,1162.9 1268.3,1162.9 1268.8,1162.7 1269.3,1162.6 1269.8,1162.7 1270.3,1162.7 1270.8,1162.9 1271.3,1162.8 1271.8,1162.7 1272.3,1162.9 1272.8,1162.9 1273.3,1162.9 1273.8,1162.9 1274.3,1163.0 1274.8,1162.8 1275.3,1162.9 1275.8,1162.7 1276.3,1162.9 1276.8,1162.8 1277.3,1162.9 1277.8,1162.9 1278.3,1163.0 1278.8,1163.0 1279.3,1162.7 1279.8,1162.7 1280.3,1162.9 1280.8,1162.7 1281.3,1162.8 1281.8,1162.8 1282.3,1162.8 1282.8,1162.9 1283.3,1162.9 1283.8,1163.0 1284.3,1162.9 1284.8,1163.0 1285.3,1162.9 1285.8,1163.0 1286.3,1162.7 1286.8,1162.7 1287.3,1161.7 1287.8,1156.2 1288.3,1141.4 1288.8,1121.6 1289.2,1114.4 1289.3,1114.7 1289.8,1119.0 1290.3,1125.3 1290.8,1132.2 1291.3,1138.5 1291.8,1143.9 1292.3,1148.6 1292.8,1152.4 1293.3,1155.3 1293.8,1157.5 1294.3,1159.1 1294.8,1160.4 1295.3,1161.3 1295.8,1161.8 1296.3,1162.2 1296.8,1162.3 1297.3,1162.6 1297.8,1162.5 1298.3,1162.8 1298.8,1162.7 1299.3,1162.6 1299.8,1162.7 1300.3,1162.9 1300.8,1162.9 1301.3,1162.7 1301.8,1162.9 1302.3,1162.9 1302.8,1162.7 1303.3,1162.7 1303.8,1162.8 1304.3,1162.8 1304.8,1162.8 1305.3,1162.7 1305.8,1162.9 1306.3,1163.0 1306.8,1162.8 1307.3,1162.7 1307.8,1162.8 1308.3,1162.7 1308.8,1162.9 1309.3,1162.9 1309.8,1162.9 1310.3,1162.9 1310.8,1162.8 1311.3,1162.7 1311.8,1162.9 1312.3,1162.8 1312.8,1162.9 1313.3,1162.8 1313.8,1162.8 1314.3,1162.8 1314.8,1163.0 1315.3,1162.9 1315.8,1162.7 1316.3,1162.9 1316.8,1162.8 1317.3,1162.7 1317.8,1162.8 1318.3,1162.9 1318.8,1162.9 1319.3,1162.8 1319.8,1162.8 1320.3,1162.8 1320.8,1162.8 1321.3,1161.8 1321.8,1157.2 1322.3,1149.1 1322.7,1145.8 1322.8,1146.1 1323.3,1148.7 1323.8,1152.0 1324.3,1155.0 1324.8,1157.5 1325.3,1159.5 1325.8,1160.6 1326.3,1161.5 1326.8,1162.2 1327.3,1162.5 1327.8,1162.5 1328.3,1162.7 1328.8,1162.9 1329.3,1162.9 1329.8,1162.8 1330.3,1162.8 1330.8,1162.9 1331.3,1162.8 1331.8,1162.9 1332.3,1162.9 1332.8,1163.0 1333.3,1163.0 1333.8,1163.0 1334.3,1162.8 1334.8,1162.9 1335.3,1162.8 1335.8,1162.9 1336.3,1162.7 1336.8,1162.8 1337.3,1162.8 1337.8,1162.7 1338.3,1162.7 1338.8,1162.6 1339.3,1162.8 1339.8,1162.8 1340.3,1162.7 1340.8,1162.9 1341.3,1162.7 1341.8,1162.7 1342.3,1162.8 1342.8,1162.9 1343.3,1162.9 1343.8,1162.8 1344.3,1162.9 1344.8,1162.7 1345.3,1162.9 1345.8,1162.9 1346.3,1162.8 1346.8,1162.4 1347.3,1161.3 1347.8,1159.9 1348.0,1159.8 1348.3,1159.9 1348.8,1160.6 1349.3,1161.1 1349.8,1161.7 1350.3,1162.1 1350.8,1162.2 1351.3,1162.4 1351.8,1162.7 1352.3,1162.7 1352.8,1162.8 1353.3,1162.6 1353.8,1162.9 1354.3,1162.9 1354.8,1163.0 1355.3,1163.0 1355.8,1162.9 1356.3,1163.0 1356.8,1162.9 1357.3,1162.9 1357.8,1162.7 1358.3,1162.8 1358.8,1162.9 1359.3,1162.9 1359.8,1162.7 1360.3,1162.6 1360.8,1162.7 1361.3,1162.7 1361.8,1162.7 1362.3,1162.6 1362.8,1162.6 1363.3,1162.7 1363.8,1162.9 1364.3,1162.9 1364.8,1162.9 1365.3,1162.8 1365.8,1162.7 1366.3,1162.7 1366.8,1162.8 1367.3,1162.9 1367.8,1162.8 1368.3,1162.8 1368.8,1162.9 1369.3,1162.7 1369.8,1162.6 1370.3,1162.9 1370.8,1162.9 1371.3,1162.8 1371.8,1162.7 1372.3,1162.7 1372.8,1162.7 1373.3,1162.8 1373.8,1162.7 1374.3,1162.7 1374.8,1162.9 1375.3,1162.7 1375.8,1162.7 1376.3,1162.7 1376.8,1162.8 1377.3,1162.8 1377.8,1162.7 1378.3,1162.7 1378.8,1162.8 1379.3,1162.9 1379.8,1162.7 1380.3,1162.6 1380.8,1162.6 1381.3,1162.8 1381.8,1162.8 1382.3,1162.6 1382.8,1162.7 1383.3,1162.7 1383.8,1162.7 1384.3,1162.7 1384.8,1162.8 1385.3,1162.8 1385.8,1162.7 1386.3,1162.7 1386.8,1162.7 1387.3,1162.8 1387.8,1162.9 1388.3,1162.7 1388.8,1162.9 1389.3,1162.9 1389.8,1162.9 1390.3,1162.7 1390.8,1162.9 1391.3,1162.9 1391.8,1162.8 1392.3,1162.7 1392.8,1162.8 1393.3,1162.9 1393.8,1162.8 1394.3,1162.9 1394.8,1162.9 1395.3,1162.7 1395.8,1162.8 1396.3,1163.0 1396.8,1163.0 1397.3,1162.9 1397.8,1163.0 1398.3,1162.8 1398.8,1162.7 1399.3,1162.8 1399.8,1162.7 1400.3,1162.7 1400.8,1162.9 1401.3,1162.8 1401.8,1162.7 1402.3,1162.7 1402.8,1162.6 1403.3,1162.9 1403.8,1162.9 1404.3,1162.9 1404.8,1163.0 1405.3,1162.5 1405.8,1161.0 1406.3,1158.3 1406.7,1157.4 1406.8,1157.3 1407.3,1158.2 1407.8,1159.1 1408.3,1160.3 1408.8,1161.1 1409.3,1161.8 1409.8,1162.2 1410.3,1162.6 1410.8,1162.8 1411.3,1162.7 1411.8,1162.7 1412.3,1162.8 1412.8,1162.6 1413.3,1162.8 1413.8,1162.9 1414.3,1162.7 1414.8,1162.7 1415.3,1162.8 1415.8,1162.7 1416.3,1162.9 1416.8,1163.0 1417.3,1163.0 1417.8,1162.9 1418.3,1162.8 1418.8,1162.8 1419.3,1162.8 1419.8,1162.7 1420.3,1162.7 1420.8,1162.9 1421.3,1162.8 1421.8,1162.9 1422.3,1162.8 1422.8,1162.8 1423.3,1162.8 1423.8,1162.8 1424.3,1162.8 1424.8,1162.9 1425.3,1162.9 1425.8,1162.9 1426.3,1163.0 1426.8,1162.8 1427.3,1162.7 1427.8,1162.7 1428.3,1162.8 1428.8,1162.8 1429.3,1162.7 1429.8,1162.7 1430.3,1162.9 1430.8,1162.8 1431.3,1162.9 1431.8,1162.8 1432.3,1162.8 1432.8,1162.9 1433.3,1162.8 1433.8,1162.7 1434.3,1162.7 1434.8,1162.9 1435.3,1162.9 1435.8,1162.8 1436.3,1162.9 1436.8,1162.8 1437.3,1162.6 1437.8,1162.8 1438.3,1162.7 1438.8,1162.7 1439.3,1162.7 1439.8,1162.6 1440.3,1162.7 1440.8,1162.8 1441.3,1162.7 1441.8,1162.8 1442.3,1162.9 1442.8,1162.7 1443.3,1162.6 1443.8,1162.6 1444.3,1162.6 1444.8,1162.8 1445.3,1162.9 1445.8,1163.0 1446.3,1162.8 1446.8,1162.8 1447.3,1162.8 1447.8,1162.8 1448.3,1162.9 1448.8,1162.8 1449.3,1162.8 1449.8,1162.7 1450.3,1162.7 1450.8,1162.7 1451.3,1162.8 1451.8,1162.9 1452.3,1162.9 1452.8,1162.9 1453.3,1163.0 1453.8,1162.9 1454.3,1162.7 1454.8,1162.8 1455.3,1162.9 1455.8,1162.9 1456.3,1163.0 1456.8,1162.8 1457.3,1162.9 1457.8,1163.0 1458.3,1162.8 1458.8,1162.8 1459.3,1162.8 1459.8,1162.9 1460.3,1162.9 1460.8,1162.9 1461.3,1163.0 1461.8,1162.8 1462.3,1162.9 1462.8,1162.9 1463.3,1162.7 1463.8,1162.8 1464.3,1162.9 1464.8,1162.8 1465.3,1162.7 1465.8,1162.9 1466.3,1163.0 1466.8,1163.0 1467.3,1163.0 1467.8,1163.0 1468.3,1162.8 1468.8,1162.7 1469.3,1162.6 1469.8,1162.3 1470.3,1160.6 1470.8,1158.6 1471.0,1158.3 1471.3,1158.5 1471.8,1159.3 1472.3,1160.2 1472.8,1161.0 1473.3,1161.5 1473.8,1162.2 1474.3,1162.3 1474.8,1162.5 1475.3,1162.8 1475.8,1162.9 1476.3,1162.9 1476.8,1162.7 1477.3,1162.7 1477.8,1162.9 1478.3,1162.7 1478.8,1162.8 1479.3,1163.0 1479.8,1162.7 1480.3,1162.6 1480.8,1162.8 1481.3,1162.7 1481.8,1162.7 1482.3,1162.6 1482.8,1162.6 1483.3,1162.9 1483.8,1162.9 1484.3,1162.9 1484.8,1163.0 1485.3,1162.7 1485.8,1162.7 1486.3,1162.9 1486.8,1162.9 1487.3,1163.0 1487.8,1162.8 1488.3,1162.7 1488.8,1162.9 1489.3,1162.9 1489.8,1162.9 1490.3,1162.9 1490.8,1162.8 1491.3,1162.8 1491.8,1162.8 1492.3,1162.6 1492.8,1162.8 1493.3,1162.9 1493.8,1162.9 1494.3,1162.8 1494.8,1162.8 1495.3,1162.8 1495.8,1162.8 1496.3,1162.8 1496.8,1163.0 1497.3,1162.8 1497.8,1162.8 1498.3,1163.0 1498.8,1162.8 1499.3,1162.6 1499.8,1162.9 1500.3,1162.9 1500.8,1162.8 1501.3,1162.7 1501.8,1162.7 1502.3,1162.8 1502.8,1162.8 1503.3,1162.8 1503.8,1162.8 1504.3,1162.9 1504.8,1162.7 1505.3,1162.7 1505.8,1162.8 1506.3,1162.7 1506.8,1162.6 1507.3,1162.7 1507.8,1162.7 1508.3,1162.7 1508.8,1162.9 1509.3,1162.9 1509.8,1162.9 1510.3,1162.8 1510.8,1162.8 1511.3,1162.7 1511.8,1162.9 1512.3,1162.8 1512.8,1162.7 1513.3,1162.8 1513.8,1162.8 1514.3,1162.6 1514.8,1162.7 1515.3,1162.9 1515.8,1163.0 1516.3,1163.0 1516.8,1162.9 1517.3,1162.8 1517.8,1162.8 1518.3,1162.7 1518.8,1162.8 1519.3,1162.8 1519.8,1162.7 1520.3,1162.7 1520.8,1162.8 1521.3,1162.9 1521.8,1162.9 1522.3,1162.8 1522.8,1162.7 1523.3,1162.9 1523.8,1162.8 1524.3,1162.6 1524.8,1162.8 1525.3,1162.9 1525.8,1162.9 1526.3,1162.9 1526.8,1163.0 1527.3,1162.8 1527.8,1162.7 1528.3,1162.9 1528.8,1162.8 1529.3,1162.7 1529.8,1162.7 1530.3,1162.9 1530.8,1162.7 1531.3,1162.7 1531.8,1162.7 1532.3,1162.9 1532.8,1162.9 1533.3,1163.0 1533.8,1163.0 1534.3,1162.9 1534.8,1162.7 1535.3,1162.8 1535.8,1162.7 1536.3,1162.7 1536.8,1162.7 1537.3,1162.9 1537.8,1162.7 1538.3,1162.6 1538.8,1162.7 1539.3,1162.9 1539.8,1162.7 1540.3,1162.8 1540.8,1162.8 1541.3,1162.8 1541.8,1162.7 1542.3,1162.9 1542.8,1162.7 1543.3,1162.7 1543.8,1162.6 1544.3,1162.8 1544.8,1163.0 1545.3,1162.8 1545.8,1162.9 1546.3,1163.0 1546.8,1162.7 1547.3,1162.7 1547.8,1162.6 1548.3,1162.6 1548.8,1162.7 1549.3,1162.9 1549.8,1162.7 1550.3,1162.8 1550.8,1162.8 1551.3,1162.8 1551.8,1162.8 1552.3,1162.8 1552.8,1162.8 1553.3,1162.7 1553.8,1162.8 1554.3,1162.8 1554.8,1162.8 1555.3,1162.8 1555.8,1162.8 1556.3,1162.9 1556.8,1162.9 1557.3,1162.9 1557.8,1162.7 1558.3,1162.7 1558.8,1162.9 1559.3,1162.9 1559.8,1163.0 1560.3,1162.7 1560.8,1162.6 1561.3,1162.8 1561.8,1162.7 1562.3,1162.8 1562.8,1162.8 1563.3,1162.6 1563.8,1162.6 1564.3,1162.7 1564.8,1162.9 1565.3,1162.9 1565.8,1163.0 1566.3,1163.0 1566.8,1163.0 1567.3,1162.9 1567.8,1162.9 1568.3,1162.8 1568.8,1162.9 1569.3,1163.0 1569.8,1162.7 1570.3,1162.9 1570.8,1162.9 1571.3,1162.8 1571.8,1162.7 1572.3,1162.6 1572.8,1162.8 1573.3,1162.7 1573.8,1162.8 1574.3,1162.7 1574.8,1162.7 1575.3,1162.9 1575.8,1162.7 1576.3,1162.7 1576.8,1162.7 1577.3,1162.8 1577.8,1162.9 1578.3,1162.9 1578.8,1162.8 1579.3,1162.9 1579.8,1162.9 1580.3,1163.0 1580.8,1162.8 1581.3,1162.9 1581.8,1162.8 1582.3,1162.7 1582.8,1162.8 1583.3,1162.7 1583.8,1162.8 1584.3,1162.8 1584.8,1162.8 1585.3,1162.9 1585.8,1162.8 1586.3,1162.8 1586.8,1162.6 1587.3,1162.6 1587.8,1162.7 1588.3,1162.8 1588.8,1162.8 1589.3,1162.7 1589.8,1162.9 1590.3,1162.7 1590.8,1162.6 1591.3,1162.6 1591.8,1162.9 1592.3,1163.0 1592.8,1162.9 1593.3,1162.7 1593.8,1162.6 1594.3,1162.8 1594.8,1162.9 1595.3,1162.7 1595.8,1162.7 1596.3,1162.6 1596.8,1162.8 1597.3,1162.7 1597.8,1162.8 1598.3,1162.8 1598.8,1162.8 1599.3,1162.8 1599.8,1162.7 1600.3,1162.8 1600.8,1162.8 1601.3,1162.7 1601.8,1162.7 1602.3,1162.8 1602.8,1162.7 1603.3,1162.8 1603.8,1162.7 1604.3,1162.7 1604.8,1162.6 1605.3,1162.9 1605.8,1162.9 1606.3,1162.9 1606.8,1162.8 1607.3,1162.7 1607.8,1162.6 1608.3,1162.7 1608.8,1162.9 1609.3,1162.7 1609.8,1162.8 1610.3,1163.0 1610.8,1163.0 1611.3,1162.8 1611.8,1162.9 1612.3,1162.7 1612.8,1162.9 1613.3,1162.8 1613.8,1162.9 1614.3,1162.9 1614.8,1162.8 1615.3,1162.9 1615.8,1163.0 1616.3,1162.9 1616.8,1162.9 1617.3,1162.9 1617.8,1162.9 1618.3,1162.9 1618.8,1162.9 1619.3,1162.7 1619.8,1162.9 1620.3,1163.0 1620.8,1162.8 1621.3,1163.0 1621.8,1162.9 1622.3,1162.8 1622.8,1162.7 1623.3,1162.7 1623.8,1162.7 1624.3,1162.7 1624.8,1162.8 1625.3,1162.7 1625.8,1162.7 1626.3,1162.7 1626.8,1162.7 1627.3,1162.8 1627.8,1162.9 1628.3,1163.0 1628.8,1162.9 1629.3,1163.0 1629.8,1162.8 1630.3,1162.9 1630.8,1162.9 1631.3,1163.0 1631.8,1163.0 1632.3,1162.7 1632.8,1162.7 1633.3,1162.7 1633.8,1162.8 1634.3,1162.9 1634.8,1162.9 1635.3,1163.0 1635.8,1162.7 1636.3,1162.7 1636.8,1162.6 1637.3,1162.6 1637.8,1162.6 1638.3,1162.9 1638.8,1162.8 1639.3,1162.8 1639.8,1162.8 1640.3,1162.9 1640.8,1162.8 1641.3,1162.8 1641.8,1162.9 1642.3,1162.7 1642.8,1162.8 1643.3,1162.9 1643.8,1162.9 1644.3,1162.7 1644.8,1162.7 1645.3,1162.7 1645.8,1162.8 1646.3,1162.8 1646.8,1162.8 1647.3,1162.8 1647.8,1162.9 1648.3,1162.7 1648.8,1162.8 1649.3,1162.6 1649.8,1162.8 1650.3,1162.9 1650.8,1163.0 1651.3,1162.9 1651.8,1162.7 1652.3,1162.7 1652.8,1162.7 1653.3,1162.8 1653.8,1162.7 1654.3,1162.9 1654.8,1162.7 1655.3,1162.9 1655.8,1162.9 1656.3,1162.7 1656.8,1162.7 1657.3,1162.9 1657.8,1162.8 1658.3,1162.8 1658.8,1162.8 1659.3,1162.7 1659.8,1162.6 1660.3,1162.8 1660.8,1162.8 1661.3,1162.8 1661.8,1162.8 1662.3,1162.9 1662.8,1162.7 1663.3,1162.7 1663.8,1162.6 1664.3,1162.7 1664.8,1162.9 1665.3,1162.8 1665.8,1163.0 1666.3,1162.7"/>
<polyline fill="#d9541c" stroke="#d9541c" stroke-width="4.2" stroke-linejoin="bevel" points="90.3,1162.9 90.8,1162.7 91.3,1162.6 91.8,1163.6 92.3,1163.3 92.8,1163.4 93.3,1163.3 93.8,1163.8 94.3,1163.9 94.8,1163.6 95.3,1163.8 95.8,1163.5 96.3,1164.0 96.8,1164.1 97.3,1163.4 97.8,1163.4 98.3,1163.4 98.8,1163.1 99.3,1163.4 99.8,1163.9 100.3,1163.2 100.8,1163.2 101.3,1163.1 101.8,1163.1 102.3,1162.7 102.8,1163.3 103.3,1163.0 103.8,1163.4 104.3,1163.3 104.8,1163.1 105.3,1163.5 105.8,1163.9 106.3,1163.6 106.8,1163.2 107.3,1163.2 107.8,1163.4 108.3,1163.2 108.8,1163.7 109.3,1163.8 109.8,1163.7 110.3,1163.1 110.8,1163.6 111.3,1163.9 111.8,1164.0 112.3,1164.1 112.8,1163.9 113.3,1163.5 113.8,1163.0 114.3,1163.4 114.8,1163.5 115.3,1163.7 115.8,1163.7 116.3,1163.1 116.8,1163.2 117.3,1163.6 117.8,1163.9 118.3,1163.2 118.8,1163.1 119.3,1162.9 119.8,1163.5 120.3,1163.3 120.8,1162.9 121.3,1163.1 121.8,1162.7 122.3,1163.5 122.8,1162.9 123.3,1163.7 123.8,1163.6 124.3,1164.0 124.8,1163.2 125.3,1163.1 125.8,1162.7 126.3,1162.8 126.8,1162.6 127.3,1163.0 127.8,1162.7 128.3,1162.8 128.8,1163.3 129.3,1162.8 129.8,1163.3 130.3,1163.7 130.8,1164.0 131.3,1163.6 131.8,1163.8 132.3,1163.0 132.8,1162.7 133.3,1163.5 133.8,1163.9 134.3,1163.5 134.8,1163.8 135.3,1163.5 135.8,1163.0 136.3,1163.5 136.8,1163.5 137.3,1162.9 137.8,1163.3 138.3,1163.5 138.8,1162.9 139.3,1162.8 139.8,1162.7 140.3,1162.9 140.8,1163.3 141.3,1163.1 141.8,1162.9 142.3,1163.0 142.8,1163.5 143.3,1163.7 143.8,1163.6 144.3,1163.1 144.8,1163.2 145.3,1163.2 145.8,1162.9 146.3,1163.7 146.8,1163.3 147.3,1163.5 147.8,1163.3 148.3,1163.0 148.8,1163.5 149.3,1162.9 149.8,1163.7 150.3,1163.4 150.8,1163.3 151.3,1163.6 151.8,1163.4 152.3,1163.4 152.8,1163.4 153.3,1163.1 153.8,1163.9 154.3,1163.7 154.8,1163.1 155.3,1163.7 155.8,1163.0 156.3,1163.6 156.8,1163.2 157.3,1163.7 157.8,1163.5 158.3,1163.5 158.8,1163.9 159.3,1163.3 159.8,1163.3 160.3,1163.0 160.8,1162.9 161.3,1162.6 161.8,1162.3 162.3,1162.3 162.8,1161.5 163.0,1162.2 163.3,1161.6 163.8,1161.6 164.3,1162.3 164.8,1162.4 165.3,1162.7 165.8,1163.0 166.3,1163.5 166.8,1163.6 167.3,1163.6 167.8,1163.7 168.3,1162.9 168.8,1163.4 169.3,1163.5 169.8,1163.5 170.3,1163.0 170.8,1163.3 171.3,1163.3 171.8,1163.6 172.3,1163.7 172.8,1164.0 173.3,1163.9 173.8,1163.8 174.3,1163.1 174.8,1163.3 175.3,1163.8 175.8,1163.5 176.3,1163.9 176.8,1163.5 177.3,1163.5 177.8,1163.0 178.3,1163.5 178.8,1162.9 179.3,1163.2 179.8,1162.1 180.3,1161.4 180.8,1160.8 181.3,1158.5 181.8,1157.3 182.3,1156.3 182.6,1156.3 182.8,1155.7 183.3,1156.7 183.8,1157.0 184.3,1158.2 184.8,1159.1 185.3,1160.6 185.8,1161.9 186.3,1161.8 186.8,1162.3 187.3,1163.2 187.8,1162.7 188.3,1162.6 188.8,1163.4 189.3,1163.9 189.8,1163.4 190.3,1163.8 190.8,1163.2 191.3,1163.3 191.8,1163.1 192.3,1163.2 192.8,1163.0 193.3,1162.8 193.8,1163.1 194.3,1163.1 194.8,1163.5 195.3,1163.8 195.8,1164.0 196.3,1163.2 196.8,1163.6 197.3,1163.5 197.8,1163.6 198.3,1163.3 198.8,1163.3 199.3,1162.9 199.8,1163.3 200.3,1163.5 200.8,1163.2 201.3,1163.0 201.8,1162.7 202.3,1163.4 202.8,1162.9 203.3,1162.6 203.8,1162.5 204.3,1163.5 204.8,1163.5 205.3,1163.1 205.8,1162.9 206.3,1163.7 206.8,1163.6 207.3,1163.2 207.8,1163.0 208.3,1163.2 208.8,1163.6 209.3,1163.6 209.8,1163.9 210.3,1163.8 210.8,1163.6 211.3,1163.1 211.8,1163.1 212.3,1163.4 212.8,1163.7 213.3,1163.7 213.8,1163.3 214.3,1163.4 214.8,1163.7 215.3,1163.1 215.8,1163.2 216.3,1162.7 216.8,1163.1 217.3,1163.1 217.8,1163.4 218.3,1163.2 218.8,1162.8 219.3,1162.6 219.8,1162.9 220.3,1163.3 220.8,1163.8 221.3,1163.1 221.8,1163.4 222.3,1163.5 222.8,1163.9 223.3,1164.1 223.8,1163.7 224.3,1162.9 224.8,1162.9 225.3,1163.0 225.8,1163.0 226.3,1163.5 226.8,1163.8 227.3,1163.4 227.8,1163.9 228.3,1163.4 228.8,1163.4 229.3,1163.3 229.8,1163.8 230.3,1164.0 230.8,1163.6 231.3,1163.9 231.8,1163.4 232.3,1163.6 232.8,1163.3 233.3,1163.0 233.8,1163.1 234.3,1163.2 234.8,1163.7 235.3,1163.6 235.8,1162.9 236.3,1163.5 236.8,1163.6 237.3,1163.5 237.8,1163.3 238.3,1163.0 238.8,1163.5 239.3,1162.9 239.8,1163.7 240.3,1163.1 240.8,1163.2 241.3,1162.8 241.8,1163.6 242.3,1163.2 242.8,1162.8 243.3,1163.0 243.8,1163.7 244.3,1163.0 244.8,1162.7 245.3,1163.6 245.8,1163.0 246.3,1163.7 246.8,1163.9 247.3,1163.0 247.8,1162.3 248.3,1161.1 248.8,1160.0 249.3,1158.6 249.8,1157.5 250.3,1156.2 250.8,1155.0 251.3,1155.0 251.7,1154.8 251.8,1155.5 252.3,1155.2 252.8,1155.4 253.3,1157.0 253.8,1157.6 254.3,1159.7 254.8,1161.4 255.3,1162.8 255.8,1162.9 256.3,1163.6 256.8,1162.9 257.3,1163.8 257.8,1163.1 258.3,1163.0 258.8,1163.1 259.3,1163.2 259.8,1162.9 260.3,1163.0 260.8,1163.7 261.3,1163.1 261.8,1163.4 262.3,1163.3 262.8,1163.3 263.3,1162.9 263.8,1163.3 264.3,1162.9 264.8,1163.7 265.3,1163.7 265.8,1163.3 266.3,1163.2 266.8,1162.9 267.3,1163.5 267.8,1163.1 268.3,1162.9 268.8,1163.6 269.3,1163.9 269.8,1163.4 270.3,1162.8 270.8,1163.0 271.3,1163.3 271.8,1163.3 272.3,1163.0 272.8,1163.2 273.3,1163.3 273.8,1163.2 274.3,1162.8 274.8,1162.8 275.3,1162.8 275.8,1163.4 276.3,1163.3 276.8,1162.9 277.3,1163.0 277.8,1162.7 278.3,1162.6 278.8,1163.5 279.3,1163.4 279.8,1163.5 280.3,1163.8 280.8,1163.5 281.3,1162.8 281.8,1162.9 282.3,1163.6 282.8,1163.7 283.3,1163.6 283.8,1163.0 284.3,1163.3 284.8,1163.7 285.3,1163.4 285.8,1163.7 286.3,1164.0 286.8,1163.5 287.3,1162.8 287.8,1162.8 288.3,1162.9 288.8,1163.6 289.3,1163.4 289.8,1163.2 290.3,1163.0 290.8,1163.3 291.3,1163.9 291.8,1163.0 292.3,1163.5 292.8,1163.1 293.3,1163.3 293.8,1163.0 294.3,1163.4 294.8,1163.9 295.3,1163.6 295.8,1163.5 296.3,1163.0 296.8,1163.4 297.3,1163.2 297.8,1163.4 298.3,1163.1 298.8,1163.6 299.3,1163.0 299.8,1162.7 300.3,1163.7 300.8,1163.0 301.3,1162.9 301.8,1163.0 302.3,1163.7 302.8,1163.2 303.3,1163.0 303.8,1163.1 304.3,1162.7 304.8,1162.6 305.3,1162.9 305.8,1162.7 306.3,1163.5 306.8,1163.7 307.3,1163.4 307.8,1163.3 308.3,1162.8 308.8,1163.0 309.3,1163.1 309.8,1163.1 310.3,1162.7 310.8,1163.3 311.3,1163.0 311.8,1163.1 312.3,1163.4 312.8,1163.6 313.3,1163.8 313.8,1164.1 314.3,1163.8 314.8,1163.7 315.3,1164.0 315.8,1163.6 316.3,1163.6 316.8,1162.9 317.3,1162.9 317.8,1163.0 318.3,1162.8 318.8,1163.4 319.3,1163.8 319.8,1163.4 320.3,1163.7 320.8,1162.9 321.3,1163.3 321.8,1162.9 322.3,1163.5 322.8,1163.9 323.3,1163.4 323.8,1163.1 324.3,1163.6 324.8,1162.9 325.3,1162.6 325.8,1162.9 326.3,1162.6 326.8,1162.5 327.3,1163.5 327.8,1163.1 328.3,1163.0 328.8,1163.0 329.3,1163.4 329.8,1163.3 330.3,1163.2 330.8,1162.9 331.3,1163.7 331.8,1163.6 332.3,1163.7 332.8,1163.1 333.3,1163.7 333.8,1164.0 334.3,1164.0 334.8,1164.0 335.3,1163.7 335.8,1163.0 336.3,1163.4 336.8,1163.8 337.3,1163.3 337.8,1163.5 338.3,1163.3 338.8,1163.1 339.3,1163.3 339.8,1163.1 340.3,1163.1 340.8,1162.9 341.3,1162.9 341.8,1162.7 342.3,1162.8 342.8,1163.4 343.3,1163.4 343.8,1163.0 344.3,1162.9 344.8,1162.9 345.3,1162.8 345.8,1162.8 346.3,1163.1 346.8,1163.1 347.3,1163.8 347.8,1163.5 348.3,1163.1 348.8,1162.8 349.3,1162.7 349.8,1163.2 350.3,1163.6 350.8,1163.0 351.3,1163.0 351.8,1163.6 352.3,1164.0 352.8,1163.1 353.3,1163.2 353.8,1163.7 354.3,1162.9 354.8,1163.1 355.3,1163.0 355.8,1162.9 356.3,1163.5 356.8,1163.4 357.3,1163.7 357.8,1163.4 358.3,1163.4 358.8,1163.0 359.3,1163.7 359.8,1163.8 360.3,1163.6 360.8,1164.0 361.3,1163.7 361.8,1162.9 362.3,1162.8 362.8,1163.5 363.3,1163.0 363.8,1163.6 364.3,1163.7 364.8,1163.3 365.3,1163.6 365.8,1163.8 366.3,1164.0 366.8,1164.0 367.3,1163.9 367.8,1163.1 368.3,1163.8 368.8,1163.5 369.3,1163.7 369.8,1163.2 370.3,1163.9 370.8,1163.7 371.3,1163.2 371.8,1163.8 372.3,1163.6 372.8,1163.7 373.3,1163.5 373.8,1163.2 374.3,1163.8 374.8,1163.1 375.3,1163.5 375.8,1163.1 376.3,1163.7 376.8,1163.9 377.3,1163.9 377.8,1164.0 378.3,1163.9 378.8,1164.0 379.3,1164.0 379.8,1163.2 380.3,1163.3 380.8,1163.3 381.3,1163.3 381.8,1163.0 382.3,1163.8 382.8,1164.0 383.3,1163.4 383.8,1163.9 384.3,1163.6 384.8,1163.3 385.3,1162.9 385.8,1163.8 386.3,1163.6 386.8,1163.7 387.3,1163.4 387.8,1163.9 388.3,1163.2 388.8,1162.8 389.3,1163.1 389.8,1163.1 390.3,1162.9 390.8,1162.8 391.3,1162.8 391.8,1163.2 392.3,1163.8 392.8,1163.2 393.3,1162.9 393.8,1162.9 394.3,1163.4 394.8,1162.8 395.3,1163.0 395.8,1163.5 396.3,1163.1 396.8,1163.6 397.3,1163.7 397.8,1163.0 398.3,1163.8 398.8,1163.1 399.3,1163.4 399.8,1163.3 400.3,1163.1 400.8,1162.8 401.3,1163.5 401.8,1163.9 402.3,1163.5 402.8,1163.7 403.3,1163.6 403.8,1163.9 404.3,1164.0 404.8,1163.5 405.3,1163.9 405.8,1163.8 406.3,1163.6 406.8,1163.9 407.3,1163.2 407.8,1162.8 408.3,1163.7 408.8,1163.1 409.3,1163.6 409.8,1163.2 410.3,1163.8 410.8,1163.2 411.3,1162.8 411.8,1163.4 412.3,1163.8 412.8,1163.7 413.3,1163.0 413.8,1162.9 414.3,1163.6 414.8,1163.0 415.3,1162.9 415.8,1162.7 416.3,1162.6 416.8,1163.5 417.3,1163.1 417.8,1163.8 418.3,1163.9 418.8,1163.5 419.3,1163.7 419.8,1163.8 420.3,1163.7 420.8,1163.5 421.3,1162.9 421.8,1163.1 422.3,1163.2 422.8,1163.0 423.3,1163.6 423.8,1163.1 424.3,1162.9 424.8,1162.8 425.3,1163.2 425.8,1163.3 426.3,1163.8 426.8,1163.6 427.3,1163.3 427.8,1162.8 428.3,1162.7 428.8,1163.3 429.3,1163.0 429.8,1162.8 430.3,1162.6 430.8,1162.9 431.3,1163.4 431.8,1162.9 432.3,1163.8 432.8,1163.4 433.3,1163.4 433.8,1162.9 434.3,1163.1 434.8,1163.6 435.3,1163.8 435.8,1164.1 436.3,1163.3 436.8,1163.0 437.3,1163.4 437.8,1163.7 438.3,1163.4 438.8,1163.7 439.3,1163.4 439.8,1163.6 440.3,1163.6 440.8,1163.2 441.3,1163.6 441.8,1163.6 442.3,1163.4 442.8,1162.8 443.3,1163.6 443.8,1163.7 444.3,1163.7 444.8,1163.7 445.3,1163.5 445.8,1163.0 446.3,1163.6 446.8,1163.2 447.3,1163.4 447.8,1163.3 448.3,1163.3 448.8,1163.2 449.3,1163.7 449.8,1163.3 450.3,1163.5 450.8,1163.1 451.3,1163.1 451.8,1163.4 452.3,1162.8 452.8,1163.5 453.3,1164.0 453.8,1164.0 454.3,1163.4 454.8,1163.8 455.3,1163.2 455.8,1163.8 456.3,1163.7 456.8,1163.3 457.3,1163.9 457.8,1163.6 458.3,1162.9 458.8,1162.9 459.3,1163.3 459.8,1162.9 460.3,1163.1 460.8,1162.9 461.3,1163.4 461.8,1163.5 462.3,1163.2 462.8,1163.0 463.3,1163.0 463.8,1163.6 464.3,1163.5 464.8,1163.6 465.3,1163.8 465.8,1163.9 466.3,1163.3 466.8,1163.7 467.3,1163.7 467.8,1164.0 468.3,1163.3 468.8,1163.2 469.3,1163.8 469.8,1163.0 470.3,1162.6 470.8,1162.8 471.3,1162.8 471.8,1162.9 472.3,1163.8 472.8,1163.8 473.3,1163.8 473.8,1164.1 474.3,1163.4 474.8,1163.3 475.3,1163.5 475.8,1163.1 476.3,1163.6 476.8,1163.7 477.3,1163.9 477.8,1163.9 478.3,1163.1 478.8,1163.3 479.3,1163.0 479.8,1162.8 480.3,1163.0 480.8,1163.4 481.3,1162.8 481.8,1163.7 482.3,1163.6 482.8,1163.0 483.3,1163.0 483.8,1163.4 484.3,1163.0 484.8,1162.9 485.3,1162.9 485.8,1163.5 486.3,1163.2 486.8,1163.1 487.3,1162.9 487.8,1163.2 488.3,1162.8 488.8,1162.9 489.3,1163.5 489.8,1163.3 490.3,1163.7 490.8,1163.3 491.3,1163.5 491.8,1162.8 492.3,1163.4 492.8,1163.0 493.3,1162.8 493.8,1163.3 494.3,1163.2 494.8,1163.6 495.3,1163.6 495.8,1163.5 496.3,1163.2 496.8,1163.3 497.3,1163.7 497.8,1163.3 498.3,1163.3 498.8,1163.3 499.3,1163.4 499.8,1162.9 500.3,1163.0 500.8,1163.0 501.3,1163.2 501.8,1163.4 502.3,1163.5 502.8,1163.2 503.3,1163.4 503.8,1163.9 504.3,1163.9 504.8,1164.0 505.3,1164.1 505.8,1163.8 506.3,1163.6 506.8,1163.5 507.3,1163.8 507.8,1163.8 508.3,1163.6 508.8,1163.7 509.3,1163.7 509.8,1163.5 510.3,1163.1 510.8,1163.8 511.3,1164.1 511.8,1163.7 512.3,1163.0 512.8,1163.1 513.3,1163.4 513.8,1162.8 514.3,1163.0 514.8,1162.8 515.3,1162.8 515.8,1163.7 516.3,1163.8 516.8,1163.2 517.3,1163.4 517.8,1162.9 518.3,1163.7 518.8,1163.0 519.3,1163.1 519.8,1163.4 520.3,1163.0 520.8,1163.2 521.3,1163.3 521.8,1163.7 522.3,1163.1 522.8,1163.7 523.3,1163.7 523.8,1164.0 524.3,1164.1 524.8,1163.9 525.3,1164.1 525.8,1163.6 526.3,1163.6 526.8,1164.0 527.3,1163.6 527.8,1163.7 528.3,1163.8 528.8,1163.5 529.3,1163.6 529.8,1164.0 530.3,1163.1 530.8,1162.7 531.3,1163.4 531.8,1163.2 532.3,1163.2 532.8,1163.6 533.3,1163.4 533.8,1163.6 534.3,1163.7 534.8,1163.5 535.3,1163.9 535.8,1163.9 536.3,1163.0 536.8,1162.9 537.3,1163.4 537.8,1162.8 538.3,1163.4 538.8,1162.9 539.3,1163.4 539.8,1162.9 540.3,1163.3 540.8,1162.9 541.3,1163.6 541.8,1163.6 542.3,1163.6 542.8,1163.1 543.3,1162.8 543.8,1163.6 544.3,1163.5 544.8,1163.8 545.3,1164.0 545.8,1164.0 546.3,1164.1 546.8,1163.8 547.3,1163.6 547.8,1163.0 548.3,1163.0 548.8,1162.9 549.3,1163.4 549.8,1163.6 550.3,1163.5 550.8,1163.7 551.3,1164.0 551.8,1163.9 552.3,1163.0 552.8,1163.8 553.3,1163.5 553.8,1163.7 554.3,1163.2 554.8,1163.8 555.3,1163.5 555.8,1163.1 556.3,1163.3 556.8,1163.8 557.3,1163.0 557.8,1163.8 558.3,1163.0 558.8,1162.9 559.3,1162.7 559.8,1162.7 560.3,1163.3 560.8,1163.2 561.3,1163.3 561.8,1163.2 562.3,1163.5 562.8,1163.0 563.3,1163.4 563.8,1163.3 564.3,1163.8 564.8,1164.0 565.3,1163.1 565.8,1163.4 566.3,1163.5 566.8,1162.8 567.3,1162.9 567.8,1163.6 568.3,1163.4 568.8,1163.4 569.3,1163.2 569.8,1163.6 570.3,1163.7 570.8,1162.9 571.3,1163.1 571.8,1163.2 572.3,1163.1 572.8,1163.0 573.3,1163.6 573.8,1163.1 574.3,1163.3 574.8,1163.7 575.3,1163.7 575.8,1162.9 576.3,1162.8 576.8,1162.7 577.3,1163.1 577.8,1163.1 578.3,1163.4 578.8,1163.1 579.3,1163.2 579.8,1163.5 580.3,1162.8 580.8,1163.2 581.3,1163.8 581.8,1163.1 582.3,1163.8 582.8,1163.7 583.3,1163.5 583.8,1163.8 584.3,1163.6 584.8,1163.5 585.3,1163.4 585.8,1163.2 586.3,1163.1 586.8,1163.8 587.3,1163.8 587.8,1164.0 588.3,1163.8 588.8,1163.5 589.3,1163.0 589.8,1163.8 590.3,1163.1 590.8,1163.7 591.3,1163.2 591.8,1162.9 592.3,1162.6 592.8,1163.0 593.3,1163.7 593.8,1163.7 594.3,1163.6 594.8,1163.2 595.3,1162.8 595.8,1162.7 596.3,1163.6 596.8,1163.9 597.3,1163.4 597.8,1163.7 598.3,1163.4 598.8,1163.3 599.3,1163.3 599.8,1163.5 600.3,1162.9 600.8,1163.4 601.3,1163.5 601.8,1163.8 602.3,1163.8 602.8,1163.9 603.3,1163.4 603.8,1163.9 604.3,1163.9 604.8,1163.2 605.3,1162.9 605.8,1163.4 606.3,1163.1 606.8,1162.9 607.3,1163.0 607.8,1163.1 608.3,1163.0 608.8,1163.4 609.3,1163.6 609.8,1163.7 610.3,1163.8 610.8,1163.5 611.3,1163.4 611.8,1163.7 612.3,1164.0 612.8,1164.1 613.3,1164.0 613.8,1164.0 614.3,1163.4 614.8,1163.0 615.3,1163.2 615.8,1163.1 616.3,1163.4 616.8,1163.9 617.3,1163.2 617.8,1163.0 618.3,1163.6 618.8,1163.7 619.3,1163.2 619.8,1163.1 620.3,1163.6 620.8,1163.6 621.3,1163.6 621.8,1163.4 622.3,1163.0 622.8,1163.6 623.3,1163.6 623.8,1162.9 624.3,1163.6 624.8,1163.8 625.3,1163.2 625.8,1163.1 626.3,1163.3 626.8,1163.4 627.3,1163.9 627.8,1163.4 628.3,1163.6 628.8,1163.5 629.3,1162.9 629.8,1163.2 630.3,1163.4 630.8,1163.5 631.3,1163.7 631.8,1163.3 632.3,1163.1 632.8,1163.7 633.3,1164.1 633.8,1163.7 634.3,1163.9 634.8,1163.4 635.3,1163.8 635.8,1163.5 636.3,1163.4 636.8,1162.8 637.3,1163.4 637.8,1163.6 638.3,1163.6 638.8,1163.3 639.3,1163.6 639.8,1163.7 640.3,1163.2 640.8,1163.3 641.3,1163.8 641.8,1163.1 642.3,1163.7 642.8,1163.7 643.3,1163.4 643.8,1163.4 644.3,1163.1 644.8,1163.7 645.3,1163.3 645.8,1163.7 646.3,1163.9 646.8,1163.3 647.3,1163.0 647.8,1163.7 648.3,1164.0 648.8,1163.9 649.3,1163.5 649.8,1163.9 650.3,1163.0 650.8,1163.8 651.3,1163.2 651.8,1162.9 652.3,1163.3 652.8,1163.0 653.3,1163.6 653.8,1163.1 654.3,1163.2 654.8,1162.9 655.3,1162.8 655.8,1162.8 656.3,1162.7 656.8,1163.4 657.3,1163.9 657.8,1163.9 658.3,1163.3 658.8,1163.3 659.3,1163.3 659.8,1163.4 660.3,1163.9 660.8,1163.0 661.3,1163.2 661.8,1163.2 662.3,1163.3 662.8,1162.9 663.3,1163.2 663.8,1163.3 664.3,1163.0 664.8,1163.6 665.3,1163.1 665.8,1163.1 666.3,1163.5 666.8,1163.8 667.3,1163.5 667.8,1163.6 668.3,1164.0 668.8,1163.2 669.3,1163.0 669.8,1162.8 670.3,1162.8 670.8,1163.3 671.3,1162.8 671.8,1163.5 672.3,1163.7 672.8,1163.5 673.3,1163.2 673.8,1163.8 674.3,1164.0 674.8,1163.1 675.3,1163.8 675.8,1163.2 676.3,1163.3 676.8,1162.8 677.3,1162.7 677.8,1163.2 678.3,1163.2 678.8,1163.1 679.3,1163.5 679.8,1164.0 680.3,1163.0 680.8,1163.2 681.3,1162.9 681.8,1163.2 682.3,1163.8 682.8,1164.0 683.3,1163.9 683.8,1163.0 684.3,1162.9 684.8,1163.4 685.3,1163.4 685.8,1162.8 686.3,1163.2 686.8,1163.5 687.3,1163.4 687.8,1163.7 688.3,1163.4 688.8,1163.9 689.3,1163.5 689.8,1163.9 690.3,1164.1 690.8,1163.3 691.3,1163.3 691.8,1163.7 692.3,1163.6 692.8,1163.0 693.3,1163.4 693.8,1163.6 694.3,1163.5 694.8,1162.9 695.3,1163.1 695.8,1163.3 696.3,1163.2 696.8,1163.5 697.3,1162.9 697.8,1163.5 698.3,1163.7 698.8,1163.5 699.3,1163.0 699.8,1162.9 700.3,1163.0 700.8,1163.8 701.3,1163.2 701.8,1162.8 702.3,1163.6 702.8,1163.8 703.3,1163.8 703.8,1164.0 704.3,1164.0 704.8,1163.6 705.3,1163.2 705.8,1163.3 706.3,1163.3 706.8,1163.1 707.3,1162.9 707.8,1162.6 708.3,1162.9 708.8,1163.2 709.3,1163.8 709.8,1163.8 710.3,1163.9 710.8,1163.0 711.3,1163.0 711.8,1163.6 712.3,1163.6 712.8,1163.5 713.3,1163.3 713.8,1162.8 714.3,1163.3 714.8,1163.1 715.3,1163.4 715.8,1162.9 716.3,1163.2 716.8,1163.0 717.3,1163.1 717.8,1163.0 718.3,1162.9 718.8,1163.3 719.3,1163.4 719.8,1163.2 720.3,1163.1 720.8,1163.1 721.3,1163.4 721.8,1163.4 722.3,1163.4 722.8,1163.5 723.3,1163.6 723.8,1163.9 724.3,1164.1 724.8,1164.0 725.3,1164.1 725.8,1163.7 726.3,1162.9 726.8,1163.3 727.3,1162.9 727.8,1163.0 728.3,1162.7 728.8,1162.9 729.3,1162.7 729.8,1162.8 730.3,1163.6 730.8,1164.0 731.3,1163.0 731.8,1163.4 732.3,1163.2 732.8,1162.8 733.3,1162.6 733.8,1163.1 734.3,1163.4 734.8,1163.3 735.3,1163.1 735.8,1163.7 736.3,1163.1 736.8,1163.9 737.3,1163.7 737.8,1163.1 738.3,1162.8 738.8,1162.7 739.3,1162.7 739.8,1163.2 740.3,1163.4 740.8,1163.4 741.3,1163.3 741.8,1163.7 742.3,1163.6 742.8,1163.5 743.3,1164.0 743.8,1163.5 744.3,1163.9 744.8,1163.5 745.3,1163.9 745.8,1163.9 746.3,1163.6 746.8,1163.1 747.3,1162.7 747.8,1162.8 748.3,1162.8 748.8,1163.2 749.3,1163.3 749.8,1163.3 750.3,1162.8 750.8,1162.7 751.3,1163.7 751.8,1163.3 752.3,1163.1 752.8,1162.8 753.3,1162.7 753.8,1163.2 754.3,1163.4 754.8,1163.7 755.3,1163.8 755.8,1163.1 756.3,1163.0 756.8,1162.8 757.3,1163.4 757.8,1163.1 758.3,1163.8 758.8,1163.5 759.3,1163.6 759.8,1163.7 760.3,1162.9 760.8,1163.8 761.3,1163.0 761.8,1163.0 762.3,1162.7 762.8,1163.2 763.3,1162.8 763.8,1163.1 764.3,1163.2 764.8,1163.1 765.3,1163.6 765.8,1163.3 766.3,1163.7 766.8,1164.0 767.3,1163.3 767.8,1163.9 768.3,1163.0 768.8,1163.6 769.3,1162.9 769.8,1163.4 770.3,1163.1 770.8,1163.5 771.3,1163.2 771.8,1163.7 772.3,1163.8 772.8,1163.8 773.3,1162.9 773.8,1162.7 774.3,1163.3 774.8,1162.8 775.3,1162.6 775.8,1163.5 776.3,1163.3 776.8,1163.7 777.3,1163.6 777.8,1163.7 778.3,1163.8 778.8,1163.4 779.3,1163.7 779.8,1163.7 780.3,1163.9 780.8,1163.8 781.3,1163.2 781.8,1163.5 782.3,1162.9 782.8,1163.6 783.3,1164.0 783.8,1163.9 784.3,1163.5 784.8,1163.6 785.3,1163.6 785.8,1163.1 786.3,1163.1 786.8,1163.6 787.3,1163.0 787.8,1163.4 788.3,1163.3 788.8,1163.5 789.3,1163.1 789.8,1163.2 790.3,1163.3 790.8,1163.7 791.3,1164.0 791.8,1163.8 792.3,1163.1 792.8,1162.8 793.3,1163.3 793.8,1163.8 794.3,1163.9 794.8,1163.0 795.3,1163.7 795.8,1163.6 796.3,1163.9 796.8,1163.6 797.3,1163.6 797.8,1162.9 798.3,1162.6 798.8,1163.1 799.3,1162.9 799.8,1163.0 800.3,1163.3 800.8,1163.0 801.3,1163.8 801.8,1163.9 802.3,1163.2 802.8,1163.3 803.3,1163.1 803.8,1163.1 804.3,1162.9 804.8,1163.5 805.3,1163.8 805.8,1163.7 806.3,1163.1 806.8,1163.2 807.3,1163.0 807.8,1162.9 808.3,1163.4 808.8,1163.1 809.3,1162.9 809.8,1163.2 810.3,1163.3 810.8,1163.4 811.3,1163.4 811.8,1163.7 812.3,1163.4 812.8,1162.9 813.3,1163.5 813.8,1163.5 814.3,1163.5 814.8,1163.7 815.3,1163.0 815.8,1162.9 816.3,1163.7 816.8,1163.5 817.3,1163.6 817.8,1163.6 818.3,1163.9 818.8,1163.4 819.3,1163.5 819.8,1163.2 820.3,1163.7 820.8,1163.5 821.3,1163.5 821.8,1163.2 822.3,1163.8 822.8,1163.2 823.3,1163.3 823.8,1163.6 824.3,1163.8 824.8,1163.2 825.3,1163.9 825.8,1163.4 826.3,1163.6 826.8,1163.6 827.3,1162.9 827.8,1163.6 828.3,1163.8 828.8,1164.1 829.3,1163.7 829.8,1163.9 830.3,1164.0 830.8,1163.2 831.3,1162.5 831.8,1163.0 832.3,1162.5 832.8,1161.7 833.3,1162.1 833.8,1162.2 834.3,1161.6 834.8,1161.9 835.0,1161.5 835.3,1161.0 835.8,1160.9 836.3,1162.0 836.8,1162.0 837.3,1162.3 837.8,1162.7 838.3,1163.2 838.8,1163.0 839.3,1163.6 839.8,1163.2 840.3,1163.8 840.8,1164.1 841.3,1163.2 841.8,1163.5 842.3,1163.5 842.8,1163.4 843.3,1163.4 843.8,1163.9 844.3,1163.2 844.8,1162.7 845.3,1163.4 845.8,1163.6 846.3,1163.7 846.8,1163.3 847.3,1163.3 847.8,1163.3 848.3,1163.2 848.8,1163.6 849.3,1163.4 849.8,1163.3 850.3,1163.2 850.8,1163.1 851.3,1162.7 851.8,1163.6 852.3,1163.4 852.8,1163.3 853.3,1163.7 853.8,1163.6 854.3,1163.7 854.8,1163.4 855.3,1163.1 855.8,1163.6 856.3,1163.5 856.8,1163.7 857.3,1163.6 857.8,1162.9 858.3,1162.7 858.8,1163.3 859.3,1163.5 859.8,1163.8 860.3,1163.1 860.8,1162.7 861.3,1163.7 861.8,1163.5 862.3,1163.5 862.8,1163.7 863.3,1163.3 863.8,1162.9 864.3,1163.4 864.8,1162.8 865.3,1163.0 865.8,1163.5 866.3,1163.2 866.8,1163.7 867.3,1163.6 867.8,1163.3 868.3,1163.7 868.8,1163.9 869.3,1163.7 869.8,1163.1 870.3,1163.6 870.8,1163.5 871.3,1163.3 871.8,1163.7 872.3,1163.6 872.8,1163.0 873.3,1162.9 873.8,1163.1 874.3,1163.1 874.8,1163.8 875.3,1163.8 875.8,1163.7 876.3,1164.0 876.8,1163.6 877.3,1163.3 877.8,1163.1 878.3,1163.2 878.8,1163.3 879.3,1162.9 879.8,1163.5 880.3,1163.6 880.8,1163.8 881.3,1163.7 881.8,1163.1 882.3,1163.3 882.8,1162.8 883.3,1163.2 883.8,1163.4 884.3,1163.2 884.8,1163.9 885.3,1163.6 885.8,1163.6 886.3,1163.5 886.8,1163.5 887.3,1163.2 887.8,1163.1 888.3,1163.9 888.8,1163.5 889.3,1163.5 889.8,1163.6 890.3,1163.8 890.8,1163.1 891.3,1163.7 891.8,1163.7 892.3,1163.7 892.8,1163.0 893.3,1163.2 893.8,1163.7 894.3,1163.8 894.8,1163.7 895.3,1163.1 895.8,1163.8 896.3,1163.8 896.8,1163.3 897.3,1163.8 897.8,1163.4 898.3,1163.0 898.8,1163.3 899.3,1163.1 899.8,1163.2 900.3,1162.8 900.8,1162.6 901.3,1163.0 901.8,1163.0 902.3,1163.0 902.8,1162.8 903.3,1163.3 903.8,1163.2 904.3,1163.4 904.8,1162.9 905.3,1162.8 905.8,1163.4 906.3,1163.3 906.8,1162.8 907.3,1162.9 907.8,1163.5 908.3,1163.4 908.8,1163.9 909.3,1163.8 909.8,1163.2 910.3,1163.7 910.8,1163.3 911.3,1163.0 911.8,1162.7 912.3,1163.2 912.8,1163.8 913.3,1163.6 913.8,1163.3 914.3,1163.0 914.8,1162.8 915.3,1163.7 915.8,1163.5 916.3,1163.1 916.8,1163.5 917.3,1163.1 917.8,1162.7 918.3,1163.3 918.8,1163.2 919.3,1163.8 919.8,1163.3 920.3,1162.8 920.8,1162.8 921.3,1163.4 921.8,1162.9 922.3,1163.8 922.8,1163.4 923.3,1163.9 923.8,1163.6 924.3,1163.7 924.8,1163.9 925.3,1163.1 925.8,1162.9 926.3,1163.2 926.8,1163.7 927.3,1163.5 927.8,1163.7 928.3,1163.4 928.8,1163.2 929.3,1162.8 929.8,1163.4 930.3,1163.7 930.8,1163.8 931.3,1163.0 931.8,1162.9 932.3,1163.4 932.8,1163.4 933.3,1163.0 933.8,1163.1 934.3,1163.2 934.8,1163.4 935.3,1163.3 935.8,1163.9 936.3,1163.9 936.8,1163.2 937.3,1162.8 937.8,1163.1 938.3,1163.1 938.8,1163.3 939.3,1163.5 939.8,1163.3 940.3,1163.0 940.8,1162.8 941.3,1163.4 941.8,1163.4 942.3,1163.4 942.8,1163.1 943.3,1162.8 943.8,1162.6 944.3,1162.9 944.8,1163.1 945.3,1163.7 945.8,1164.0 946.3,1164.1 946.8,1163.5 947.3,1163.3 947.8,1163.9 948.3,1163.1 948.8,1163.0 949.3,1163.0 949.8,1163.5 950.3,1163.6 950.8,1163.4 951.3,1163.6 951.8,1163.4 952.3,1163.2 952.8,1163.2 953.3,1163.5 953.8,1162.8 954.3,1163.5 954.8,1163.3 955.3,1163.5 955.8,1163.9 956.3,1163.7 956.8,1163.3 957.3,1162.9 957.8,1163.3 958.3,1163.7 958.8,1163.3 959.3,1163.9 959.8,1163.5 960.3,1163.9 960.8,1163.3 961.3,1163.0 961.8,1162.9 962.3,1163.4 962.8,1163.0 963.3,1163.2 963.8,1163.6 964.3,1163.2 964.8,1163.6 965.3,1162.9 965.8,1162.8 966.3,1163.7 966.8,1163.3 967.3,1163.4 967.8,1163.9 968.3,1163.6 968.8,1163.3 969.3,1163.9 969.8,1163.9 970.3,1163.2 970.8,1163.6 971.3,1163.0 971.8,1163.4 972.3,1163.2 972.8,1163.4 973.3,1163.9 973.8,1163.4 974.3,1163.6 974.8,1163.4 975.3,1163.1 975.8,1163.2 976.3,1163.7 976.8,1163.9 977.3,1163.1 977.8,1162.8 978.3,1163.4 978.8,1163.2 979.3,1162.8 979.8,1163.6 980.3,1163.4 980.8,1163.0 981.3,1163.1 981.8,1163.2 982.3,1162.9 982.8,1163.4 983.3,1163.7 983.8,1163.7 984.3,1163.7 984.8,1163.5 985.3,1163.9 985.8,1163.1 986.3,1163.1 986.8,1163.0 987.3,1163.1 987.8,1162.9 988.3,1163.3 988.8,1163.6 989.3,1163.8 989.8,1163.9 990.3,1163.0 990.8,1163.0 991.3,1163.1 991.8,1163.1 992.3,1163.4 992.8,1163.3 993.3,1163.9 993.8,1163.3 994.3,1163.4 994.8,1163.9 995.3,1163.0 995.8,1163.2 996.3,1163.9 996.8,1163.8 997.3,1163.7 997.8,1163.5 998.3,1164.0 998.8,1163.7 999.3,1163.3 999.8,1163.1 1000.3,1163.5 1000.8,1163.1 1001.3,1163.7 1001.8,1164.0 1002.3,1164.1 1002.8,1164.0 1003.3,1163.2 1003.8,1163.5 1004.3,1162.9 1004.8,1162.9 1005.3,1162.9 1005.8,1162.6 1006.3,1162.9 1006.8,1163.0 1007.3,1162.9 1007.8,1163.0 1008.3,1163.3 1008.8,1163.1 1009.3,1163.8 1009.8,1163.2 1010.3,1163.8 1010.8,1163.0 1011.3,1163.0 1011.8,1162.7 1012.3,1163.0 1012.8,1163.3 1013.3,1163.3 1013.8,1163.4 1014.3,1163.8 1014.8,1163.1 1015.3,1163.7 1015.8,1163.8 1016.3,1163.7 1016.8,1163.2 1017.3,1163.4 1017.8,1163.6 1018.3,1163.3 1018.8,1163.6 1019.3,1163.8 1019.8,1163.2 1020.3,1163.3 1020.8,1163.1 1021.3,1163.8 1021.8,1163.0 1022.3,1163.6 1022.8,1163.4 1023.3,1163.7 1023.8,1163.7 1024.3,1163.1 1024.8,1163.3 1025.3,1162.8 1025.8,1163.6 1026.3,1163.0 1026.8,1162.7 1027.3,1163.3 1027.8,1162.9 1028.3,1163.4 1028.8,1163.1 1029.3,1163.5 1029.8,1163.4 1030.3,1163.2 1030.8,1162.9 1031.3,1163.4 1031.8,1163.9 1032.3,1163.8 1032.8,1163.2 1033.3,1163.5 1033.8,1163.5 1034.3,1163.2 1034.8,1163.4 1035.3,1162.9 1035.8,1163.3 1036.3,1163.4 1036.8,1162.9 1037.3,1163.7 1037.8,1163.6 1038.3,1163.2 1038.8,1163.1 1039.3,1163.3 1039.8,1163.4 1040.3,1162.9 1040.8,1162.7 1041.3,1163.4 1041.8,1163.4 1042.3,1164.0 1042.8,1164.0 1043.3,1163.8 1043.8,1163.6 1044.3,1163.2 1044.8,1163.7 1045.3,1163.5 1045.8,1163.0 1046.3,1163.7 1046.8,1163.8 1047.3,1163.7 1047.8,1163.4 1048.3,1162.8 1048.8,1163.5 1049.3,1163.5 1049.8,1163.3 1050.3,1162.9 1050.8,1162.7 1051.3,1162.7 1051.8,1163.5 1052.3,1163.6 1052.8,1164.0 1053.3,1164.1 1053.8,1163.7 1054.3,1163.6 1054.8,1163.3 1055.3,1162.8 1055.8,1163.6 1056.3,1162.9 1056.8,1162.9 1057.3,1163.6 1057.8,1163.2 1058.3,1163.8 1058.8,1164.0 1059.3,1163.4 1059.8,1163.8 1060.3,1163.3 1060.8,1163.4 1061.3,1163.2 1061.8,1163.5 1062.3,1163.3 1062.8,1163.8 1063.3,1163.1 1063.8,1162.9 1064.3,1163.4 1064.8,1163.2 1065.3,1163.8 1065.8,1163.3 1066.3,1163.7 1066.8,1162.9 1067.3,1163.6 1067.8,1164.0 1068.3,1163.1 1068.8,1163.1 1069.3,1163.1 1069.8,1163.7 1070.3,1163.6 1070.8,1163.2 1071.3,1163.8 1071.8,1163.2 1072.3,1163.2 1072.8,1163.7 1073.3,1163.5 1073.8,1163.5 1074.3,1163.0 1074.8,1163.2 1075.3,1162.9 1075.8,1162.9 1076.3,1163.2 1076.8,1163.6 1077.3,1162.9 1077.8,1163.4 1078.3,1163.2 1078.8,1162.9 1079.3,1163.6 1079.8,1164.0 1080.3,1163.2 1080.8,1163.0 1081.3,1163.6 1081.8,1163.7 1082.3,1163.3 1082.8,1163.3 1083.3,1162.9 1083.8,1163.2 1084.3,1163.7 1084.8,1163.2 1085.3,1163.4 1085.8,1163.6 1086.3,1163.9 1086.8,1163.8 1087.3,1164.0 1087.8,1164.0 1088.3,1163.5 1088.8,1163.9 1089.3,1163.9 1089.8,1163.3 1090.3,1163.7 1090.8,1163.2 1091.3,1163.9 1091.8,1163.8 1092.3,1163.9 1092.8,1163.5 1093.3,1163.4 1093.8,1163.1 1094.3,1163.3 1094.8,1162.9 1095.3,1163.7 1095.8,1163.4 1096.3,1163.9 1096.8,1163.7 1097.3,1163.0 1097.8,1163.5 1098.3,1163.9 1098.8,1163.0 1099.3,1163.8 1099.8,1163.4 1100.3,1163.8 1100.8,1163.4 1101.3,1163.0 1101.8,1163.7 1102.3,1163.0 1102.8,1163.0 1103.3,1163.7 1103.8,1163.8 1104.3,1163.6 1104.8,1163.1 1105.3,1162.8 1105.8,1163.5 1106.3,1163.0 1106.8,1163.1 1107.3,1163.8 1107.8,1163.5 1108.3,1163.6 1108.8,1163.4 1109.3,1163.0 1109.8,1163.7 1110.3,1164.0 1110.8,1164.1 1111.3,1163.6 1111.8,1163.1 1112.3,1163.5 1112.8,1163.2 1113.3,1162.9 1113.8,1163.2 1114.3,1163.8 1114.8,1164.1 1115.3,1164.1 1115.8,1163.3 1116.3,1163.0 1116.8,1163.8 1117.3,1163.3 1117.8,1162.9 1118.3,1163.4 1118.8,1162.8 1119.3,1162.8 1119.8,1163.5 1120.3,1163.8 1120.8,1163.1 1121.3,1163.5 1121.8,1164.0 1122.3,1164.1 1122.8,1163.4 1123.3,1163.2 1123.8,1163.7 1124.3,1163.0 1124.8,1163.4 1125.3,1163.7 1125.8,1163.8 1126.3,1163.3 1126.8,1163.0 1127.3,1162.8 1127.8,1163.7 1128.3,1163.3 1128.8,1163.5 1129.3,1163.9 1129.8,1163.4 1130.3,1163.7 1130.8,1164.0 1131.3,1163.0 1131.8,1163.8 1132.3,1163.5 1132.8,1163.5 1133.3,1163.8 1133.8,1162.9 1134.3,1163.7 1134.8,1164.0 1135.3,1163.8 1135.8,1163.4 1136.3,1163.3 1136.8,1163.1 1137.3,1163.2 1137.8,1163.3 1138.3,1162.8 1138.8,1163.6 1139.3,1163.5 1139.8,1163.6 1140.3,1162.9 1140.8,1163.2 1141.3,1163.3 1141.8,1163.0 1142.3,1162.7 1142.8,1162.9 1143.3,1163.7 1143.8,1163.9 1144.3,1164.0 1144.8,1164.1 1145.3,1164.2 1145.8,1163.1 1146.3,1163.4 1146.8,1163.1 1147.3,1163.5 1147.8,1163.8 1148.3,1162.9 1148.8,1163.7 1149.3,1163.0 1149.8,1163.8 1150.3,1163.5 1150.8,1163.5 1151.3,1163.3 1151.8,1163.2 1152.3,1163.7 1152.8,1163.1 1153.3,1163.6 1153.8,1163.7 1154.3,1164.0 1154.8,1163.9 1155.3,1163.4 1155.8,1163.4 1156.3,1162.8 1156.8,1162.8 1157.3,1163.3 1157.8,1163.6 1158.3,1163.4 1158.8,1163.6 1159.3,1163.6 1159.8,1163.3 1160.3,1163.6 1160.8,1162.9 1161.3,1162.8 1161.8,1162.9 1162.3,1162.9 1162.8,1162.6 1163.3,1163.1 1163.8,1163.4 1164.3,1163.2 1164.8,1163.0 1165.3,1163.3 1165.8,1163.7 1166.3,1162.9 1166.8,1162.9 1167.3,1163.0 1167.8,1163.7 1168.3,1163.6 1168.8,1163.3 1169.3,1162.9 1169.8,1163.4 1170.3,1163.9 1170.8,1163.3 1171.3,1162.9 1171.8,1163.1 1172.3,1163.0 1172.8,1163.4 1173.3,1163.6 1173.8,1163.9 1174.3,1164.0 1174.8,1163.2 1175.3,1162.9 1175.8,1163.1 1176.3,1163.2 1176.8,1163.3 1177.3,1163.0 1177.8,1163.7 1178.3,1163.8 1178.8,1163.9 1179.3,1163.0 1179.8,1163.2 1180.3,1163.1 1180.8,1163.5 1181.3,1163.0 1181.8,1162.9 1182.3,1163.3 1182.8,1162.8 1183.3,1162.6 1183.8,1162.8 1184.3,1163.3 1184.8,1162.8 1185.3,1162.6 1185.8,1163.0 1186.3,1163.4 1186.8,1163.2 1187.3,1163.5 1187.8,1163.9 1188.3,1163.8 1188.8,1163.6 1189.3,1163.5 1189.8,1163.3 1190.3,1162.8 1190.8,1163.0 1191.3,1163.3 1191.8,1163.3 1192.3,1163.0 1192.8,1163.1 1193.3,1163.3 1193.8,1163.5 1194.3,1163.1 1194.8,1163.1 1195.3,1163.4 1195.8,1163.8 1196.3,1163.9 1196.8,1164.1 1197.3,1163.4 1197.8,1163.0 1198.3,1163.1 1198.8,1163.8 1199.3,1163.7 1199.8,1163.8 1200.3,1164.0 1200.8,1163.4 1201.3,1163.0 1201.8,1162.8 1202.3,1162.8 1202.8,1163.4 1203.3,1163.1 1203.8,1163.5 1204.3,1163.6 1204.8,1163.1 1205.3,1163.8 1205.8,1163.4 1206.3,1163.6 1206.8,1163.5 1207.3,1163.7 1207.8,1163.8 1208.3,1163.0 1208.8,1163.3 1209.3,1163.7 1209.8,1163.3 1210.3,1162.9 1210.8,1163.2 1211.3,1163.2 1211.8,1162.9 1212.3,1162.8 1212.8,1163.2 1213.3,1163.2 1213.8,1163.7 1214.3,1163.9 1214.8,1163.0 1215.3,1163.5 1215.8,1163.4 1216.3,1163.7 1216.8,1163.9 1217.3,1163.8 1217.8,1163.6 1218.3,1163.7 1218.8,1163.0 1219.3,1163.5 1219.8,1162.9 1220.3,1163.0 1220.8,1162.8 1221.3,1163.2 1221.8,1163.9 1222.3,1163.9 1222.8,1164.0 1223.3,1164.0 1223.8,1164.1 1224.3,1163.9 1224.8,1163.6 1225.3,1163.2 1225.8,1163.7 1226.3,1163.6 1226.8,1163.1 1227.3,1163.7 1227.8,1163.3 1228.3,1163.8 1228.8,1164.1 1229.3,1163.3 1229.8,1163.3 1230.3,1163.2 1230.8,1163.5 1231.3,1163.8 1231.8,1163.4 1232.3,1163.6 1232.8,1162.9 1233.3,1162.8 1233.8,1162.7 1234.3,1163.5 1234.8,1163.6 1235.3,1163.6 1235.8,1163.9 1236.3,1163.6 1236.8,1163.3 1237.3,1163.6 1237.8,1163.8 1238.3,1164.1 1238.8,1163.9 1239.3,1163.6 1239.8,1162.9 1240.3,1162.9 1240.8,1163.5 1241.3,1163.7 1241.8,1163.8 1242.3,1163.1 1242.8,1163.8 1243.3,1163.0 1243.8,1162.9 1244.3,1163.4 1244.8,1163.3 1245.3,1163.8 1245.8,1163.3 1246.3,1163.8 1246.8,1163.0 1247.3,1163.3 1247.8,1163.2 1248.3,1162.7 1248.8,1162.7 1249.3,1162.7 1249.8,1163.0 1250.3,1163.4 1250.8,1163.3 1251.3,1163.0 1251.8,1163.5 1252.3,1162.9 1252.8,1163.0 1253.3,1162.7 1253.8,1163.5 1254.3,1163.4 1254.8,1163.4 1255.3,1163.6 1255.8,1163.4 1256.3,1163.4 1256.8,1163.5 1257.3,1163.7 1257.8,1163.4 1258.3,1163.5 1258.8,1163.7 1259.3,1164.0 1259.8,1163.6 1260.3,1163.2 1260.8,1163.7 1261.3,1163.0 1261.8,1163.7 1262.3,1163.9 1262.8,1164.1 1263.3,1163.2 1263.8,1163.7 1264.3,1164.0 1264.8,1163.3 1265.3,1163.7 1265.8,1163.6 1266.3,1163.4 1266.8,1163.6 1267.3,1163.0 1267.8,1163.3 1268.3,1163.2 1268.8,1163.1 1269.3,1163.2 1269.8,1163.0 1270.3,1163.5 1270.8,1163.8 1271.3,1163.6 1271.8,1163.0 1272.3,1163.3 1272.8,1163.4 1273.3,1162.9 1273.8,1162.8 1274.3,1162.6 1274.8,1162.8 1275.3,1163.0 1275.8,1163.3 1276.3,1163.6 1276.8,1163.0 1277.3,1163.1 1277.8,1162.7 1278.3,1163.4 1278.8,1162.9 1279.3,1163.5 1279.8,1163.1 1280.3,1163.3 1280.8,1163.0 1281.3,1163.1 1281.8,1163.5 1282.3,1163.0 1282.8,1163.6 1283.3,1163.2 1283.8,1163.1 1284.3,1163.0 1284.8,1162.8 1285.3,1163.6 1285.8,1163.0 1286.3,1162.9 1286.8,1162.9 1287.3,1162.6 1287.8,1163.0 1288.3,1162.9 1288.8,1163.2 1289.3,1162.8 1289.8,1163.2 1290.3,1163.2 1290.8,1163.9 1291.3,1163.6 1291.8,1163.9 1292.3,1164.1 1292.8,1163.6 1293.3,1163.9 1293.8,1164.0 1294.3,1163.0 1294.8,1163.6 1295.3,1163.6 1295.8,1163.2 1296.3,1163.8 1296.8,1163.1 1297.3,1163.3 1297.8,1163.8 1298.3,1164.0 1298.8,1163.8 1299.3,1163.3 1299.8,1163.3 1300.3,1163.6 1300.8,1163.9 1301.3,1163.3 1301.8,1163.6 1302.3,1163.5 1302.8,1163.5 1303.3,1163.3 1303.8,1162.8 1304.3,1162.8 1304.8,1162.7 1305.3,1163.4 1305.8,1163.2 1306.3,1163.1 1306.8,1163.0 1307.3,1163.3 1307.8,1162.8 1308.3,1163.2 1308.8,1162.9 1309.3,1163.2 1309.8,1163.0 1310.3,1163.6 1310.8,1163.7 1311.3,1163.4 1311.8,1163.2 1312.3,1163.3 1312.8,1162.9 1313.3,1162.8 1313.8,1163.2 1314.3,1163.8 1314.8,1163.7 1315.3,1163.9 1315.8,1163.1 1316.3,1163.5 1316.8,1163.2 1317.3,1163.0 1317.8,1163.3 1318.3,1162.9 1318.8,1163.3 1319.3,1163.4 1319.8,1162.8 1320.3,1163.5 1320.8,1163.2 1321.3,1163.8 1321.8,1163.8 1322.3,1163.5 1322.8,1162.9 1323.3,1162.8 1323.8,1162.8 1324.3,1163.6 1324.8,1163.3 1325.3,1163.6 1325.8,1163.9 1326.3,1163.3 1326.8,1162.9 1327.3,1163.3 1327.8,1163.2 1328.3,1163.5 1328.8,1163.6 1329.3,1163.9 1329.8,1163.3 1330.3,1163.1 1330.8,1163.5 1331.3,1163.6 1331.8,1162.9 1332.3,1163.5 1332.8,1163.4 1333.3,1163.9 1333.8,1163.0 1334.3,1162.9 1334.8,1163.2 1335.3,1163.4 1335.8,1163.8 1336.3,1163.9 1336.8,1163.4 1337.3,1163.4 1337.8,1163.5 1338.3,1163.4 1338.8,1163.7 1339.3,1163.1 1339.8,1163.1 1340.3,1163.7 1340.8,1163.6 1341.3,1163.9 1341.8,1163.5 1342.3,1163.5 1342.8,1163.7 1343.3,1162.9 1343.8,1163.0 1344.3,1163.4 1344.8,1163.2 1345.3,1163.1 1345.8,1163.8 1346.3,1163.5 1346.8,1163.3 1347.3,1163.6 1347.8,1163.6 1348.3,1163.2 1348.8,1163.1 1349.3,1162.8 1349.8,1163.5 1350.3,1163.6 1350.8,1163.0 1351.3,1163.7 1351.8,1164.0 1352.3,1164.1 1352.8,1163.9 1353.3,1163.9 1353.8,1163.7 1354.3,1163.5 1354.8,1163.7 1355.3,1163.4 1355.8,1163.1 1356.3,1163.5 1356.8,1163.8 1357.3,1162.9 1357.8,1163.3 1358.3,1163.8 1358.8,1164.0 1359.3,1163.3 1359.8,1163.4 1360.3,1162.9 1360.8,1162.9 1361.3,1163.7 1361.8,1163.2 1362.3,1162.7 1362.8,1162.6 1363.3,1162.7 1363.8,1163.0 1364.3,1162.7 1364.8,1162.8 1365.3,1163.2 1365.8,1163.6 1366.3,1164.0 1366.8,1164.1 1367.3,1163.7 1367.8,1164.0 1368.3,1164.0 1368.8,1163.6 1369.3,1163.7 1369.8,1162.9 1370.3,1163.6 1370.8,1163.4 1371.3,1163.3 1371.8,1163.5 1372.3,1163.0 1372.8,1162.7 1373.3,1162.7 1373.8,1163.6 1374.3,1163.6 1374.8,1163.5 1375.3,1162.9 1375.8,1163.0 1376.3,1163.4 1376.8,1163.1 1377.3,1162.7 1377.8,1163.6 1378.3,1162.9 1378.8,1163.7 1379.3,1164.0 1379.8,1164.1 1380.3,1163.2 1380.8,1163.5 1381.3,1163.0 1381.8,1163.1 1382.3,1163.8 1382.8,1163.0 1383.3,1163.6 1383.8,1162.9 1384.3,1162.7 1384.8,1163.1 1385.3,1163.7 1385.8,1164.0 1386.3,1163.9 1386.8,1163.9 1387.3,1163.2 1387.8,1163.7 1388.3,1163.5 1388.8,1163.9 1389.3,1163.1 1389.8,1163.5 1390.3,1163.9 1390.8,1163.3 1391.3,1163.1 1391.8,1163.3 1392.3,1163.0 1392.8,1163.4 1393.3,1163.0 1393.8,1162.9 1394.3,1163.2 1394.8,1163.0 1395.3,1163.5 1395.8,1163.3 1396.3,1163.2 1396.8,1163.8 1397.3,1163.4 1397.8,1163.0 1398.3,1162.7 1398.8,1162.5 1399.3,1163.2 1399.8,1163.2 1400.3,1163.8 1400.8,1162.9 1401.3,1163.7 1401.8,1163.3 1402.3,1163.4 1402.8,1163.0 1403.3,1162.7 1403.8,1162.6 1404.3,1162.5 1404.8,1162.6 1405.3,1163.6 1405.8,1163.9 1406.3,1163.6 1406.8,1163.2 1407.3,1162.9 1407.8,1162.8 1408.3,1162.9 1408.8,1163.2 1409.3,1163.7 1409.8,1163.8 1410.3,1163.2 1410.8,1163.5 1411.3,1163.9 1411.8,1163.3 1412.3,1163.3 1412.8,1163.1 1413.3,1163.3 1413.8,1163.6 1414.3,1162.9 1414.8,1163.2 1415.3,1163.2 1415.8,1163.1 1416.3,1163.8 1416.8,1163.9 1417.3,1163.7 1417.8,1163.0 1418.3,1163.7 1418.8,1163.0 1419.3,1163.1 1419.8,1163.3 1420.3,1163.1 1420.8,1162.8 1421.3,1162.8 1421.8,1163.7 1422.3,1163.1 1422.8,1163.4 1423.3,1163.0 1423.8,1163.2 1424.3,1162.9 1424.8,1163.7 1425.3,1163.5 1425.8,1163.0 1426.3,1163.4 1426.8,1163.0 1427.3,1163.6 1427.8,1163.4 1428.3,1163.9 1428.8,1163.3 1429.3,1163.6 1429.8,1163.2 1430.3,1163.8 1430.8,1163.6 1431.3,1163.4 1431.8,1163.8 1432.3,1163.7 1432.8,1163.3 1433.3,1163.3 1433.8,1163.2 1434.3,1163.8 1434.8,1163.2 1435.3,1163.3 1435.8,1163.2 1436.3,1163.9 1436.8,1163.0 1437.3,1163.8 1437.8,1163.5 1438.3,1163.5 1438.8,1163.7 1439.3,1163.9 1439.8,1163.8 1440.3,1163.2 1440.8,1163.7 1441.3,1163.6 1441.8,1163.0 1442.3,1163.5 1442.8,1163.0 1443.3,1163.7 1443.8,1163.7 1444.3,1163.6 1444.8,1164.0 1445.3,1164.0 1445.8,1163.5 1446.3,1163.5 1446.8,1164.0 1447.3,1163.9 1447.8,1163.8 1448.3,1163.6 1448.8,1163.4 1449.3,1163.4 1449.8,1163.0 1450.3,1162.8 1450.8,1162.9 1451.3,1163.3 1451.8,1162.8 1452.3,1163.4 1452.8,1163.5 1453.3,1163.9 1453.8,1163.6 1454.3,1162.9 1454.8,1162.6 1455.3,1163.3 1455.8,1163.4 1456.3,1163.7 1456.8,1163.5 1457.3,1163.1 1457.8,1163.5 1458.3,1162.8 1458.8,1162.6 1459.3,1162.8 1459.8,1163.6 1460.3,1163.9 1460.8,1163.0 1461.3,1162.7 1461.8,1163.0 1462.3,1163.5 1462.8,1163.7 1463.3,1163.1 1463.8,1163.6 1464.3,1163.4 1464.8,1163.8 1465.3,1163.9 1465.8,1163.1 1466.3,1162.8 1466.8,1163.0 1467.3,1163.4 1467.8,1163.7 1468.3,1164.0 1468.8,1164.0 1469.3,1163.8 1469.8,1164.0 1470.3,1163.8 1470.8,1163.9 1471.3,1163.4 1471.8,1163.1 1472.3,1162.7 1472.8,1163.5 1473.3,1163.0 1473.8,1162.8 1474.3,1162.7 1474.8,1162.9 1475.3,1162.7 1475.8,1162.6 1476.3,1163.4 1476.8,1162.8 1477.3,1162.4 1477.8,1162.0 1478.3,1162.0 1478.8,1162.1 1479.3,1162.0 1479.8,1161.6 1480.3,1161.4 1480.8,1161.2 1481.3,1160.6 1481.8,1160.5 1482.0,1160.8 1482.3,1160.6 1482.8,1161.4 1483.3,1161.0 1483.8,1161.3 1484.3,1161.8 1484.8,1161.4 1485.3,1162.3 1485.8,1162.8 1486.3,1162.2 1486.8,1162.4 1487.3,1163.1 1487.8,1162.9 1488.3,1162.7 1488.8,1162.9 1489.3,1163.5 1489.8,1163.6 1490.3,1163.4 1490.8,1163.5 1491.3,1162.8 1491.8,1163.3 1492.3,1163.1 1492.8,1163.5 1493.3,1163.9 1493.8,1164.1 1494.3,1163.1 1494.8,1163.4 1495.3,1163.1 1495.8,1163.4 1496.3,1163.7 1496.8,1163.7 1497.3,1163.3 1497.8,1163.3 1498.3,1163.4 1498.8,1163.4 1499.3,1163.4 1499.8,1163.0 1500.3,1163.6 1500.8,1163.7 1501.3,1164.0 1501.8,1163.1 1502.3,1163.5 1502.8,1163.1 1503.3,1163.8 1503.8,1163.2 1504.3,1163.8 1504.8,1163.7 1505.3,1163.6 1505.8,1163.4 1506.3,1163.0 1506.8,1162.7 1507.3,1162.9 1507.8,1163.0 1508.3,1162.7 1508.8,1163.3 1509.3,1163.5 1509.8,1163.9 1510.3,1163.5 1510.8,1163.1 1511.3,1163.8 1511.8,1163.5 1512.3,1163.2 1512.8,1163.4 1513.3,1163.6 1513.8,1162.9 1514.3,1162.9 1514.8,1163.7 1515.3,1163.7 1515.8,1163.5 1516.3,1163.5 1516.8,1163.2 1517.3,1163.5 1517.8,1163.7 1518.3,1163.8 1518.8,1163.6 1519.3,1163.0 1519.8,1163.2 1520.3,1163.6 1520.8,1163.5 1521.3,1163.8 1521.8,1163.9 1522.3,1163.5 1522.8,1162.9 1523.3,1162.8 1523.8,1162.7 1524.3,1162.6 1524.8,1163.4 1525.3,1163.9 1525.8,1163.1 1526.3,1162.8 1526.8,1163.6 1527.3,1163.8 1527.8,1163.8 1528.3,1163.1 1528.8,1163.6 1529.3,1163.8 1529.8,1163.0 1530.3,1163.6 1530.8,1163.1 1531.3,1162.7 1531.8,1163.2 1532.3,1163.5 1532.8,1163.9 1533.3,1163.7 1533.8,1163.2 1534.3,1163.6 1534.8,1163.9 1535.3,1163.3 1535.8,1163.0 1536.3,1163.6 1536.8,1163.2 1537.3,1163.4 1537.8,1163.5 1538.3,1163.5 1538.8,1163.7 1539.3,1162.9 1539.8,1163.1 1540.3,1163.1 1540.8,1162.8 1541.3,1163.0 1541.8,1163.7 1542.3,1163.8 1542.8,1164.0 1543.3,1164.1 1543.8,1164.1 1544.3,1163.4 1544.8,1163.2 1545.3,1163.5 1545.8,1162.9 1546.3,1163.7 1546.8,1163.5 1547.3,1162.8 1547.8,1162.7 1548.3,1162.7 1548.8,1162.9 1549.3,1163.0 1549.8,1162.8 1550.3,1163.6 1550.8,1163.5 1551.3,1163.5 1551.8,1162.9 1552.3,1162.7 1552.8,1162.6 1553.3,1162.8 1553.8,1163.5 1554.3,1163.7 1554.8,1163.4 1555.3,1163.9 1555.8,1164.1 1556.3,1163.1 1556.8,1163.5 1557.3,1163.4 1557.8,1162.8 1558.3,1163.5 1558.8,1163.2 1559.3,1163.2 1559.8,1163.1 1560.3,1162.9 1560.8,1162.8 1561.3,1162.9 1561.8,1163.5 1562.3,1162.8 1562.8,1163.6 1563.3,1163.5 1563.8,1162.9 1564.3,1162.8 1564.8,1163.3 1565.3,1163.7 1565.8,1163.9 1566.3,1163.1 1566.8,1162.8 1567.3,1162.7 1567.8,1163.3 1568.3,1163.0 1568.8,1163.3 1569.3,1163.3 1569.8,1163.8 1570.3,1163.3 1570.8,1163.6 1571.3,1163.0 1571.8,1163.5 1572.3,1163.1 1572.8,1163.8 1573.3,1163.2 1573.8,1162.8 1574.3,1163.0 1574.8,1162.8 1575.3,1163.2 1575.8,1163.3 1576.3,1162.8 1576.8,1163.5 1577.3,1163.9 1577.8,1163.2 1578.3,1163.7 1578.8,1163.0 1579.3,1163.1 1579.8,1162.8 1580.3,1162.9 1580.8,1163.1 1581.3,1163.1 1581.8,1163.0 1582.3,1163.0 1582.8,1163.7 1583.3,1163.8 1583.8,1163.6 1584.3,1163.2 1584.8,1163.5 1585.3,1163.6 1585.8,1163.4 1586.3,1163.7 1586.8,1164.0 1587.3,1164.2 1587.8,1163.9 1588.3,1163.5 1588.8,1163.4 1589.3,1163.6 1589.8,1163.9 1590.3,1163.5 1590.8,1163.1 1591.3,1163.1 1591.8,1163.0 1592.3,1163.7 1592.8,1164.0 1593.3,1163.9 1593.8,1163.4 1594.3,1163.3 1594.8,1163.2 1595.3,1163.9 1595.8,1164.0 1596.3,1163.9 1596.8,1163.8 1597.3,1164.0 1597.8,1163.1 1598.3,1162.8 1598.8,1163.7 1599.3,1163.0 1599.8,1163.1 1600.3,1163.1 1600.8,1163.4 1601.3,1163.8 1601.8,1163.2 1602.3,1163.6 1602.8,1163.7 1603.3,1163.9 1603.8,1163.9 1604.3,1164.0 1604.8,1163.5 1605.3,1163.9 1605.8,1163.1 1606.3,1162.7 1606.8,1163.2 1607.3,1163.8 1607.8,1163.3 1608.3,1162.8 1608.8,1163.0 1609.3,1163.4 1609.8,1163.2 1610.3,1163.4 1610.8,1162.8 1611.3,1163.7 1611.8,1163.0 1612.3,1163.4 1612.8,1163.0 1613.3,1163.5 1613.8,1163.2 1614.3,1163.8 1614.8,1163.6 1615.3,1163.5 1615.8,1163.6 1616.3,1163.5 1616.8,1163.9 1617.3,1163.2 1617.8,1163.0 1618.3,1163.1 1618.8,1163.0 1619.3,1163.3 1619.8,1163.2 1620.3,1162.9 1620.8,1163.1 1621.3,1163.8 1621.8,1163.9 1622.3,1164.0 1622.8,1163.2 1623.3,1163.4 1623.8,1163.4 1624.3,1163.5 1624.8,1163.9 1625.3,1163.7 1625.8,1163.3 1626.3,1162.9 1626.8,1163.2 1627.3,1162.4 1627.8,1161.9 1628.3,1160.5 1628.8,1157.3 1629.3,1155.5 1629.8,1153.2 1630.3,1152.9 1630.8,1152.2 1631.0,1152.3 1631.3,1151.9 1631.8,1153.1 1632.3,1154.5 1632.8,1155.9 1633.3,1158.9 1633.8,1161.3 1634.3,1162.9 1634.8,1162.9 1635.3,1163.7 1635.8,1163.3 1636.3,1163.1 1636.8,1163.0 1637.3,1163.2 1637.8,1163.5 1638.3,1163.3 1638.8,1163.6 1639.3,1162.9 1639.8,1163.7 1640.3,1163.0 1640.8,1163.4 1641.3,1163.0 1641.8,1162.8 1642.3,1162.6 1642.8,1163.7 1643.3,1163.9 1643.8,1163.3 1644.3,1163.5 1644.8,1163.1 1645.3,1163.0 1645.8,1162.9 1646.3,1162.7 1646.8,1163.7 1647.3,1164.0 1647.8,1163.0 1648.3,1163.0 1648.8,1163.0 1649.3,1163.8 1649.8,1163.1 1650.3,1163.0 1650.8,1163.3 1651.3,1162.8 1651.8,1163.7 1652.3,1163.7 1652.8,1163.2 1653.3,1163.4 1653.8,1162.8 1654.3,1163.5 1654.8,1163.0 1655.3,1163.0 1655.8,1163.1 1656.3,1162.7 1656.8,1162.6 1657.3,1163.5 1657.8,1162.9 1658.3,1163.7 1658.8,1163.3 1659.3,1163.8 1659.8,1163.7 1660.3,1163.0 1660.8,1163.0 1661.3,1163.0 1661.8,1163.6 1662.3,1163.0 1662.8,1162.9 1663.3,1163.0 1663.8,1163.2 1664.3,1163.6 1664.8,1163.2 1665.3,1163.3 1665.8,1163.4 1666.3,1163.0"/>
<line class="dash" x1="651.5" y1="1004.5" x2="651.5" y2="1071.5"/>
<line class="dash" x1="909.6" y1="989" x2="909.6" y2="1107"/>
<text class="pk" transform="translate(211.5,1044.8) scale(0.935,1)">1</text>
<text class="pk" transform="translate(249.5,1044.8) scale(0.935,1)">2</text>
<text class="pk" transform="translate(333,950.4) scale(0.935,1)">3</text>
<text class="pk" transform="translate(364,1148.6) scale(0.935,1)">4</text>
<text class="pk" transform="translate(495.5,1079.2) scale(0.935,1)">5</text>
<text class="pk" transform="translate(523.2,1120.4) scale(0.935,1)">6</text>
<text class="pk" transform="translate(552,1152.3) scale(0.935,1)">7</text>
<text class="pk" transform="translate(611.5,1110.8) scale(0.935,1)">8</text>
<text class="pk" transform="translate(626.5,1038.3) scale(0.935,1)">9</text>
<text class="pk" transform="translate(650,980.4) scale(0.957,1)">10-12</text>
<text class="pk" transform="translate(691,1140.0) scale(0.935,1)">13</text>
<text class="pk" transform="translate(720.5,1102.2) scale(0.935,1)">14</text>
<text class="pk" transform="translate(738.5,1064.4) scale(0.935,1)">15</text>
<text class="pk" transform="translate(779,1128.3) scale(0.935,1)">16</text>
<text class="pk" transform="translate(874.5,1133.4) scale(0.935,1)">17</text>
<text class="pk" transform="translate(907,978.7) scale(0.957,1)">18-20</text>
<text class="pk" transform="translate(953.5,1085.2) scale(0.935,1)">21</text>
<text class="pk" transform="translate(974.5,1119.4) scale(0.935,1)">22</text>
<text class="pk" transform="translate(997,676.0) scale(0.935,1)">23</text>
<text class="pk" transform="translate(1033.5,1128.3) scale(0.935,1)">24</text>
<text class="pk" transform="translate(1160,1138.0) scale(0.935,1)">25</text>
<text class="pk" transform="translate(1216.5,1135.2) scale(0.935,1)">26</text>
<text class="pk" transform="translate(1288.5,1112.9) scale(0.935,1)">27</text>
<circle cx="1252.7" cy="651.8" r="15.7" fill="#1070b8"/>
<text class="lg" x="1279.3" y="661.8" textLength="414.5" lengthAdjust="spacingAndGlyphs">Microchamber faecal headspace</text>
<circle cx="1252.7" cy="690.4" r="15.7" fill="#d9541c"/>
<text class="lg" x="1279.3" y="699.6" textLength="265" lengthAdjust="spacingAndGlyphs">Microchamber blank</text>
</g>
</svg></body></html>
